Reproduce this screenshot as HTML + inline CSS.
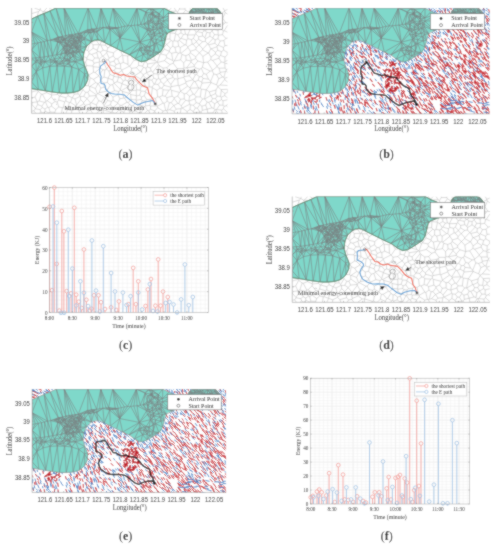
<!DOCTYPE html><html><head><meta charset="utf-8"><style>html,body{margin:0;padding:0;background:#fff;}svg{display:block}</style></head><body><svg width="498" height="550" viewBox="0 0 498 550"><defs><clipPath id="pc"><rect x="31.6" y="8" width="196" height="105.3"/></clipPath><g id="land"><path d="M31.6 19L34.5 17.5L38.4 15.8L42.5 14L46.9 12.3L51.5 10.2L56 8L163.6 8L166.5 9.6L169.3 11.2L172.5 12.4L175.7 13.6L178.5 18L179 24L178.3 28.8L175.7 29.7L172 30.9L168.5 32.1L166 35.3L165.2 40.1L163.6 46.6L161.2 51.4L156.4 54.6L151.6 57.8L146 61L141.1 61.8L136.3 59.6L130.7 55.3L126.5 53.3L122.7 51.6L118.5 49.5L114.6 47.5L110 45.3L105 42.8L100.6 40.2L97 39.9L94 40.2L91.2 41.8L89 43.6L87 45.8L85.5 48.2L84.2 51.5L83.4 55L83.1 60.6L84.8 66.2L86.6 70.5L88.3 74.7L87.6 80.3L86.3 83.2L84.8 85.9L82.2 88.6L79.2 90.8L75.7 92L72.2 92.7L67.2 93.1L62.3 93.2L56.7 92.6L51.1 91.8L46.1 91L41.2 90.1L36.4 89.4L31.6 88.7ZM188.8 14.5L189.8 11.5L192.3 8.6L195 8L214.5 8L217.2 8.8L219.2 10.6L220.6 12.6L221.6 14.5L221.6 20L188.8 20Z" fill="#7fd8ca"/><path d="M154.7 44L152.5 38.5M84.9 66.4L78.8 69.4M71.9 45.6L70 46.1M163.5 46.8L159.7 52.4M56 8L64 8M63.3 39.9L63.4 39M59.6 37.4L58.1 37.2M64 8L88 8M71 43.6L73.3 42M99.9 27.9L103.1 27.5M55.5 60.8L56.7 61.3M59.2 64L63.3 63.5M69.5 39.1L71.5 40.5M103.1 27.5L106.3 27.3M60.8 54.2L65 53.3M56.7 61.3L55.6 61.4M84.7 32.6L84.9 38M154.2 24.1L155.1 23.5M161.2 28.1L162.7 26.4M80.6 35.7L80.7 34.9M155.1 23.5L153.3 21.2M89.3 30.1L87.8 29.7M53.7 60.8L50.2 59.9M78.8 39.3L78.2 38.5M140.7 48.1L139.3 49.8M153.1 10.2L152.9 11.9M142 47.6L144.4 46.5M120 38L140 42M159.6 20L161.5 22.6M121.7 26.9L120 38M63.3 47.4L59.9 42.8M64.3 45.7L66.2 44.1M56.7 54.7L59.9 42.8M78.3 48.1L77.9 49.4M178.7 20.3L173.2 30.5M49.8 66.3L50.8 62.2M71.2 38.1L71.5 40.5M79.9 35.3L77.8 36.4M73.3 54.7L71.7 53.7M79 40.3L78.6 41M53.7 60.8L55 61.7M67.1 50.8L66.6 50.8M72.9 50.8L73.9 51.9M65.4 39.1L64.8 39.5M62.4 40.6L61.2 42.4M74 38.5L73.5 39.3M66.4 52.3L65.7 51.9M160.6 36.4L156.3 39.6M142 47.6L141.1 50.4M163.5 46.8L156.3 43.2M73.5 52L73.9 51.9M160 28.3L161.2 28.1M38.5 89.7L36.3 71.6M159.3 13.7L163.4 17.7M83.9 52.8L80.6 49.3M66.3 60.4L63.3 63.5M145.9 47.7L144.4 46.5M65.6 40.7L64.6 42M40.6 59.7L36.6 60.5M88.5 32.8L90.9 32.8M79.1 51.2L78.7 52.1M66.1 53.9L66.6 52.5M70 47.7L70 46.9M90.9 32.8L89.3 32.5M78.6 39.9L76.8 41.1M50 10.9L62.6 36.4M150.6 14.5L151.8 14.1M148.7 50.5L150.1 50.8M76.5 53.4L77.9 51.7M72.5 43.9L71 43.6M64.5 45.9L64.3 45.7M157 28L156.9 25.4M66.4 52.3L65.9 53.7M73.2 41.4L73.6 42.1M71.6 37L71.2 38.1M143.9 24L147.9 20.5M64.3 45.7L65 43.1M84.4 39.4L81.6 37.2M76.4 48.1L76.4 50.6M63.8 50.3L65.6 50.5M153.9 56.3L147.9 59.9M62.4 40.6L63.1 40.4M50.8 62.2L45 61.7M101 8L113 8M60.4 42.9L61.2 42.4M167.3 33.6L162.7 26.4M123.1 51.8L120 38M159.1 16.4L159.3 13.7M143.9 24L148.4 24.3M66.3 60.4L64.4 58.9M176 14.1L163.4 17.7M53.7 60.8L55.5 60.8M69.2 62.5L75.5 61.7M73.8 51.9L73.9 51.9M69 60.5L70 61.1M57.1 66L59.2 64M152.9 11.9L149.8 8.5M45.4 90.9L49.8 66.3M112.6 27.9L110.4 28.4M94.1 31.9L93.4 31.1M67.6 45.8L67.9 44.1M115.9 28.3L115.6 27.6M88 8L87.8 29.7M42.6 59.8L40.6 59.7M77.3 48.3L76.4 46.6M74.3 52.4L73.9 51.9M72.9 44.9L71.8 45.2M74.7 36.7L74.2 38.2M135.1 58.7L139.3 49.8M76.4 50.6L77.9 49.4M67.9 44.1L68.6 42.4M113 8L118.7 27.7M66.1 38.2L64.3 38.4M116.9 48.7L110.7 45.6M157.8 16.4L159.3 13.7M78.4 34L80.7 34.9M60.8 54.2L60 57.8M50.8 62.2L53.7 60.8M81.2 38.7L80.4 38M63.4 39L63.3 38.8M75.1 41.6L76.2 41.1M53.6 39.5L58.1 37.2M31.6 32L31.6 44M128 25.8L131.2 25.6M67.6 45.8L67.5 46.7M155.2 15.8L155.2 16.4M31.6 66L31.6 77M131.2 25.6L134.4 25.3M78.2 38.5L77.4 37.9M59.9 42.8L58.3 42.1M71 43.6L68.6 42.4M153.3 29.6L154.2 32.5M75.5 61.7L70.3 58.4M82.2 36.2L81.6 37.2M68.8 51.4L68.9 52.3M77.3 48.3L77.8 46M78.6 39.9L78.6 41M75.1 41.6L74.3 42.6M154.7 44L153.9 51M78 43.4L80.7 41.8M155.2 15.8L157.8 16.4M87.6 31.2L89.3 30.1M41.8 61.3L41.5 62.6M64 8L72 34.4M64.4 49.1L65.6 50.5M147.8 54L146 52.1M110 29.4L120 38M115.6 28.5L120 38M112.6 27.9L114.6 28.2M68.4 40.9L66.1 38.2M83.1 59.7L76.5 53.4M147.9 59.9L150 55.8M63.8 50.3L65 52.3M61.6 39.3L62.6 40.2M59.9 41.2L60.4 42.9M113 8L128 25.8M82.2 36.2L84.9 38M61.5 37.2L61.6 39.3M71.2 38.1L73.4 38.6M159.6 20L163.4 17.7M50.4 40.1L57.7 42M69.3 59.8L70.3 58.4M71.9 45.6L71.9 48.4M66.2 43.8L66.2 44.1M163 24.2L161.3 24M113 8L108.9 26.8M137 8L145.8 12.3M91.6 41.6L84.9 38M59.6 37.4L61.5 37.2M151.9 13.2L151.6 13M68.8 51.4L69.5 49.5M37.7 16.1L47.3 40.7M75.4 47L76 47.6M73.3 54.7L73 56.2M152.6 12.6L151.9 13.2M88.5 32.8L89.3 32.5M154.2 33.8L154.2 32.5M41.1 64.8L45 61.7M66.1 38.2L69.2 39M124.9 26.2L120 38M71.9 45.6L74.2 46M67.1 44.7L66.2 44.1M74.3 42.6L75.6 43.7M71 43.6L71.8 45.2M67.6 44L67.9 44.1M71.2 38.1L68.7 37.1M104.5 42.5L98.1 40M83.1 59.7L78.7 52.1M49.8 66.3L45 61.7M77.8 36.4L77.6 37.3M48.4 56.2L52.5 55.5M160.6 36.4L163.2 34.1M90.8 30.8L92.9 31.4M137.6 25L140.8 24.5M163.6 8L163.4 17.7M31.6 19L31.6 32M149.9 46.4L147 46M56.6 38.6L56.3 39.7M154.2 24.1L152.4 22.4M153.9 56.3L153.1 54.3M65.2 39.9L64.8 39.5M69.2 62.5L69 61M149.7 47.2L145.9 47.7M152.4 29.9L150.3 31M160 28.3L159.5 33.2M77.9 51.7L76.4 50.6M147 23L147.9 20.5M80.7 47L79.6 45.5M76 47.6L76.4 48.1M87.7 79.6L84.5 74M161.5 22.6L163.4 21M77.3 48.3L77 48.7M87.5 72.8L87.7 79.6M90.8 30.8L89.3 30.1M81.3 41.3L80.7 41.8M84.7 32.6L82.2 36.2M66.3 60.4L67.5 59.1M71.6 37L71.6 36.7M56.6 38.6L54.9 39.6M76 47.6L75.6 47.9M147 23L148.4 24.3M68.6 51.3L68.8 51.4M71.9 48.4L72.3 48.7M75.9 45.7L74.9 44M150.3 31.8L154.2 32.5M72 34.4L72.5 36M148.7 50.5L145.9 47.7M62.4 40.6L62.6 40.2M59.9 42.8L60.4 42.9M156.3 39.6L161.9 40.6M153.9 51L153.1 52.6M64.5 66.2L59.2 64M70.4 47.3L70 47.7M72.5 52.2L73.3 52.9M148.5 14.8L151.6 13M77.1 38.2L74.2 38.2M109.6 28.2L109.7 28.6M53.7 60.8L54.9 62.4M90.9 32.8L92.9 31.4M109.3 28.3L109.7 28.6M74 38.5L76 40.3M167.3 33.6L165.2 40.1M73.3 54.7L74.3 52.4M53.7 60.8L54.4 58.8M84.9 38L84.4 39.4M63.3 38.8L62.6 40.2M52.5 55.5L57.7 42M50 10.9L56 8M156.3 43.2L161.9 40.6M96.8 28.6L99.9 27.9M129.5 54.7L140 42M72.5 36L71.6 36.7M67.5 59.1L69.3 59.8M62.6 60.8L56.7 61.3M151.3 34.5L151.2 36.7M78 43.4L78.6 41M67.6 44L66.2 43M104.5 42.5L103.1 27.5M73.8 40.2L75.3 41M86.6 46.4L81.3 41.3M65 52.3L65.7 51.9M73.2 56.3L76.6 59.8M145.8 12.3L151.6 13M78.6 39.9L77.1 38.2M148.7 50.5L147.8 54M147.8 54L150.1 50.8M70 47.7L67 49.1M60.8 54.2L64.3 58.4M40.5 61.4L41.5 62.6M110 29.4L109.7 28.6M147.9 20.5L148.5 14.8M159.1 16.4L158.7 18.7M141.1 50.4L139.3 49.8M118.7 27.7L120 38M141.3 61.8L135.1 58.7M68.6 51.3L68.9 52.3M66.1 45.8L66.4 46.7M135.1 58.7L143.2 54.5M76.1 37.1L74.2 38.2M135.1 58.7L129.5 54.7M113 8L124.9 26.2M137 8L152 8M79.6 45.5L78 43.4M153.2 15.6L150.6 14.5M137 8L128 25.8M87.8 31.9L88.5 32.8M31.6 50L34.8 43.4M150.7 20.1L147.9 20.5M163.6 8L153 9.3M81.9 40.1L81.3 41.3M53.6 39.5L57.7 42M118.7 27.7L121.7 26.9M153.7 44.7L149.7 47.2M79.1 37.5L77.6 37.3M70 61.1L70.3 58.4M77.6 36.5L76.8 37.1M64.4 49.1L64.9 48.5M163 24.2L162.7 26.4M154.5 16.7L151.7 20.5M73.4 38.6L74.2 38.2M68.8 63.6L67.8 64.2M157.8 16.4L158.7 18.7M159.1 16.4L157.8 16.4M151.8 14.1L151.6 13M147.9 59.9L147.8 54M60.8 54.2L63.3 47.4M78.6 39.9L76 40.3M43.8 13.5L47.3 40.7M64.3 38.4L62.5 37.3M75.4 47L74.2 46M110.4 28.4L109.6 28.2M152.7 14.3L151.9 13.2M75.9 45.7L76.4 46.6M106.3 27.3L108.9 26.8M80.6 49.3L77.9 49.4M115.6 27.6L114.6 28.2M71.1 47.9L71.9 48.4M64 8L78.3 33.6M67.9 44.1L67.1 44.7M69 60.5L69 61M147.8 54L150 55.8M157.8 16.4L155.2 16.4M40.5 61.4L40.2 63.2M84.9 66.4L84.5 74M73.3 54.7L75.2 56.2M67.3 54.9L70.3 58.4M68.6 51.3L69.5 49.5M67.9 44.1L69.2 44.8M59.9 41.2L61.2 42.4M66.6 50.8L65.7 51.9M61.5 37.2L62.5 37.3M142 47.6L140 42M157.1 23.6L156.9 25.4M78.8 39.3L81.2 38.7M66.6 52.5L67.6 54.4M79.6 45.5L78.7 47M71 43.6L69.2 44.8M66.6 52.5L68.9 53.8M154.7 44L151.2 39.1M75.1 41.6L75.3 41M153 9.3L153.1 10.2M157.1 23.6L158.7 23.5M35.9 62.3L36.6 60.5M153.1 54.3L153.1 52.6M41.1 64.8L40.2 63.2M110.4 28.4L110 29.4M163 24.2L161.5 22.6M129.5 54.7L123.1 51.8M90.8 30.8L90.9 32.8M56.7 54.7L60 57.8M162.4 31.4L162.3 29.3M123.1 51.8L116.9 48.7M79.2 41.6L80.7 41.8M63.2 40.7L61.2 42.4M157.1 23.6L155.1 23.5M158.8 23.6L158.4 21M71.8 45.2L72.4 44.6M121.7 26.9L124.9 26.2M63.3 39.9L63.3 38.8M124.9 26.2L128 25.8M56.8 63.1L56.7 61.3M75.6 47.9L76.4 50.6M76.4 46.6L76.4 48.1M41.1 42.2L40 57.5M79.9 35.3L78.4 34M65.8 52.2L66.4 52.3M66.1 53.9L67.6 54.4M73.6 42.1L74.3 42.6M67.2 45.4L66.1 45.8M78.8 39.3L80.4 38M150.7 20.1L148.5 14.8M65 53.3L65.9 53.7M69.5 49.5L71.7 52.2M59.2 92.9L57.1 66M109.3 28.3L110 29.4M152.4 29.9L149.9 28.8M71.8 45.2L70 46.1M154.6 35.5L152.5 38.5M86.6 46.4L83.9 52.8M69.7 52.4L71.7 52.2M69.2 62.5L68.8 63.6M72.9 50.8L76.4 50.6M67.3 54.9L67.6 54.4M41.1 42.2L44.2 41.5M81.2 37.6L81.2 38.7M56.7 54.7L57.7 42M143.9 24L147 23M123.1 51.8L140 42M67.8 64.2L63.3 63.5M67.6 44L66.2 44.1M156.3 39.6L154.6 35.5M70 46.9L67.5 46.7M69.2 62.5L67.8 64.2M69.5 41.6L70.2 40.9M73.5 52L73.8 51.9M152.9 11.9L151.6 13M73.2 41.4L73.3 42M140.7 48.1L139.9 47.8M94.1 31.9L96.9 32.2M70.1 36.1L71.2 38.1M64.5 66.2L63.3 63.5M65.7 35.5L66.1 38.2M65 53.3L64.3 58.4M154.6 35.5L154.4 33.3M159.3 13.7L159.2 16.3M77.1 38.2L77.4 37.9M67.6 44L66.2 43.8M151.2 36.7L151.2 39.1M153.1 14.3L152.9 11.9M66.1 93.1L71.8 67M31.6 58.2L35.5 61.8M64.5 45.9L63.9 47.4M57.7 42L58.5 39.5M151.2 39.1L149.9 46.4M83.1 59.7L76.6 59.8M81.2 38.7L84.4 39.4M71.8 67L69.2 62.5M31.6 50L31.6 44M81.9 40.1L81.2 38.7M58.5 39.5L58.5 38M31.6 32L34.8 43.4M161.3 24L161.2 28.1M79 40.3L81.3 41.3M70 61.1L69 61M75.6 43.7L77.2 43.8M84.9 38L81.6 37.2M96.8 28.6L91.5 29.1M62.4 40.6L63.2 40.7M160 28.3L162.4 31.4M48.4 56.2L50.2 59.9M167.3 33.6L163.2 34.1M141.1 50.4L144.8 50M47.3 40.7L48.4 56.2M149.8 8.5L151.6 13M71.1 47.9L70.4 47.3M64.3 58.4L64.4 58.9M87.6 31.2L87.8 29.7M69.5 41.6L70.3 40.9M90.9 32.8L89.5 32.3M50 10.9L58.1 37.2M156.3 43.2L153.9 51M65.7 35.5L68.4 36.7M71 43.6L71.5 40.5M40.5 61.4L36.6 60.5M40 57.5L40.6 59.7M64.8 39.5L65.4 39.2M141.1 50.4L143.2 54.5M147.9 59.9L143.2 54.5M75.1 41.6L75.4 42.6M158.7 23.5L156.9 25.4M151.7 20.5L153.3 21.2M75.9 45.7L74.2 46M83.1 59.7L84.9 66.4M71.1 47.9L69.5 49.5M57.1 66L56.8 63.1M70.4 53L71.7 52.2M84.7 32.6L87.6 31.2M84.9 66.4L87.5 72.8M65.4 39.1L64.3 38.4M47.3 40.7L50.4 40.1M62.6 60.8L57.9 63.3M58.5 38L59.4 37.4M93.8 29.7L94.7 29.5M74.7 36.7L72.5 36M50.4 40.1L53.6 39.5M73.7 44.1L74.9 44M74 38.5L74.2 38.2M69.7 52.4L68.9 53.8M73 56.2L71 53.6M76.6 43.1L76.2 41.1M31.6 77L36.3 71.6M148.1 33.9L147.3 30.1M150.3 31L149.9 28.8M96.8 28.6L94.7 29.5M75.2 34L73.9 35.6M115.6 28.5L115.9 28.3M73.5 39.3L71.5 40.5M152.8 15L153.1 14.3M78.6 39.9L78.8 39.3M79.1 51.2L77.9 51.7M74 38.5L73.4 38.6M141.1 50.4L140.7 48.1M75.9 45.7L76 46.1M144.8 50L143.2 54.5M103.1 27.5L110 29.4M149.7 47.2L150.1 50.8M70 47.7L69.5 49.5M66.6 52.5L65.9 53.7M147.1 51L146 52.1M79.2 41.6L78.6 41M158.7 18.7L163.4 17.7M31.6 66L35.9 62.3M147.3 30.1L150.3 31M68.8 34.9L72 34.4M66.1 45.8L65.1 46.5M137 8L145.6 11.5M59.6 37.4L58.5 39.5M63.3 47.4L64.3 45.7M72.5 52.2L71.7 53.7M69.2 44.8L68.6 42.4M78.8 69.4L75.5 61.7M55 61.7L55.6 61.4M154.2 33.8L154.6 35.5M139.3 49.8L143.2 54.5M162.3 29.3L162.7 26.4M149.7 47.2L149.9 46.4M156.3 43.2L154.7 44M137 8L149.8 8.5M59.6 37.4L59.4 37.4M41.8 61.3L42.6 59.8M155.2 15.8L152.9 11.9M153.1 10.2L149.8 8.5M145.6 11.5L145.8 12.3M160 28.3L156.9 25.4M49.8 66.3L54.9 62.4M96.9 32.2L97.1 31.5M115.6 28.5L115.6 27.6M154.2 24.1L155.5 25.5M52.3 92L57.1 66M112.4 28.8L110 29.4M76.6 43.1L76.8 41.1M151.2 39.1L140 42M77.4 37.9L76.8 37.1M67.2 45.4L67.9 44.1M69.5 49.5L68.2 50.7M66.1 53.9L65.9 53.7M80.7 47L80.7 41.8M80.6 35.7L81.6 37.2M112.4 28.8L115.6 28.5M143.9 24L147.9 29.1M99.9 27.9L97.1 31.5M76.4 48.1L77 48.7M158.4 21L159.6 20M55.5 60.8L55.6 61.4M72.9 44.9L72.4 44.6M142 47.6L144.8 50M152.4 29.9L150.3 31.8M68.8 34.9L70.1 36.1M153.9 51L150.1 50.8M79.9 35.3L80.7 34.9M160.6 36.4L159.5 33.2M162.4 31.4L163.2 34.1M56.7 54.7L63.3 47.4M92.8 30L92.9 31.4M159.3 13.7L153.1 10.2M63.9 47.4L65.1 46.5M52.5 55.5L54.4 58.8M66.1 93.1L64.5 66.2M69.2 44.8L71.8 45.2M66.1 53.9L64.3 58.4M110.7 45.6L104.5 42.5M35.8 57.8L35.5 61.8M70.1 36.1L71.6 36.7M79 40.3L81.2 38.7M157.8 29.5L157 28M69.2 62.5L66.3 60.4M65 43.1L65.4 43M148.4 24.3L147.9 29.1M56.8 63.1L57.9 63.3M134.4 25.3L137.6 25M160 28.3L162.3 29.3M57.7 42L56.3 39.7M74.7 36.7L73.9 35.6M153.1 27.3L154.2 24.1M87.8 31.9L89.3 32.5M68.4 36.7L66.1 38.2M67.3 54.9L64.3 58.4M66.3 60.4L67.8 64.2M67.6 44L68.6 42.4M64.3 58.4L67.5 59.1M77.3 48.3L78.7 47M58.5 39.5L59.4 37.4M145.9 47.7L144.8 50M148.6 28.4L149.9 28.8M79.1 51.2L79.3 51.9M72.9 50.8L69.5 49.5M155.1 23.5L152.4 22.4M31.6 50L31.6 58.2M73.8 40.2L73.5 39.3M70 46.1L69.1 45.8M77.3 48.3L76.4 48.1M67.1 50.8L67 49.1M152.8 15L151.8 14.1M142 47.6L140.7 48.1M79.6 45.5L80.7 41.8M148.1 33.9L140 42M71.6 37L72.5 36M73.5 39.3L73.4 38.6M115.9 28.3L117.4 28.1M72.5 43.9L72.4 44.6M77.8 46L76.4 46.6M71.1 47.9L71.9 45.6M42.6 59.8L45 61.7M65.4 43L64.6 42M141.3 61.8L143.2 54.5M76.6 43.1L78 43.4M76.4 50.6L73.9 51.9M73.2 56.3L70.3 58.4M74 40L75.3 41M84.7 32.6L88.5 32.8M64.5 45.9L65.1 46.5M62.6 60.8L66.3 60.4M71.2 38.1L69.2 39M57.7 42L54.9 39.6M137 8L131.2 25.6M87.8 31.9L87.6 31.2M81.2 38.7L81.6 37.2M71.8 67L68.8 63.6M31.6 50L37.9 42.9M77.6 37.3L76.8 37.1M104.5 42.5L110 29.4M154.6 35.5L159.5 33.2M76.6 43.1L77.2 43.8M31.6 32L41.1 42.2M54.9 39.6L56.3 39.7M158.4 21L153.3 21.2M69 60.5L67.5 59.1M74.3 42.6L74.9 44M151.3 34.5L150.3 31.8M43.8 13.5L50.4 40.1M77.8 46L78.7 47M152.7 14.3L151.8 14.1M91.5 29.1L92.8 30M150.1 50.8L150 55.8M153.7 44.7L153.9 51M68.4 36.7L68.7 37.1M62.6 36.4L62.5 37.3M115.6 27.6L117.4 28.1M148.1 33.9L151.3 34.5M73.2 56.3L75.5 61.7M147.8 54L143.2 54.5M70.3 40.9L71.5 40.5M66.6 50.8L67 49.1M70.1 36.1L71.8 35.3M98.1 40L91.6 41.6M44.2 56.9L45 61.7M64.6 42L63.2 40.7M67.5 46.7L67 49.1M91.6 41.6L86.6 46.4M34.8 43.4L37.9 42.9M59.9 42.8L57.7 42M58.3 42.1L59.9 41.2M37.9 42.9L41.1 42.2M62.6 60.8L60 57.8M140.8 24.5L143.9 24M75.4 47L75.6 47.9M54.4 58.8L56.7 61.3M158.4 21L154.5 16.7M169.7 11.3L163.4 17.7M143.9 24L145.8 12.3M68.6 51.3L68.2 50.7M69.5 41.6L68.6 42.4M96.8 28.6L97.1 31.5M41.8 61.3L40.5 61.4M65 43.1L61.2 42.4M73.7 44.1L72.9 44.9M70 47.7L67.5 46.7M152 8L149.8 8.5M52.3 92L49.8 66.3M77.8 46L75.9 45.7M152.6 12.6L151.6 13M118.7 27.7L115.6 27.6M69.7 52.4L70.4 53M69.2 39L68.7 37.1M74 40L76 40.3M63.8 50.3L64.4 49.1M110.4 28.4L109.7 28.6M65.6 40.7L63.2 40.7M71.8 35.3L71.6 36.7M66.1 38.2L68.7 37.1M73 92.5L71.8 67M80.6 35.7L79.3 37.5M66.2 43L65.4 43M42.7 67.9L49.8 66.3M77.6 36.5L78.4 34M65.4 39.1L65.4 39.2M76.6 59.8L75.5 61.7M103.1 27.5L97.1 31.5M76 46.1L75.5 46.7M59.9 40.8L61.6 39.3M69 60.5L66.3 60.4M41.1 42.2L44.2 56.9M57.9 63.3L59.2 64M71.6 37L73.4 38.6M72.5 52.2L71.7 52.2M153.7 44.7L154.7 44M55 61.7L54.9 62.4M64.8 39.5L64.3 38.4M89.3 30.1L91.5 29.1M54.4 58.8L50.2 59.9M150.6 14.5L151.6 13M150.7 20.1L150.6 14.5M129.5 54.7L139.9 47.8M94.7 29.5L97.1 31.5M72.5 43.9L73.7 44.1M56.7 54.7L54.4 58.8M59.2 92.9L64.5 66.2M154.4 33.3L159.5 33.2M65.6 40.7L65.2 39.9M112.4 28.8L120 38M73.7 44.1L74.2 46M71.7 53.7L73.3 52.9M76 47.6L75.5 46.7M153.1 54.3L150 55.8M153.9 56.3L150 55.8M71.7 53.7L71.7 52.2M83.1 59.7L79.3 51.9M173.2 30.5L163 24.2M69.5 49.5L72.3 48.7M59.9 40.8L58.3 42.1M66.4 46.7L67.5 46.7M83.9 52.8L83.1 59.7M72.5 36L74.2 38.2M163.6 8L159.3 13.7M67.6 45.8L69.2 44.8M44.2 41.5L47.3 40.7M74.2 46L72.3 48.7M154.2 33.8L151.3 34.5M68.6 51.3L66.6 52.5M63 62.4L59.2 64M149.9 28.8L147.9 29.1M161.9 37L163.2 34.1M68.9 53.8L68.9 52.3M160 28.3L161.3 24M153.2 15.6L151.7 20.5M101 8L108.9 26.8M152.4 29.9L153.3 29.6M76.2 52.1L74.3 52.4M72.5 36L73.4 38.6M93.4 31.1L92.8 30M112.4 28.8L112.6 27.9M77.1 38.2L76.8 37.1M159.3 13.7L152.9 11.9M88 8L96.8 28.6M77.3 48.3L77.9 49.4M148.1 33.9L151.2 36.7M72.9 44.9L74.2 46M72.5 43.9L72.9 44.9M101 8L96.8 28.6M79.6 90.5L73 92.5M77.6 37.3L77.4 37.9M77.9 51.7L77.9 49.4M31.6 32L37.9 42.9M79 40.3L79.2 41.6M73 92.5L66.1 93.1M91.6 41.6L88.5 32.8M62.6 36.4L65.7 35.5M67.1 50.8L66.4 52.3M157.8 29.5L154.4 33.3M75.9 45.7L77.2 43.8M150 22L148.6 21.6M65.7 35.5L68.8 34.9M59.9 42.8L59.9 41.2M57.1 66L64.5 66.2M156.3 39.6L152.5 38.5M75.6 47.9L76.4 48.1M79.3 51.9L79.9 50.4M65.6 50.5L67 49.1M73.3 52.9L74.3 52.4M64.5 66.2L71.8 67M154.6 35.5L152.3 38.1M47.3 40.7L52.5 55.5M148.5 14.8L150.6 14.5M71.8 67L75.5 61.7M145.9 47.7L147 46M176 14.1L163.4 21M31.6 50L40 57.5M79 40.3L78.8 40.2M86.6 46.4L84.4 39.4M90.9 32.8L94.1 31.9M72.9 50.8L71.7 52.2M148.7 50.5L147.1 50.4M73.5 52L73.3 52.9M78.3 33.6L78.4 34M147.9 20.5L145.8 12.3M109.3 28.3L108.9 26.8M94.1 31.9L94.7 29.5M70.4 47.3L70 46.9M68.4 40.9L66.2 43M88 8L91.5 29.1M71 53.6L71.7 52.2M157.8 29.5L153.3 29.6M48.4 56.2L45 61.7M71 53.6L70.3 58.4M77.8 36.4L77.6 36.5M76.1 37.1L76.8 37.1M81.2 37.6L80.6 35.7M73.3 42L71.5 40.5M57.5 39.2L57.7 42M83.1 59.7L75.5 61.7M78.6 39.9L78.2 38.5M137 8L137.6 25M87.8 31.9L89.3 30.1M143.9 24L147.3 30.1M81.9 40.1L84.4 39.4M67.6 44L67.1 44.7M64.3 58.4L62.6 60.8M63.8 50.3L63.3 47.4M53.6 39.5L54.9 39.6M66.1 53.9L67.3 54.9M72 34.4L73.9 35.6M72.9 50.8L75.6 47.9M31.6 32L47.3 40.7M113 8L115.6 27.6M150 22L152.4 22.4M173.2 30.5L163.4 21M67.6 54.4L68.9 53.8M91.5 29.1L94.7 29.5M150 22L151.7 20.5M78.3 48.1L78.7 47M69.5 39.1L70.2 40.9M40 57.5L36.6 60.5M76.6 43.1L75.4 42.6M79.1 37.5L79.3 37.5M66.1 93.1L59.2 92.9M144.4 46.5L140 42M62.6 36.4L58.1 37.2M77.6 36.5L76.1 37.1M59.2 92.9L52.3 92M78.6 41L78.8 40.2M83.9 52.8L79.3 51.9M57.1 66L57.9 63.3M77.2 43.8L78 43.4M72 34.4L75.2 34M159.6 20L163.4 21M78.8 69.4L84.5 74M153.1 52.6L150.1 50.8M65.2 39.9L65.4 39.2M158.8 23.6L156.9 25.4M158.4 21L158.7 18.7M144.8 50L147.1 50.4M87.8 29.7L91.5 29.1M147.1 51L147.8 54M68.8 34.9L71.8 35.3M147.3 30.1L150.3 31.8M153.7 44.7L151.2 39.1M68.4 40.9L70.2 40.9M158.8 23.6L158.7 23.5M64.8 39.5L63.4 39M79.6 90.5L78.8 69.4M64.4 49.1L63.3 47.4M178.5 27.2L173.2 30.5M58.1 37.2L58.5 38M67.3 54.9L68.9 53.8M69.5 39.1L70.3 40.9M75.3 41L76.2 41.1M90.8 30.8L89.5 32.3M76 40.3L74.2 38.2M37.7 16.1L43.8 13.5M153.2 15.6L153.1 14.3M73.2 41.4L71.5 40.5M110.7 45.6L110 29.4M158.7 18.7L159.2 16.3M31.6 66L35.5 61.8M65 53.3L66.1 53.9M78.8 39.3L79 40.3M159.7 52.4L156.3 43.2M64.9 48.5L67 49.1M165.2 40.1L161.9 40.6M154.2 32.5L154.4 33.3M76.4 46.6L75.5 46.7M63.3 47.4L63.9 47.4M159.6 20L158.7 18.7M75.2 34L77.6 36.5M157.1 23.6L155.5 25.5M73.7 44.1L74.3 42.6M65 52.3L65.8 52.2M153.1 52.6L150 55.8M71.1 47.9L70 47.7M56 8L62.6 36.4M144.8 50L144.4 46.5M69.5 39.1L71.2 38.1M137.6 25L140 42M41.8 61.3L40.6 59.7M145.6 11.5L149.8 8.5M42.7 67.9L41.1 64.8M153.1 27.3L155.5 25.5M79.1 51.2L79.9 50.4M63.3 39.9L63.1 40.4M65 43.1L64.6 42M81.2 37.6L80.4 38M148.4 24.3L148.6 21.6M31.6 44L34.8 43.4M116.9 48.7L120 38M70.4 47.3L70 46.1M151.2 36.7L152.3 38.1M153.1 27.3L149.9 28.8M50.4 40.1L52.5 55.5M31.6 50L35.8 57.8M63.3 47.4L60.4 42.9M63 62.4L63.3 63.5M69.2 62.5L70 61.1M147 46L144.4 46.5M178.7 20.3L163.4 21M150.3 31.8L150.3 31M73.8 40.2L71.5 40.5M65.6 50.5L65.7 51.9M69.5 49.5L67 49.1M56.8 63.1L55.6 61.4M160.6 36.4L154.6 35.5M152.4 29.9L154.2 32.5M76.2 52.1L73.9 51.9M151.9 13.2L151.8 14.1M108.9 26.8L115.6 27.6M81.5 33.1L78.4 34M64.3 45.7L63.9 47.4M93.4 31.1L94.7 29.5M71.9 45.6L71.8 45.2M148.4 24.3L148.6 28.4M74 40L73.5 39.3M64.9 48.5L66.4 46.7M86.6 46.4L80.7 47M79.9 35.3L80.6 35.7M81.5 33.1L82.2 36.2M151.2 39.1L147 46M137 8L134.4 25.3M56.6 38.6L58.1 37.2M84.9 66.4L75.5 61.7M53.6 39.5L56.6 38.6M69.5 41.6L68.4 40.9M31.6 32L44.2 41.5M91.6 41.6L90.9 32.8M55.6 61.4L54.9 62.4M36.3 71.6L42.7 67.9M160 28.3L157.8 29.5M81.2 37.6L81.6 37.2M148.4 24.3L152.4 22.4M73.7 44.1L73.6 42.1M64.5 66.2L67.8 64.2M31.7 88.7L31.6 82M37.9 42.9L40 57.5M65.1 46.5L66.4 46.7M77.9 51.7L78.7 52.1M148.5 14.8L145.8 12.3M77.1 38.2L76 40.3M145.9 47.7L147.1 50.4M65 43.1L66.2 44.1M157.8 29.5L159.5 33.2M64.3 45.7L60.4 42.9M156.3 39.6L154.7 44M94.1 31.9L97.1 31.5M81.9 40.1L79 40.3M68.9 53.8L70.3 58.4M152.3 38.1L152.5 38.5M75.4 47L72.3 48.7M65 43.1L66.2 43.8M157.8 29.5L154.2 32.5M71.9 48.4L74.2 46M76.8 41.1L76.2 41.1M64.9 48.5L63.9 47.4M155.5 25.5L156.9 25.4M76.4 50.6L77 48.7M152 8L153 9.3M75.5 61.7L70 61.1M66.6 52.5L68.9 52.3M84.7 32.6L87.8 29.7M67.5 59.1L64.4 58.9M57.5 39.2L58.5 38M62.6 60.8L63 62.4M57.7 42L58.3 42.1M68.4 40.9L65.6 40.7M87.8 31.9L89.5 32.3M64.3 38.4L63.4 39M77.1 38.2L78.2 38.5M78 43.4L79.2 41.6M65 53.3L65.8 52.2M62.6 36.4L61.5 37.2M66.4 52.3L66.6 52.5M163.4 17.7L159.2 16.3M147.9 20.5L148.6 21.6M147.1 51L144.8 50M86.6 46.4L80.6 49.3M82.2 36.2L80.7 34.9M70.3 40.9L70.2 40.9M68.6 51.3L67.1 50.8M151.3 34.5L154.2 32.5M128 25.8L120 38M65.4 39.1L66.1 38.2M67.6 45.8L69.1 45.8M73.6 42.1L75.1 41.6M131.2 25.6L140 42M70.4 53L71 53.6M74 40L73.8 40.2M158.4 21L158.7 23.5M155.5 25.5L155.1 23.5M73 92.5L78.8 69.4M77.9 51.7L76.2 52.1M153.2 15.6L152.8 15M87.7 79.6L84.8 85.9M73.2 56.3L73 56.2M69.2 44.8L69.1 45.8M55 61.7L55.5 60.8M69.3 59.8L70 61.1M84.8 85.9L79.6 90.5M36.3 71.6L41.1 64.8M147 23L148.6 21.6M77.6 36.5L77.6 37.3M59.6 37.4L62.6 36.4M70.4 53L68.9 53.8M59.9 40.8L61.2 42.4M158.4 21L155.1 23.5M58.1 37.2L59.4 37.4M49.8 66.3L57.1 66M37.7 16.1L31.6 32M163.5 46.8L161.9 40.6M152.6 12.6L152.7 14.3M72.9 44.9L71.9 45.6M153.1 27.3L152.4 22.4M44.2 41.5L48.4 56.2M65 52.3L65.6 50.5M78.8 39.3L79.3 37.5M149.7 47.2L147 46M41.5 62.6L45 61.7M59.6 37.4L61.6 39.3M72.5 43.9L73.6 42.1M40.5 61.4L40.6 59.7M115.6 28.5L117.4 28.1M75.2 34L76.1 37.1M76.5 53.4L78.7 52.1M153 9.3L149.8 8.5M40 57.5L42.6 59.8M89.5 32.3L89.3 32.5M163.6 8L169.7 11.3M76.6 43.1L75.6 43.7M79.1 37.5L77.8 36.4M77.8 46L78 43.4M151.7 20.5L152.4 22.4M80.7 47L78.3 48.1M45.4 90.9L38.5 89.7M77.9 49.4L77 48.7M69.5 39.1L69.2 39M167.3 33.6L162.4 31.4M38.5 89.7L31.7 88.7M78.3 33.6L81.5 33.1M69.2 44.8L70 46.1M69.7 52.4L68.8 51.4M60.8 54.2L65 52.3M81.5 33.1L84.7 32.6M110.7 45.6L120 38M31.6 58.2L35.8 57.8M153.1 27.3L157 28M158.8 23.6L161.3 24M77.8 46L77.2 43.8M35.8 57.8L40 57.5M71.8 35.3L72.5 36M78.8 39.3L79.1 37.5M63.3 39.9L62.6 40.2M54.4 58.8L60 57.8M158.4 21L157.1 23.6M155.2 15.8L153.1 14.3M163.2 34.1L159.5 33.2M108.9 26.8L110.4 28.4M35.9 62.3L39.6 63.5M84.9 38L88.5 32.8M80.7 47L81.3 41.3M73.2 41.4L75.1 41.6M73.2 56.3L73.3 54.7M75.4 42.6L76.2 41.1M101 8L99.9 27.9M35.8 57.8L36.6 60.5M66.2 43L66.2 43.8M56.6 38.6L57.5 39.2M70.1 36.1L68.7 37.1M68.4 40.9L69.2 39M103.1 27.5L96.9 32.2M78.3 33.6L87.8 29.7M66.6 50.8L65.6 50.5M81.2 37.6L79.3 37.5M75.6 47.9L72.3 48.7M76.8 41.1L78.6 41M76.5 53.4L76.2 52.1M71 43.6L72.4 44.6M63.1 40.4L62.6 40.2M90.8 30.8L92.8 30M71.8 67L67.8 64.2M69.5 41.6L71 43.6M58.5 39.5L61.6 39.3M159.3 13.7L153 9.3M150.7 20.1L148.6 21.6M76 46.1L76.4 46.6M146 52.1L143.2 54.5M162.3 29.3L161.2 28.1M76.8 41.1L78 43.4M65.2 39.9L63.2 40.7M56.8 63.1L54.9 62.4M94.1 31.9L92.9 31.4M159.7 52.4L153.9 51M73.9 35.6L72.5 36M81.5 33.1L80.7 34.9M68.4 40.9L68.6 42.4M75.6 43.7L75.4 42.6M69.7 52.4L68.9 52.3M71.9 48.4L69.5 49.5M72.9 50.8L72.3 48.7M176 14.1L178.7 20.3M148.1 33.9L150.3 31.8M178.7 20.3L178.5 27.2M154.5 16.7L153.3 21.2M57.5 39.2L58.5 39.5M137 8L140.8 24.5M71.7 53.7L73 56.2M31.6 19L37.7 16.1M84.7 32.6L87.8 31.9M42.7 67.9L45 61.7M66.3 60.4L63 62.4M58.5 39.5L58.3 42.1M76 47.6L76.4 46.6M60 57.8L56.7 61.3M73.8 40.2L75.1 41.6M40 57.5L44.2 56.9M161.9 37L160.6 36.4M156.3 39.6L156.3 43.2M62.4 40.6L61.6 39.3M44.2 56.9L48.4 56.2M148.1 33.9L151.2 39.1M160 28.3L158.8 23.6M153.2 15.6L154.5 16.7M153.3 29.6L157 28M152.8 15L152.7 14.3M159.7 52.4L153.1 54.3M67.5 59.1L70.3 58.4M62.6 60.8L59.2 64M50.8 62.2L50.2 59.9M153.1 27.3L148.4 24.3M155.2 15.8L153.2 15.6M65.6 40.7L65.4 43M153.1 14.3L152.7 14.3M74.7 36.7L76.1 37.1M131.2 25.6L120 38M88 8L78.3 33.6M64.3 45.7L61.2 42.4M134.4 25.3L140 42M76.5 53.4L73.3 54.7M83.9 52.8L79.9 50.4M80.4 38L79.3 37.5M87.5 72.8L84.5 74M80.6 49.3L80.7 47M159.7 52.4L153.9 56.3M69.7 52.4L69.5 49.5M36.3 71.6L35.9 62.3M76.2 41.1L76 40.3M75.4 47L75.5 46.7M150.7 20.1L151.7 20.5M62.6 36.4L64.3 38.4M88 8L101 8M63.3 38.8L61.6 39.3M163.6 8L152 8M64.9 48.5L65.1 46.5M69.1 45.8L67.5 46.7M78.2 38.5L77.6 37.3M106.3 27.3L109.3 28.3M67.1 50.8L68.2 50.7M67.2 45.4L67.1 44.7M67.2 45.4L66.4 46.7M75.3 41L76 40.3M73.2 56.3L75.2 56.2M76.5 53.4L74.3 52.4M73.3 54.7L73.3 52.9M98.1 40L94.1 31.9M44.2 41.5L44.2 56.9M64.3 58.4L60 57.8M153.7 44.7L149.9 46.4M31.6 66L31.6 58.2M150.3 31L147.9 29.1M69 60.5L69.3 59.8M163 24.2L163.4 21M40.5 61.4L39.6 63.5M45.4 90.9L42.7 67.9M115.6 28.5L114.6 28.2M112.6 27.9L108.9 26.8M151.2 39.1L152.5 38.5M118.7 27.7L117.4 28.1M39.6 63.5L40.2 63.2M44.2 56.9L42.6 59.8M150 22L150.7 20.1M73.8 40.2L73.2 41.4M67.6 45.8L66.4 46.7M64.8 39.5L63.2 40.7M79.6 90.5L84.5 74M66.2 43.8L65.4 43M75.9 45.7L75.6 43.7M64.4 49.1L63.9 47.4M167.3 33.6L162.3 29.3M93.8 29.7L93.4 31.1M78.6 39.9L79 40.3M173.2 30.5L167.3 33.6M65 53.3L65 52.3M64.6 42L61.2 42.4M38.5 89.7L31.6 82M160.6 36.4L161.9 40.6M104.5 42.5L96.9 32.2M41.1 64.8L39.6 63.5M35.5 61.8L36.6 60.5M66.1 45.8L64.5 45.9M66.4 52.3L66.6 50.8M56 8L65.7 35.5M155.5 25.5L157 28M41.5 62.6L40.2 63.2M64 8L68.8 34.9M147.9 59.9L141.3 61.8M79.1 37.5L78.2 38.5M80.7 47L78.7 47M66.1 45.8L67.1 44.7M67.1 50.8L66.6 52.5M113 8L137 8M61.6 39.3L62.5 37.3M81.5 33.1L87.8 29.7M160 28.3L157 28M79.9 35.3L79.3 37.5M90.8 30.8L91.5 29.1M147 46L140 42M76.5 53.4L75.2 56.2M57.9 63.3L56.7 61.3M71.8 67L78.8 69.4M137.6 25L147.3 30.1M93.8 29.7L92.8 30M74.2 46L74.9 44M68.4 40.9L65.4 39.2M31.6 82L36.3 71.6M54.4 58.8L55.5 60.8M149.7 47.2L148.7 50.5M140.8 24.5L145.8 12.3M152.4 22.4L153.3 21.2M142 47.6L139.9 47.8M108.9 26.8L109.6 28.2M66.2 43L68.6 42.4M60.8 54.2L63.8 50.3M93.4 31.1L92.9 31.4M158.7 18.7L155.2 16.4M112.4 28.8L110.4 28.4M35.9 62.3L35.5 61.8M71.7 53.7L71 53.6M67.3 54.9L67.5 59.1M152.6 12.6L152.9 11.9M41.1 64.8L41.5 62.6M158.8 23.6L161.5 22.6M64.8 39.5L63.3 39.9M67.2 45.4L67.6 45.8M75.2 56.2L76.6 59.8M129.5 54.7L139.3 49.8M79.9 35.3L79.1 37.5M81.3 41.3L84.4 39.4M101 8L106.3 27.3M58.5 39.5L59.9 40.8M153.1 27.3L153.3 29.6M161.3 24L162.7 26.4M139.9 47.8L140 42M63.3 39.9L63.2 40.7M79.1 51.2L77.9 49.4M66.1 38.2L65.4 39.2M77.8 36.4L78.4 34M52.5 55.5L50.2 59.9M66.4 46.7L67 49.1M76.8 41.1L76 40.3M76.2 52.1L76.4 50.6M165.2 40.1L163.2 34.1M57.5 39.2L56.3 39.7M73.5 52L74.3 52.4M77.1 38.2L76.1 37.1M153.1 14.3L152.6 12.6M148.6 28.4L147.9 29.1M75.2 34L74.7 36.7M89.3 30.1L89.5 32.3M79.6 45.5L77.8 46M73.5 52L72.5 52.2M68.8 34.9L68.4 36.7M161.9 37L161.9 40.6M147.3 30.1L140 42M109.3 28.3L109.6 28.2M159.7 52.4L153.1 52.6M50.2 59.9L45 61.7M112.4 28.8L114.6 28.2M153.1 27.3L152.4 29.9M70 46.9L69.1 45.8M65.7 35.5L64.3 38.4M165.2 40.1L161.9 37M62.4 40.6L59.9 40.8M66.1 45.8L66.2 44.1M84.8 85.9L84.5 74M148.4 24.3L149.9 28.8M52.3 92L45.4 90.9M63.1 40.4L63.2 40.7M154.6 35.5L151.2 36.7M75.2 34L78.3 33.6M68.4 36.7L70.1 36.1M68.2 50.7L67 49.1M56.6 38.6L58.5 38M79 40.3L80.7 41.8M75.6 43.7L74.9 44M91.6 41.6L94.1 31.9M155.2 15.8L159.3 13.7M65.8 52.2L65.7 51.9M163.4 17.7L163.4 21M75.9 45.7L75.5 46.7M71 43.6L70.3 40.9M45.4 90.9L36.3 71.6M72.5 52.2L72.9 50.8M152.8 15L150.6 14.5M139.9 47.8L139.3 49.8M152.3 38.1L151.2 39.1M78.6 39.9L78.8 40.2M39.6 63.5L36.6 60.5M159.1 16.4L159.2 16.3M66.3 60.4L69 61M161.3 24L161.5 22.6M155.2 15.8L154.5 16.7M83.1 59.7L75.2 56.2M72 34.4L71.8 35.3M106.3 27.3L110 29.4M64.9 48.5L65.6 50.5M65.8 52.2L65.9 53.7M79.3 51.9L78.7 52.1M43.8 13.5L50 10.9M71 53.6L68.9 53.8M36.3 71.6L39.6 63.5M70 46.9L70 46.1M63.3 38.8L62.5 37.3M52.5 55.5L56.7 54.7M154.5 16.7L158.7 18.7M173.2 30.5L162.7 26.4M56.7 54.7L60.8 54.2M62.6 60.8L64.4 58.9M151.3 34.5L154.6 35.5M64.3 38.4L63.3 38.8M98.1 40L96.9 32.2M77.3 48.3L78.3 48.1M72.9 50.8L73.8 51.9M80.6 49.3L79.9 50.4M69.5 39.1L68.4 40.9M91.6 41.6L84.4 39.4M64 8L65.7 35.5M145.8 12.3L149.8 8.5M57.1 66L54.9 62.4M147.1 51L147.1 50.4M154.5 16.7L155.2 16.4M70.4 47.3L71.9 45.6M112.6 27.9L115.6 27.6M73 56.2L70.3 58.4M75.2 34L78.4 34M50.8 62.2L54.9 62.4M65.6 40.7L65.4 39.2M154.2 33.8L154.4 33.3M150.7 20.1L153.2 15.6M66.1 45.8L64.3 45.7M74 40L74 38.5M59.9 40.8L59.9 41.2M74.3 42.6L75.4 42.6M169.7 11.3L176 14.1M73.5 39.3L71.2 38.1M113 8L121.7 26.9M82.2 36.2L80.6 35.7M74.2 46L75.5 46.7M93.8 29.7L91.5 29.1M65.6 40.7L66.2 43M50.4 40.1L58.1 37.2M80.6 49.3L78.3 48.1M31.6 82L31.6 77M140.8 24.5L147.3 30.1M147.3 30.1L147.9 29.1M150 22L148.4 24.3M31.6 66L36.3 71.6M147.1 51L148.7 50.5M72.5 43.9L73.3 42M162.4 31.4L159.5 33.2M43.8 13.5L58.1 37.2M73.3 42L73.6 42.1M158.4 21L161.5 22.6M144.8 50L146 52.1M149.7 47.2L153.9 51M73.5 52L72.9 50.8M41.8 61.3L45 61.7M64 8L75.2 34M117.4 28.1L120 38M71.6 37L70.1 36.1M79.9 50.4L77.9 49.4M101 8L103.1 27.5M165.2 40.1L163.5 46.8M218.2 9.7L218.7 10.3M208.6 12.5L208.1 8.5M197.3 8.7L195.5 8.9M208.7 8L209.1 9.3M214.5 8L212.9 11M218.2 9.7L217.3 9.2M212.6 8L211.2 8.6M202.8 8L201.7 9.2M214.6 13.7L217 13.9M198.9 8L200.8 8M193.1 12.2L194 12M212.9 11L213.5 11.9M201.5 10.4L202.4 10.8M200.5 12.2L195.4 12.2M188.8 20L204.3 12.9M211.8 13.1L213.5 12.8M206.7 8L205.5 13.1M198.6 11.7L196 11.8M198.6 11.7L195.4 12.2M201.5 10.4L199.3 10.5M218.2 9.7L217.5 8.8M221.6 20L214.2 13.8M189.8 11.5L190.4 10.4M214.6 13.7L213.5 12.8M215.9 10.7L217 10.7M202.4 10.8L203 12.4M221.6 20L205.5 13.1M213.5 11.9L213.5 12.8M210.6 8L212.6 8M191.1 10.1L191.6 10.6M193.7 8.3L194 12M200.8 8L202.8 8M211.8 13.1L211.6 12.7M217.4 11.7L217.8 12.6M203.8 11.5L203 12.4M218.9 12.8L218.9 13.4M212.6 8L214.5 8M196.9 8L197.3 8.7M188.8 20L195.4 12.2M195 8L195.5 8.9M191.7 9.7L192.5 11.9M195.8 11.1L194 12M217.3 9.2L217 10.7M202.4 10.8L203.8 11.5M200.8 8L199.3 10.5M212.9 11L211.2 8.6M204.8 8L204.1 9.2M193.1 12.2L195.4 12.2M199.3 10.5L198.3 9.8M190.9 11.3L190.5 12.2M218.7 10.3L217 10.7M191.1 10.1L190.8 11M219.9 11.6L219.8 11.6M215.9 10.7L212.9 11M214.5 8L215.8 8.4M201.1 10.8L201.5 10.4M215.8 8.4L217.3 9.2M220.6 12.6L218.9 13.4M206.7 8L208.7 8M220.6 12.6L221.1 13.6M189.8 11.5L190.5 12.2M218.2 9.7L217 10.7M220.6 12.6L218.9 12.8M198.6 11.7L196.7 10.8M211.6 12.7L209.4 9M211.6 12.7L213.5 12.8M192.3 8.6L191.7 9.7M221.6 14.5L218.9 13.4M208.7 8L210.6 8M208.7 8L208.1 8.5M189.8 11.5L190.9 11.3M209.1 9.3L209.4 9M195.8 11.1L195.4 12.2M214.6 13.7L213.5 11.9M219.2 10.6L217.4 11.7M193.1 12.2L192.5 11.9M193.7 8.3L195.8 11.1M205.5 13.1L204.3 12.9M221.1 13.6L221.6 14.5M214.2 13.8L213.6 14M196.7 10.8L198.3 9.8M205.5 13.1L208.1 8.5M218.9 12.8L217.8 12.6M214.6 13.7L217.4 11.7M217.2 8.8L217.3 9.2M215.9 10.7L214.6 13.7M221.6 14.5L221.6 20M213.5 13.7L213.6 14M190.9 11.3L191.6 10.6M219.2 10.6L219.9 11.6M205.5 13.1L208.6 12.5M197.3 8.7L198.3 9.8M218.9 12.8L219.8 11.6M211.6 12.7L209.1 9.3M200.5 12.2L203 12.4M188.8 20L205.5 13.1M217.2 8.8L217.5 8.8M221.6 20L217 13.9M215.9 10.7L213.5 11.9M192.5 11.9L191.6 10.6M221.6 20L188.8 20M217 13.9L217.4 11.7M202.4 10.8L204.1 9.2M201.1 10.8L199.3 10.5M188.8 14.5L190.5 12.2M219.9 11.6L220.6 12.6M190.9 11.3L190.8 11M219.2 10.6L218.9 12.8M196.7 10.8L197.3 8.7M205.5 13.1L204.1 9.2M193.7 8.3L195.5 8.9M211.6 12.7L213.5 11.9M215.9 10.7L217.4 11.7M215.8 8.4L217.2 8.8M215.8 8.4L215.9 10.7M211.8 13.1L208.6 12.5M204.1 9.2L203.8 11.5M196 11.8L195.4 12.2M195.8 11.1L195.5 8.9M201.5 10.4L201.7 9.2M220.6 12.6L219.8 11.6M193.1 12.2L190.5 12.2M201.1 10.8L200.5 12.2M189.8 11.5L190.8 11M214.2 13.8L213.5 13.7M193.7 8.3L195 8M200.5 12.2L199.3 10.5M190.8 11L190.4 10.4M212.6 8L212.9 11M212.9 11L211.6 12.7M205.5 13.1L213.6 14M214.2 13.8L217 13.9M191.7 9.7L191.6 10.6M189.3 13L189.8 11.5M201.1 10.8L203 12.4M198.9 8L198.3 9.8M219.2 10.6L218.7 10.3M210.6 8L211.2 8.6M193.7 8.3L191.7 9.7M218.7 10.3L217.4 11.7M190.5 12.2L192.5 11.9M196 11.8L195.8 11.1M217 13.9L218.9 13.4M221.1 13.6L218.9 13.4M206.7 8L208.1 8.5M200.5 12.2L204.3 12.9M200.8 8L201.7 9.2M218.9 13.4L217.8 12.6M204.3 12.9L203 12.4M217 10.7L217.4 11.7M196.7 10.8L196 11.8M214.2 13.8L213.5 12.8M217.5 8.8L217.3 9.2M221.6 20L218.9 13.4M194 12L195.4 12.2M191.1 10.1L190.4 10.4M192.5 11.9L194 12M213.5 13.7L213.5 12.8M201.1 10.8L202.4 10.8M211.8 13.1L213.6 14M198.6 11.7L198.3 9.8M202.4 10.8L201.7 9.2M191.1 10.1L192.3 8.6M204.3 12.9L203.8 11.5M201.7 9.2L204.1 9.2M198.9 8L199.3 10.5M196.7 10.8L195.8 11.1M188.8 20L200.5 12.2M198.9 8L197.3 8.7M202.8 8L204.1 9.2M209.1 9.3L208.1 8.5M211.6 12.7L208.6 12.5M188.8 14.5L188.8 20M219.2 10.6L219.8 11.6M206.7 8L204.1 9.2M196.9 8L195.5 8.9M199.3 10.5L201.7 9.2M192.3 8.6L193.7 8.3M215.9 10.7L217.3 9.2M209.1 9.3L208.6 12.5M208.7 8L209.4 9M191.7 9.7L194 12M189.3 13L190.5 12.2M188.8 14.5L189.3 13M202.8 8L204.8 8M211.2 8.6L209.4 9M198.6 11.7L199.3 10.5M191.1 10.1L191.7 9.7M211.8 13.1L205.5 13.1M188.8 14.5L193.1 12.2M195 8L196.9 8M217 13.9L217.8 12.6M188.8 20L193.1 12.2M214.5 8L215.9 10.7M214.6 13.7L214.2 13.8M205.5 13.1L203.8 11.5M196.7 10.8L195.5 8.9M211.2 8.6L211.6 12.7M221.6 20L213.6 14M198.6 11.7L200.5 12.2M204.8 8L206.7 8M211.8 13.1L213.5 13.7M218.9 12.8L217.4 11.7M190.9 11.3L192.5 11.9M210.6 8L209.4 9M190.8 11L191.6 10.6M196.9 8L198.9 8" stroke="#7c8484" stroke-width=".6" fill="none"/></g><path id="vor" d="M227.7 9.5L224.5 10.7M224.5 10.7L223.1 8M227.7 107L226.4 105.8M226.4 105.8L227.7 103.9M217.4 101.9L221.5 99.7M217.4 101.9L219.7 105.1M219.7 105.1L223 105.2M223 105.2L223 100.8M221.5 99.7L223 100.8M224 106.2L223 105.2M224 106.2L226.4 105.8M227.7 99.7L223 100.8M224.8 61.5L227.7 60.4M224.8 61.5L224.2 62.4M224.7 63.2L224.2 62.4M224.7 63.2L227.7 63.7M223.3 108.8L221.8 110.1M223.3 108.8L227.7 112.5M221.8 110.1L222.1 113.3M216.5 109.5L221.8 110.1M216.5 109.5L219.7 105.1M224 106.2L223.3 108.8M216.5 109.5L215.8 109.8M215.8 109.8L217.9 113.3M221.5 99.7L221.2 97.1M221.2 97.1L224.7 95.7M224.7 95.7L227.7 97.9M31.6 111.2L34 110.8M35.7 113.3L34 110.8M129.5 93.4L124.7 98.3M129.5 93.4L122.2 91.4M122.2 91.4L124 98M124.7 98.3L124 98M210 32.8L212.1 31.2M210 32.8L209.9 36.3M209.9 36.3L212.8 37.9M212.8 37.9L214.5 34.6M212.1 31.2L214.5 34.6M213 38.5L212.8 37.9M213 38.5L215.2 39.7M218 38.8L215.2 39.7M218 38.8L218.5 35.2M218.5 35.2L218.2 34.9M214.5 34.6L218.2 34.9M206.8 32.4L204.9 37.6M206.8 32.4L210 32.8M209.9 36.3L205.5 38.8M204.9 37.6L205.5 38.8M218 38.8L220.3 40.9M215.2 39.7L214.9 43.3M217.5 45.5L214.9 43.3M217.5 45.5L218.2 45.2M220.3 40.9L218.2 45.2M212.1 31.2L212.3 30.5M218 30.4L218.2 34.9M218 30.4L213.8 29.3M213.8 29.3L212.3 30.5M205.5 31L206.8 32.4M205.5 31L207.7 27.2M212.3 30.5L207.7 27.2M190.4 51.2L188 47.6M190.4 51.2L190.2 52.8M188 47.6L181 53.3M190.2 52.8L189 54.4M189 54.4L185.8 55.7M185.8 55.7L181.9 54.5M181.9 54.5L181 53.3M195.8 56.8L190.2 52.8M195.8 56.8L199.4 52.7M195.8 49.6L199.4 52.7M195.8 49.6L190.4 51.2M180.6 59.9L181.9 54.5M180.6 59.9L174.3 61M174.3 61L178.4 53.2M180.2 52.9L181 53.3M180.2 52.9L178.4 53.2M213 38.5L207.9 44M214.9 43.3L208.8 44.8M208.8 44.8L207.9 44M205.5 38.8L205.4 41.3M205.4 41.3L207.6 43.9M207.6 43.9L207.9 44M217.5 45.5L217 46.7M210.8 48.8L208.8 44.8M210.8 48.8L211.3 48.9M217 46.7L211.3 48.9M217.1 66L221.2 62.1M217.1 66L212.7 60.4M212.7 60.4L219 58.2M221.2 62.1L219 58.2M211 57.1L210.8 59.7M211 57.1L208.6 53M208.6 53L208.2 53M208.2 53L202.8 56.4M210.8 59.7L207.6 62M207.6 62L203.7 62.6M203.7 62.6L202.8 56.4M210.8 48.8L208.6 53M202.8 49L202.6 49.8M202.8 49L207.6 43.9M202.6 49.8L208.2 53M199.5 52.7L202.6 49.8M199.5 52.7L202.8 56.4M224.6 11.4L221.2 13M224.6 11.4L225.2 12.6M221.9 18L222.8 18.2M225.2 12.6L222.8 18.2M224.5 10.7L224.6 11.4M225.2 12.6L227.7 14.2M218.5 35.2L222.5 34.7M224 40.6L220.3 40.9M224 40.6L225.8 38.4M222.5 34.7L225.8 38.4M219 22.7L217.6 24.8M219 22.7L218 20.3M215 25.2L214 21M215 25.2L217.6 24.8M214.4 20.3L214 21M224.1 30.7L223.4 30.9M224.1 30.7L227.7 25.2M223.4 30.9L220.4 28.7M220.4 28.7L220.4 28.4M220.4 28.4L224.4 23.1M227.7 23.1L227.5 23M227.5 23L225.6 22.6M224.4 23.1L225.6 22.6M222.5 34.7L223.4 30.9M227.5 38L225.8 38.4M227.5 38L227.7 37.9M227.7 32.2L224.1 30.7M218 30.4L220.4 28.7M214 26.3L213.8 29.3M214 26.3L215 25.2M217.6 24.8L220.4 28.4M219 22.7L224.4 23.1M227.7 22.4L227.5 23M222.8 18.2L225.6 22.6M224 40.6L224.8 45.6M218.2 45.2L223.5 47.5M223.5 47.5L224.8 45.6M227.5 38L227.7 38.3M224.8 45.6L227.7 45.5M224.9 93.5L224.7 95.7M224.9 93.5L227.4 92.4M227.4 92.4L227.7 92.7M227.4 92.4L227.6 89.3M227.7 69L226.2 69.6M224.7 63.2L225.1 68.1M226.2 69.6L225.1 68.1M227.7 85.5L220.2 85M227.7 82.2L224.6 79.6M224.6 79.6L220.2 85M131.1 99.4L128.3 102.6M131.1 99.4L130.6 94.5M128.3 102.6L127 102.2M129.5 93.4L129.8 93.4M127 102.2L124.7 98.3M130.6 94.5L129.8 93.4M122.2 91.4L121.4 90.6M121.4 90.6L127.2 87.3M127.2 87.3L130.1 92.6M129.8 93.4L130.1 92.6M38.6 11.5L31.6 13.6M38.6 11.5L40.1 10.1M40.1 10.1L34.3 8M153.6 73.7L157.6 74M153.6 73.7L152.8 72M157.6 74L159.2 65.5M159.2 65.5L158.5 64.7M158.5 64.7L152.8 72M149.6 59.3L155.4 60.8M155.4 60.8L153.5 56.9M159.9 55L158 53.9M159.9 55L157.3 62.1M155.4 60.8L156.8 62M157.3 62.1L156.8 62M178.3 85.3L171.2 86.7M178.3 85.3L177.7 79M170.9 84.5L171.2 86.7M170.9 84.5L174.8 78.8M174.8 78.8L177.7 79M169.9 64.5L164.5 60.7M169.9 64.5L173.3 63.2M173.3 63.2L173.6 61.5M164.5 60.7L166.7 57.6M166.7 57.6L172.9 60.5M173.6 61.5L172.9 60.5M159.2 65.5L163.1 68.1M163.1 68.1L167 67.7M167 67.7L169.9 64.5M158.5 64.7L157.6 62.4M157.6 62.4L164.5 60.7M160.8 54L166.2 55.2M160.8 54L159.9 55M166.2 55.2L166.7 57.6M157.6 62.4L157.3 62.1M187.8 46.7L188 47.6M187.8 46.7L185.9 44.9M180.2 52.9L180.3 47.4M185.9 44.9L184.8 44.9M180.3 47.4L184.8 44.9M107.8 47.9L110.9 46.1M107.8 47.9L105.5 45.2M105.5 45.2L106.2 43.7M215.8 109.8L214.9 109.6M214.9 109.6L213 113M213 113L213 113.3M88.5 75.8L88.9 75.5M88.9 75.5L88.9 75.2M88.9 75.2L88.6 74.8M40.2 109.7L40.9 112M40.2 109.7L35.3 108.7M35.3 108.7L34 110.8M39.3 113.3L40.9 112M37.3 101.9L37.7 104.6M37.3 101.9L39.1 101M39.1 101L44.5 102.3M37.7 104.6L41.9 106.2M41.9 106.2L44.5 102.3M42.2 107.6L40.2 109.7M42.2 107.6L41.9 106.2M35.3 108.5L37.7 104.6M127.8 80.9L129.6 84.1M127.8 80.9L125.2 80.1M129.6 84.1L127.6 85.8M122 83.8L127.6 85.8M122 83.8L122 83.5M122 83.5L123.3 81M125.2 80.1L123.3 81M118.6 77.4L117.1 81.7M118.6 77.4L120.4 77.4M117.1 81.7L122 83.5M123.3 81L120.4 77.4M46.9 91.4L46.7 92.7M46.7 92.7L51.5 94.9M51.5 94.9L52 92.2M57.5 94.4L51.6 95M57.5 94.4L57.6 93M114.1 83.2L112.6 84.5M114.1 83.2L120.3 89.5M112.6 84.5L114.6 90.7M114.6 90.7L118.7 91.5M118.7 91.5L120.4 90.3M120.3 89.5L120.4 90.3M108.2 78.3L107.3 82.5M108.2 78.3L112.8 79.9M107.3 82.5L110.2 85.1M110.2 85.1L112.6 84.5M112.8 79.9L114.2 83.1M122 83.8L120.3 89.5M117.1 81.7L114.2 83.1M117.9 94.7L118.7 91.5M117.9 94.7L112.9 97.1M112.9 97.1L109.3 93.2M109.3 93.2L114.6 90.7M117.9 94.7L119.8 98.8M119.8 98.8L124 98M121.4 90.6L120.4 90.3M127.2 87.3L127.6 85.8M209.8 24.2L207.8 25.2M209.8 24.2L210.8 21.5M207.8 25.2L205.1 21.1M210.8 21.5L209.9 20.3M205.1 21.1L206.3 20.3M214 26.3L209.8 24.2M207.7 27.2L207.5 25.9M207.5 25.9L207.8 25.2M214 21L210.8 21.5M204.1 20.3L204.1 20.9M204.1 20.9L205.1 21.1M207.5 25.9L202.2 26.4M204.1 20.9L202.8 21.4M202.2 26.4L202.8 21.4M205.5 31L204.1 30.9M204.1 30.9L201.7 27.1M202.2 26.4L201.7 26.9M202.3 67.2L201.4 68.5M202.3 67.2L210.2 71.1M210.2 71.1L206.3 74.2M206.3 74.2L203.6 73.6M201.4 68.5L203.6 73.6M206.3 74.2L208.4 79.2M208.4 79.2L203 78.4M203 78.4L201.9 76.6M201.9 76.6L203.6 73.6M180.6 59.9L183.7 62.9M185.8 55.7L186.1 60.1M186.1 60.1L183.7 62.9M215.3 54L219.3 56.5M215.3 54L215.4 52.1M215.4 52.1L217.8 50.4M217.8 50.4L221.5 51.6M221.5 51.6L220.5 55.5M219.3 56.5L220.5 55.5M212.7 60.4L210.8 59.7M219 58.2L219.3 56.5M211 57.1L215.3 54M211.3 48.9L215.4 52.1M217 46.7L217.8 50.4M223.6 50.2L223.5 47.5M223.6 50.2L221.5 51.6M224.8 61.5L225 57M224.2 62.4L221.2 62.1M225 57L220.5 55.5M190.5 10.2L190.1 8M225 57L227.4 54.9M227.7 55.2L227.4 54.9M223.6 50.2L227.2 52.2M227.4 54.9L227.2 52.2M226.2 69.6L226 70.9M225.1 68.1L219 68.2M226 70.9L225.5 71.5M225.5 71.5L220.2 72.4M220.2 72.4L219 68.2M203.6 62.7L202.3 67.2M203.6 62.7L203.7 62.6M210.2 71.1L212.3 70.8M207.6 62L212.6 70.2M212.6 70.2L212.3 70.8M217.1 66L217 66.7M212.6 70.2L217 66.7M217 66.7L219 68.2M211.2 101.3L208.7 102.3M211.2 101.3L214.8 103.7M208.7 102.3L211.9 107.9M214.8 103.7L213.9 108.4M213.9 108.4L211.9 107.9M217.4 101.9L214.8 103.7M214.9 109.6L213.9 108.4M130.5 84.2L131.6 84.9M130.5 84.2L133.7 79.3M131.6 84.9L136.1 85M133.7 79.3L138 83M136.1 85L138 83.1M129.6 84.1L130.5 84.2M130.1 92.6L132.3 90.6M132.3 90.6L131.6 84.9M130.6 94.5L136.4 95.7M132.3 90.6L136.3 90.2M136.4 95.7L136.3 90.2M131.1 99.4L136.1 99.9M136.1 99.9L136.5 95.9M136.4 95.7L136.5 95.9M136.1 85L136.7 89.9M136.7 89.9L136.3 90.2M177.8 103.4L173.8 105.5M177.8 103.4L178.9 103.5M173.8 105.5L176.1 109.1M178.9 103.5L181.2 105.9M176.1 109.1L181.1 108.7M181.1 108.7L181.8 107.9M181.2 105.9L181.8 107.9M187.1 111.5L190 109.5M187.1 111.5L182.3 108M190 109.5L190.4 104.9M190.4 104.9L189.8 104.2M182.3 108L189.8 104.2M196.2 102.7L199.5 103.6M196.2 102.7L194.9 98.9M200.3 96.9L202.6 98.9M200.3 96.9L196 96.9M199.5 103.6L202.6 98.9M196 96.9L194.9 98.9M190.4 104.9L193.3 105.2M193.3 105.2L196.2 102.7M189.8 104.2L189 101M194.9 98.9L189 101M176.1 109.1L174.3 111.2M181.1 108.7L180.2 113.3M174.3 111.2L174.9 113.3M187.1 111.5L187.2 113.3M182.3 108L181.8 107.9M118.6 77.4L118.4 77.2M112.8 79.9L113.9 76.4M118.4 77.2L113.9 76.4M118.4 77.2L118.2 73.3M113.9 76.4L113.7 75.9M113.7 75.9L115.3 72.3M115.3 72.3L118.2 73.3M108.8 70.9L109.9 74.4M108.8 70.9L106.5 69.2M106.5 69.2L104.9 69.9M104.9 69.9L104 77.1M109.9 74.4L108.1 78.2M108.1 78.2L104 77.1M113.7 75.9L109.9 74.4M114.3 70.4L115.3 72.3M114.3 70.4L108.8 70.9M101.2 81.1L104 83M101.2 81.1L101.4 78.8M104 83L107.3 82.5M101.4 78.8L104 77.1M40.2 10L40.4 8M38.6 11.5L37.3 16M31.6 17.8L32.2 18.4M43 11.7L40.2 10M43 11.7L43.3 13.4M157.6 74L158 74.3M163.1 68.1L163 73.3M163 73.3L158 74.3M185.5 10.3L189.2 12.3M185.5 10.3L181.9 15M186.7 17.6L188.5 16.2M186.7 17.6L184.8 17.7M184.8 17.7L181.9 15M174.3 61L173.6 61.5M178.4 53.2L176.1 52.3M172.9 60.5L171.6 53.3M176.1 52.3L171.6 53.3M166.2 55.2L169.4 52M171.6 53.3L169.4 52M160.8 54L160.9 53.7M160.9 53.7L160.3 52.4M155.6 62.7L150.5 68M155.6 62.7L147.6 63.9M150.5 68L147.4 67M147.6 63.9L147.4 67M156.8 62L155.6 62.7M152.8 72L151.1 70.9M151.1 70.9L150.5 68M147.2 60.7L145.8 61.9M145.8 61.9L147.6 63.9M145.8 61.9L144.6 61.7M175.4 70.3L172.5 75.8M175.4 70.3L169.1 71.5M172.5 75.8L168.7 73.3M169.1 71.5L168.7 73.3M176.6 69.5L178 78.7M176.6 69.5L175.4 70.3M173 77.5L172.5 75.8M173 77.5L174.8 78.8M178 78.7L177.7 79M177.2 68.5L176.6 69.5M177.2 68.5L173.3 63.2M167 67.7L169.1 71.5M165.3 76.3L163 73.3M165.3 76.3L168.7 73.3M180.3 47.4L178.6 46.3M176.1 52.3L174.9 47.3M178.6 46.3L174.9 47.3M88.9 75.2L93.5 72.2M93.5 72.2L93.2 66.7M86.6 65.6L85.8 67.7M86.6 65.6L92.7 66M92.7 66L93.2 66.7M100.2 68.2L103.1 69.7M100.2 68.2L95.1 72.5M103.1 69.7L98.5 75.6M95.1 72.5L98.5 75.6M93.5 72.2L95.1 72.5M99.7 67.4L93.2 66.7M99.7 67.4L100.2 68.2M98.6 76.2L98.5 75.6M98.6 76.2L101.4 78.8M104.9 69.9L103.1 69.7M93.6 79.3L90.3 77.9M93.6 79.3L98.6 76.2M90.3 77.9L88.9 75.5M132.2 111.9L135.7 110.9M132.2 111.9L132.7 113.3M138.2 113.3L138.6 112.9M135.7 110.9L138.6 112.9M136.1 108L133 105.6M136.1 108L135.7 110.9M133 105.6L131.7 105.8M131.3 111.4L131.7 105.8M131.3 111.4L132.2 111.9M190 109.5L193.3 111.4M193.3 105.2L195.5 108M193.3 111.4L195.5 108M199.5 103.6L199.8 104.7M199.8 104.7L197.4 108.2M197.4 108.2L195.5 108M213 113L207.8 113.1M211.9 107.9L207.1 109.2M207.8 113.1L207.1 109.2M85.6 62.1L83.9 62.1M85.6 62.1L86.6 65.6M31.8 104.3L32.3 102.5M31.8 104.3L31.6 104.4M32.3 102.5L31.6 101.4M35.3 108.5L31.8 104.3M37.3 101.9L32.3 102.5M42.5 94.3L41.4 94M42.5 94.3L46 101.1M41.4 94L39.1 101M44.5 102.3L45.5 101.8M46 101.1L45.5 101.8M117.7 102.8L117.9 103.4M117.7 102.8L113.1 100.3M117.9 103.4L113 107.5M113.1 100.3L111.3 101.3M111.3 101.3L110.5 104.8M113 107.5L110.5 104.8M127 102.2L121.8 105.3M119.8 98.8L117.7 102.8M121.8 105.3L120 105.3M120 105.3L117.9 103.4M112.9 97.1L113.1 100.3M196.1 32.1L197.3 31.7M196.1 32.1L195.8 34M197.3 31.7L202.2 32.6M195.8 34L198.6 36.7M198.6 36.7L202.8 36.1M202.8 36.1L202.2 32.6M204.1 30.9L202.2 32.6M201.7 27.1L197.3 31.7M204.9 37.6L202.8 36.1M198.8 20.5L196.4 24.1M192.7 20.3L192.6 22.2M192.6 22.2L194.9 24.8M196.4 24.1L194.9 24.8M202.8 21.4L198.8 20.5M201.7 26.9L196.4 24.1M186.7 17.6L188.8 22M188.8 22L192.6 22.2M193.4 28.4L194.9 24.8M193.4 28.4L196.1 32.1M217.5 8L217.4 8.6M203 78.4L201.7 82.1M201.9 76.6L199.3 76.7M199.3 76.7L198.1 80.3M201.7 82.1L198.1 80.3M227.2 52.2L227.7 51.9M227.6 89.3L220.9 89.6M220.2 85L217.9 86.2M217.9 86.2L217.9 86.6M217.9 86.6L220.9 89.6M221.2 97.1L220.5 96.4M224.9 93.5L221.3 90.6M221.3 90.6L220.5 96.4M221.3 90.6L220.9 89.6M200.3 96.9L201.3 89.1M202.6 98.9L204.6 98.9M204.6 98.9L206.2 89.8M206.2 89.8L201.3 89.1M208.4 79.2L210.7 81.1M212.3 70.8L213.7 74M213.7 74L210.7 81.1M201.7 82.1L202 83.1M202 83.1L210.9 82.3M210.7 81.1L210.9 82.3M202 83.1L200.2 88.2M206.2 89.8L206.4 89.8M206.4 89.8L211.1 82.6M201.3 89.1L200.2 88.2M210.9 82.3L211.1 82.6M226 70.9L227.7 72.4M225.5 71.5L223.9 77.3M223.9 77.3L224.6 78.2M224.6 78.2L227.7 77.3M224.6 79.6L224.6 78.2M127.8 80.9L129.5 78.2M133.7 79.3L133.6 78.2M129.5 78.2L133.6 78.2M147.5 79.4L144.2 82.3M147.5 79.4L143 75.5M144.2 82.3L140.7 80.2M143 75.5L140.7 79M140.7 80.2L140.7 79M138 83L140.7 80.2M133.6 78.2L134.8 75.7M134.8 75.7L140.7 79M138 83.1L141 86.2M136.7 89.9L140.2 90.2M140.2 90.2L141 86.2M144.2 82.3L145.2 85.4M141 86.2L145.2 85.4M148.9 79.8L148.4 79.4M148.9 79.8L149.2 86.8M148.4 79.4L147.5 79.4M149.2 86.8L147.6 87.2M145.2 85.4L147.6 87.2M136.5 95.9L139.6 95.3M140.2 90.2L141 91M139.6 95.3L141 91M147.6 87.2L145.3 91.4M145.3 91.4L141 91M167.8 113.3L166.7 110.6M174.3 111.2L169.7 109.7M166.7 110.6L167.4 110.2M169.7 109.7L167.4 110.2M169.7 109.7L173.6 105.5M177.8 103.4L174.2 98.6M178.9 103.5L180.4 99.3M177.7 96L180.4 99.3M177.7 96L174.2 97.7M174.2 97.7L174.2 98.6M173.6 105.5L171.3 102.6M174.2 98.6L171.3 102.6M167.4 110.2L169.4 102.7M171.3 102.6L169.4 102.7M87.7 50.5L89.6 43.7M87.7 50.5L85.3 49.6M89.4 43.6L89.6 43.7M89.2 53.8L86.8 57.9M89.2 53.8L88.7 51.6M86.8 57.9L83.6 56.5M88.7 51.6L87.7 50.5M85.6 62.1L86.9 59.1M86.9 59.1L86.8 57.9M187.3 24.5L188.8 22M187.3 24.5L184.1 24.2M184.8 17.7L183 20.7M184.1 24.2L183 20.7M170.4 48.1L169.2 51.2M170.4 48.1L166.7 44.6M169.2 51.2L164.4 49.2M166.6 44.6L163.7 47.2M163.7 47.2L164.4 49.2M169.4 52L169.2 51.2M174.9 47.3L172.8 46.3M172.8 46.3L170.4 48.1M160.9 53.7L164.4 49.2M164.9 42.4L166.6 44.6M181.9 15L178.1 14.1M183 20.7L179.1 21.3M177.2 15.4L178.1 14.1M171 11.5L176.2 11.1M178.1 14.1L177.6 11.9M177.6 11.9L176.2 11.1M205.4 41.3L202.7 41.7M198.6 36.7L198.7 39.4M198.7 39.4L202.7 41.7M202.8 49L199.2 44.9M202.7 41.7L199.2 44.9M195.8 49.6L196.1 47.8M196.1 47.8L199 44.9M199.2 44.9L199 44.9M192.2 44.1L193.2 44.3M192.2 44.1L191.5 39.6M193.2 44.3L196.4 41.9M191.5 39.6L193.4 38.6M193.4 38.6L196.4 41.3M196.4 41.9L196.4 41.3M187.8 46.7L192.2 44.1M196.1 47.8L193.2 44.3M185.9 44.9L186.7 40.1M186.7 40.1L187.8 38.7M187.8 38.7L191.5 39.6M199 44.9L196.4 41.9M194.9 34.8L193.4 38.6M194.9 34.8L195.8 34M198.7 39.4L196.4 41.3M184.1 24.2L183 25.5M183 25.5L179 25.8M183 25.5L184 29.1M178.6 28.8L180.9 30.3M184 29.1L180.9 30.3M184.8 44.9L179.3 40.4M178.6 46.3L177.9 41.2M177.9 41.2L179.3 40.4M186.7 40.1L181.1 38.4M181.1 38.4L180.2 38.8M179.3 40.4L180.2 38.8M181.1 38.4L183.5 34.5M183.5 34.5L181 32.9M181 32.9L177.7 34.7M180.2 38.8L177.7 34.7M99.3 44.7L93.1 44.7M93.1 44.7L93.1 48.4M93.1 48.4L97.2 50.1M97.2 50.1L99.4 44.7M107.8 47.9L107 51M105.5 45.2L100.8 44.9M107 51L103.2 50.2M103.2 50.2L100.8 44.9M96.2 40.3L99.3 44.7M101.6 41.1L100.1 44.5M99.4 44.7L100.1 44.5M100.8 44.9L100.1 44.5M97.2 50.1L97.5 51.3M103.2 50.2L100.3 52M100.3 52L97.5 51.3M89.2 53.8L91.8 54.4M91.8 54.4L96.8 52.5M93.1 48.4L88.7 51.6M96.8 52.5L97.5 51.3M113.5 52.8L107.2 51.4M113.5 52.8L113.2 56M113.2 56L109.1 58M109.1 58L106.7 52.8M107.2 51.4L106.7 52.8M117.4 49.3L113.5 52.8M107 51L107.2 51.4M117.7 58.8L122.3 55M117.7 58.8L115.5 58.8M122.3 55L120.6 50.9M115.5 58.8L113.2 56M102.9 56.3L106.7 52.8M102.9 56.3L102.4 56.3M102.4 56.3L100.3 52M117.7 58.8L119.5 63.3M119.5 63.3L115.9 64.6M115.5 58.8L114.1 61.1M114.1 61.1L115.9 64.6M120.4 63.7L119.5 63.3M120.4 63.7L120.8 68.8M115.5 68.2L120.8 68.8M115.5 68.2L115 66.4M115 66.4L115.9 64.6M94.6 58L98.2 58M94.6 58L92.8 60.8M92.8 60.8L94 63.2M94 63.2L99.3 62M99.3 58.8L98.2 58M99.3 58.8L99.6 61.6M99.6 61.6L99.3 62M91.8 54.4L94.6 58M96.8 52.5L98.2 58M86.9 59.1L92.8 60.8M92.7 66L94 63.2M99.7 67.4L99.3 62M102.4 56.3L99.3 58.8M122.7 55.3L123.3 62.4M122.7 55.3L127.7 56M127.7 56L128 64.4M123.3 62.4L128 64.4M122.3 55L122.7 55.3M120.4 63.7L123.3 62.4M129.7 55.1L127.7 56M205.7 105.1L201.9 106.1M205.7 105.1L207.1 109.2M207.1 109.2L202.3 110.3M201.9 106.1L202.3 110.3M199.8 104.7L201.9 106.1M207 102.1L205.7 105.1M207 102.1L204.7 99M208.7 102.3L207 102.1M193.3 111.4L193.8 112.9M197.4 108.2L199.9 112M199.9 112L193.8 112.9M193.3 113.3L193.7 113M193.9 113.3L193.7 113M199.4 113.3L199.9 112M202.3 110.3L200.9 112M200.9 112L199.9 112M200.9 112L202.1 113.3M207.7 113.2L207.5 113.3M31.6 98.1L35 97M31.6 92L37.6 90.5M35 97L38 91.4M38 91.4L37.6 90.5M37.3 101.9L35 97M37.6 89.9L37.6 90.5M41.4 94L38 91.4M42.5 94.3L46.7 92.7M110.2 85.1L107.5 89.6M109.3 93.2L109 93.1M109 93.1L107.7 91M107.5 89.6L107.7 91M104 83L104.2 87.2M107.5 89.6L104.2 87.2M66 97.8L59.8 96M66 97.8L68 95.7M68 95.7L67.9 93.7M67.9 93.7L67 93.4M62.3 93.5L59.8 96M68.1 93.3L67.9 93.7M57.5 94.4L59.4 96.1M59.4 96.1L59.8 96M199.5 69.1L196.7 74.5M199.5 69.1L195.4 67.8M195.4 67.8L191.9 72.3M191.9 72.3L195.3 74.8M195.3 74.8L196.7 74.5M201.4 68.5L199.5 69.1M199.3 76.7L196.7 74.5M192.9 79.7L195.3 74.8M192.9 79.8L194 81.2M198.1 80.3L195.1 81.6M194 81.2L195.1 81.6M191.6 72.3L186.4 67.9M191.6 72.3L189.2 75.8M184.2 76.6L183.4 68.5M184.2 76.6L189.2 75.8M186.4 67.9L183.9 68M183.4 68.5L183.9 68M194.4 66.5L186.6 67.9M194.4 66.5L195.4 67.8M191.9 72.3L191.6 72.3M192.9 79.7L189.2 75.8M177.2 68.5L183.4 68.5M183.8 77.3L178 78.7M183.8 77.3L184.2 76.6M183.8 77.3L185.9 81.7M185.9 81.7L192.9 79.8M183.7 62.9L183.9 68M217.4 101.9L215.6 98.6M211.2 101.3L212.5 98.7M215.6 98.6L212.5 98.7M220.5 96.4L217 96.1M215.6 98.6L217 96.1M219.8 73.3L216.5 74.6M219.8 73.3L222.5 77M216.5 74.6L218.7 78.7M222.5 77L218.7 78.7M220.2 72.4L219.8 73.3M213.7 74L216.5 74.6M223.9 77.3L222.5 77M216.5 84.9L211.1 82.6M216.5 84.9L218.7 78.7M217.9 86.2L216.5 84.9M178.9 85.8L180.6 91.1M178.9 85.8L185.8 83M180.6 91.1L187.6 86.2M185.8 83L187.6 86.2M185.9 81.7L185.8 83M178.3 85.3L178.9 85.8M194 81.2L190 87.7M190 87.7L187.6 86.2M179.4 92.4L180.5 91.5M179.4 92.4L177.7 96M180.4 99.3L184.3 98.9M180.5 91.5L184.2 93.8M184.2 93.8L184.3 98.9M181.2 105.9L185.6 100.3M184.3 98.9L185.6 100.3M185.6 100.3L188.9 101M195.1 81.6L198.6 87.9M190 87.7L190.3 88.2M190.3 88.2L198.6 87.9M196 96.9L194.5 94.6M200.2 88.2L199 88.1M194.5 94.6L199 88.1M199 88.1L198.6 87.9M156.8 79.4L154.7 84.1M156.8 79.4L153.7 78.1M151.9 80.1L153.7 78.1M151.9 80.1L154 84.4M154 84.4L154.7 84.1M153.6 73.7L152.9 75M152.9 75L153.7 78.1M158 74.3L158.7 78.7M158.7 78.7L156.8 79.4M149.6 76L148.4 79.4M149.6 76L152.9 75M148.9 79.8L151.9 80.1M149.2 86.8L152 87.1M152 87.1L154 84.4M179.4 92.4L171.4 90.3M174.2 97.7L172.1 96.2M172.1 96.2L171.4 90.3M170.8 87.2L170.6 89.3M170.8 87.2L171.2 86.7M180.5 91.5L180.6 91.1M171.4 90.3L170.6 89.3M169.4 102.7L167.2 101.2M172.1 96.2L166.8 97.6M167.2 101.2L166.8 97.6M136.1 108L138.9 107.2M138.6 112.9L141 113M141 113L138.9 107.2M141.1 113L141.4 113.3M144.9 106.4L144.5 106.5M144.9 106.4L147.5 110.5M141.1 113L144.5 106.5M144.5 113.3L147.5 110.5M147.5 110.5L148.8 110.7M148.8 110.7L149.8 113.3M43 11.7L43.7 11.5M46.8 12L43.7 11.5M90.8 42.6L91 43.1M93.1 41L91.4 43.1M91.4 43.1L91 43.1M89.6 43.7L91 43.1M93.1 44.7L91.4 43.1M145.9 68L146.7 72.5M145.9 68L143.4 67.4M143.4 67.4L140.7 72.2M146.4 73L143.2 74.6M146.4 73L146.7 72.5M143.2 74.6L140.7 72.2M151.1 70.9L146.7 72.5M147.4 67L145.9 68M144.6 61.7L142.6 66.2M142.6 66.2L143.4 67.4M149.6 76L146.4 73M143 75.5L143.2 74.6M140.7 72.2L140.5 72.1M134.8 75.5L140.5 72.1M179.5 9L179.5 8M179.5 9L184.9 9M184.9 9L185.2 8M185.5 10.3L184.9 9M177.6 11.9L179.5 9M176.2 11.1L174.3 8M185.5 34.2L184.5 29.4M185.5 34.2L187.5 35M187.5 35L190.6 28.7M184.5 29.4L189.1 27.8M190.6 28.7L189.1 27.8M183.5 34.5L185.5 34.2M184 29.1L184.5 29.4M181 32.9L180.9 30.3M187.8 38.7L187.5 35M194.9 34.8L187.5 35M193.4 28.4L190.6 28.7M187.3 24.5L189.1 27.8M172.9 41.3L174.2 40.8M172.9 41.3L171.1 40.5M174.2 40.8L175.7 33.9M171.1 40.5L169.9 39M169.9 39L170.1 32.9M170.1 32.9L175.2 33.4M175.2 33.4L175.7 33.9M172.8 46.3L172.9 41.3M177.9 41.2L174.2 40.8M166.7 44.6L171.1 40.5M177.7 34.7L175.7 33.9M165.7 39.2L169.9 39M169.3 32.1L170.1 32.9M176.8 29.6L175.2 33.4M106.6 69L103.7 62.3M106.6 69L109.7 64.9M109.7 64.9L109.9 62.3M103.7 62.3L106.9 59.9M109.9 62.3L108.3 59.9M106.9 59.9L108.3 59.9M106.5 69.2L106.6 69M99.6 61.6L103.7 62.3M114.3 70.4L115.5 68.2M115 66.4L109.7 64.9M114.1 61.1L109.9 62.3M102.9 56.3L106.9 59.9M109.1 58L108.3 59.9M128.3 102.6L129.4 104.4M136.1 99.9L136.3 100.2M133 105.6L136.4 102.3M129.4 104.4L131.7 105.8M136.3 100.2L136.4 102.3M138.9 107.2L140.1 105.1M136.4 102.3L140.1 105.1M144.5 106.5L140.2 105M139.6 95.3L141.5 96.9M136.3 100.2L141.3 99.5M141.5 96.9L141.3 99.5M140.2 105L142.2 100.6M141.3 99.5L142.2 100.6M110.4 113.3L110.9 112.2M114 113.1L112.2 112.1M112.2 112.1L110.9 112.2M115.9 113.2L114 113.1M103.3 113.3L103.3 109.9M103.4 109.9L110.9 112.2M120 105.3L119 110.1M113 107.5L112.2 112.1M119 110.1L115.9 113.2M110.5 104.8L104.3 106.9M104.3 106.9L103.4 109.9M85.4 108.8L78.8 110.6M85.4 108.8L87.6 110.8M87.6 110.8L86.1 113.3M78.8 110.6L79.9 113.3M87.6 110.8L90.8 110.4M90.8 110.4L92.6 113.3M103.3 109.9L101 109.9M101 109.9L96.5 113.3M107.7 91L99 92.7M104.2 87.2L100.9 88M99 92.7L100.9 88M101.2 81.1L98.2 83.6M100.9 88L98.2 83.6M95.6 82.6L93.6 79.3M95.6 82.6L98 83.6M104.1 105.6L101.4 101.6M104.1 105.6L107.5 100.5M101.4 101.6L104.6 97.2M107.5 100.5L106 97.1M106 97.1L104.6 97.2M111.3 101.3L107.5 100.5M104.3 106.9L104.1 105.6M109 93.1L106 97.1M98 93.7L99 92.7M98 93.7L104.6 97.2M40.9 112L43.3 113.1M43.3 113.3L43.3 113.1M85.6 105.3L83.7 104.1M85.6 105.3L85.4 108.8M83.7 104.1L76.7 107.5M78.8 110.6L76.6 108.3M76.6 108.3L76.7 107.5M55 101.6L51.8 103.8M55 101.6L51.3 96.8M51.8 103.8L47.2 100.8M51.3 96.8L47.2 100.8M51.6 95L51.3 96.8M46 101.1L47.2 100.8M59.4 96.1L58.7 100M55 101.6L57.2 102M58.7 100L57.2 102M124.2 113.3L124 113.1M123.9 112.2L124 113.1M123.9 112.2L125.4 109.6M125.4 109.6L126.3 109.4M126.3 109.4L130.2 111.7M130.2 111.7L129.1 113.3M119 110.1L123.9 112.2M123.7 113.3L124 113.1M121.8 105.3L125.4 109.6M129.4 104.4L126.3 109.4M131.3 111.4L130.2 111.7M191 60.9L191 61.9M191 60.9L191.4 60.3M191 61.9L194.3 65.2M191.4 60.3L195.7 58.6M194.3 65.2L197.9 61M197.9 61L195.7 58.6M186.1 60.1L191 60.9M186.6 67.9L191 61.9M189 54.4L191.4 60.3M194.4 66.5L194.3 65.2M195.8 56.8L195.7 58.6M203.6 62.7L197.9 61M216 90L215.6 93.6M216 90L209.3 91.9M215.6 93.6L210.9 95.7M209.3 91.9L210.5 95.6M210.5 95.6L210.9 95.7M217.9 86.6L216 90M217 96.1L215.6 93.6M206.4 89.8L209.3 91.9M212.5 98.7L210.9 95.7M204.7 99L210.5 95.6M186.4 93.4L189.6 96.2M186.4 93.4L190.2 89M190.2 89L193.2 94.1M189.6 96.2L193.2 94.1M184.2 93.8L186.4 93.4M188.9 101L189.6 96.2M190.3 88.2L190.2 89M194.5 94.6L193.2 94.1M160.2 79.5L160.7 81.7M160.2 79.5L165.3 76.7M160.7 81.7L163.7 83.9M163.7 83.9L167.4 80.1M165.3 76.7L167.3 79.5M167.3 79.5L167.4 80.1M158.7 78.7L160.2 79.5M154.7 84.1L158.1 84.5M158.1 84.5L160.7 81.7M165.3 76.3L165.3 76.7M170.8 87.2L163.9 85.3M170.9 84.5L167.4 80.1M163.9 85.3L163.7 83.9M173 77.5L167.3 79.5M152 87.1L152.4 87.8M152.4 87.8L156.9 90.3M158.1 84.5L160.2 88.1M156.9 90.3L160.2 88.1M163.9 85.3L162 88.2M162 88.2L160.2 88.1M166.7 110.6L165.7 110.4M167.2 101.2L164.1 103.4M164.1 103.4L165.7 110.4M161.9 113.3L163.1 111M165.7 110.4L163.1 111M150.5 109.3L154.9 110.9M150.5 109.3L150.5 106.1M150.5 106.1L157 105.9M154.9 110.9L157.6 107.7M157.6 107.7L157.3 106.3M157 105.9L157.3 106.3M148.8 110.7L150.5 109.3M152.8 113.3L154.8 111.8M154.8 111.8L154.9 110.9M163.1 103.1L164.1 103.4M163.1 103.1L157.3 106.3M163.1 111L157.6 107.7M155.4 98.4L157 105.9M155.4 98.4L157.7 96.9M157.7 96.9L159.4 96.9M159.4 96.9L163.1 103.1M54.5 8.4L54.7 8M52.1 9.6L49 8M43.7 11.5L46.9 8M142.6 66.2L138.6 65.4M140.5 72.1L136.5 67.7M136.5 67.7L138.6 65.4M138.6 65.4L138.5 60.9M131 55.9L133.9 60.3M136.6 60.1L133.9 60.3M171.3 8L169 10.4M169.1 10.7L169 10.4M145.3 91.4L145.6 92.1M141.5 96.9L144.3 95.8M145.6 92.1L144.3 95.8M152.4 87.8L151.3 95.9M145.6 92.1L151.3 95.9M155.4 98.4L152.5 98M157.7 96.9L156.9 90.3M151.3 95.9L152.5 98M91.2 109.4L97 106.9M91.2 109.4L90 104.1M90 104.1L90.6 103M96.3 105L97 106.9M96.3 105L91.4 102.7M91.4 102.7L90.6 103M90.8 110.4L91.2 109.4M101 109.9L97 106.9M85.6 105.3L90 104.1M83.7 104.1L83.7 102.5M83.7 102.5L87.1 98.7M87.1 98.7L90.6 103M98.7 100.7L101.4 101.6M98.7 100.7L96.3 105M98.7 100.7L96.1 96.3M96.1 96.3L91.4 102.7M96.4 94.8L89.7 90.1M96.4 94.8L97.4 93.9M97.4 93.9L95.4 88.5M95.4 88.5L90 86.4M89.7 90.1L89.5 86.5M90 86.4L89.5 86.5M98 93.7L97.4 93.9M96.1 96.3L96.1 95.5M96.1 95.5L96.4 94.8M98 83.6L95.4 88.5M95.6 82.6L90 86.4M90.3 77.9L88.4 85.7M88.4 85.7L89.5 86.5M76.6 105.2L75 98.9M76.6 105.2L80.6 99.7M75 98.9L80.1 96.4M80.6 99.7L80.4 96.6M80.4 96.6L80.1 96.4M72.2 97.8L70.4 102.4M72.4 97.8L75 98.9M76.4 106.3L70.4 102.4M76.4 106.3L76.6 105.2M83.7 102.5L80.6 99.7M76.7 107.5L76.4 106.3M88.4 85.7L85.3 85.6M73.3 92.8L74.2 94.2M74.2 94.2L78.1 93.9M77.6 91.7L78.1 93.9M72.2 97.8L68 95.7M72.4 97.8L74.2 94.2M80.1 96.4L79.7 95.4M79.7 95.4L78.1 93.9M79.7 95.4L83 89.7M83 89.7L82.8 88.5M76.6 108.3L71.8 110.7M71.8 110.7L71.6 113.3M48.9 112.9L45.1 111.3M48.9 112.9L50.1 112.1M50.1 112.1L48.8 107.5M45 109L45.1 111.3M45 109L47.6 107.2M47.6 107.2L48.8 107.5M48.8 113.3L48.9 112.9M43.3 113.1L45.1 111.3M42.2 107.6L45 109M45.5 101.8L47.6 107.2M51.8 103.8L51.5 106.2M51.5 106.2L48.8 107.5M57.2 102L58.8 107M51.5 106.2L55.8 109.5M58.8 107L55.8 109.5M50.1 112.1L54.9 112.3M55.8 109.5L54.9 112.3M54.9 112.3L55.4 113.3M67.5 109.3L63.2 107.6M67.5 109.3L69.4 102.6M63.2 107.6L64.7 101.8M69.4 102.6L65.8 101M65.8 101L64.7 101.8M71.8 110.7L67.7 109.4M70.4 102.4L69.4 102.6M58.7 100L64.7 101.8M58.8 107L62.4 107.7M62.4 107.7L63.2 107.6M66 97.8L65.8 101M165.2 96.3L162.4 95.7M165.2 96.3L169 90.2M162.4 95.7L163 89.8M169 90.2L163 89.8M166.8 97.6L165.2 96.3M159.4 96.9L162.4 95.7M170.6 89.3L169 90.2M162 88.2L163 89.8M154.8 111.8L155.7 113.3M131.5 68.4L129.8 66.3M131.5 68.4L131.4 70.8M131.4 70.8L127.8 74.5M129.4 66.2L129.8 66.3M129.4 66.2L121.9 70M127.8 74.5L125.1 75M125.1 75L123.8 74.4M123.8 74.4L121.9 70.6M121.9 70.6L121.9 70M136.5 67.7L131.5 68.4M133.9 60.3L129.8 66.3M134.8 75.5L131.4 70.8M129.5 78.2L127.8 74.5M128 64.4L129.4 66.2M120.8 68.8L121.9 70M125.2 80.1L125.1 75M120.4 77.4L123.8 74.4M118.2 73.3L121.9 70.6M166.5 8L166.6 8.4M166.6 8.4L166 9M169 10.4L166.6 8.4M151 99.2L146.9 99.7M151 99.2L149.9 105.4M145.4 105.9L145.5 101M145.4 105.9L149.9 105.4M145.5 101L146.9 99.7M144.3 95.8L146.9 99.7M152.5 98L151 99.2M150.5 106.1L149.9 105.4M144.9 106.4L145.4 105.9M142.2 100.6L145.5 101M87.1 98.5L89.4 96.1M87.1 98.5L83.8 96.4M89.4 96.1L87.9 92.2M83.8 96.4L85.6 92.4M85.6 92.4L87.9 92.2M96.1 95.5L89.4 96.1M80.4 96.6L83.8 96.4M89.7 90.1L87.9 92.2M83 89.7L85.6 92.4M67.7 109.4L65.8 113.3M62.4 107.7L61.5 113.3" stroke="#a6a6a6" stroke-width=".4" fill="none"/><g id="quiv"><path d="M37.7 7.5l3.7 1.7M47.7 8.2l2.1 1.6M68.8 6.6l1.6 2.5M94.4 7.1l1.9 1.4M131.9 6.3l2.1 2.8M137 6.4l1.4 2.1M183.1 7.3l1 3.4M188.8 6.7l.8 3M215.4 7l1.9 2.7M221.3 8l1 2.2M31.5 10l3.8 .9M39.7 9.8l1.4 2.1M167.7 8.8l1.4 1.9M175.2 10.1l.8 1.9M226.6 9.2l1.3 3.5M29.9 11.9l2.4 1.3M33.8 10.8l4.4 2.2M45.3 10.9l4.3 1.8M178.2 10.6l.9 1.9M180.2 10.4l1 2.7M182.7 9.9l1.6 3.5M187 10.6l1.1 2.4M32.9 13.3l2.4 1.1M33.9 13.9l2.8 1.6M31.3 15.6l2.7 1.9M31.7 15.9l3.2 .5M177.5 15.8l1.1 1.9M181.5 15.3l.5 2.2M223.7 15.6l2.3 1.5M178.6 18.3l1.6 2.2M184.4 17.4l1.1 3.6M186.6 17.4l1.9 3M223.9 17.7l1.6 2.1M225.9 18.1l2.8 2M181.7 19l2.4 2.9M190.6 19.6l1.2 2.6M224.4 18.8l2.6 2.6M180 22.2l2.4 3.2M186.8 22l2 2.7M194.1 20.7l1.5 3.1M210.1 22.2l.9 2.5M220.7 21.2l1.4 2.8M224.4 20.4l1.8 3.6M178.8 23l1.2 3.3M182.4 24.6l1.1 1.7M197.9 23.1l1.1 3.6M201 23.8l1.2 1.8M213.9 24.3l2.4 3M192.8 26.1l.4 2.2M195.2 25.9l.3 3.3M198.8 26.5l1.3 2.2M177.1 28.4l.5 2M185.5 28.6l3.1 2.9M189.9 28.2l1.9 2.3M194 28.2l3 2.6M196.9 27.9l2.5 2.9M198.3 28.6l3.1 3M215.1 27.7l2.9 4.1M217.9 28.7l2.1 2.4M221.6 27.6l3.1 2.9M185.1 29.9l1.6 2.8M186.7 29.6l1 3M191.6 29.9l2.2 2.9M201.5 30.1l2.3 2.9M211.4 30l3.2 3.7M214.9 29l2.3 4.4M219.5 30.5l1.7 2.9M226.4 30.4l2.5 2.3M173.7 32.7l1.2 1.7M176.7 32l.7 2.1M194.1 32.4l1.9 2M196.9 31.4l2.9 2.6M198.5 32.4l2.6 3.6M201.2 30.9l3 3.9M205.2 32.1l3.1 3.8M209.4 32.4l2.6 3.9M217.6 31.5l1.8 2.7M221.6 32.4l3.1 2.7M223.4 31.9l2.7 2.9M167 34.1l1.6 3M171.3 35.4l2.1 1.7M183.6 33.7l2.5 2.6M191.4 33.5l1.5 2.8M197.3 34.3l2.2 3.1M203 35l2.5 1.9M215.7 33.5l1.6 2.8M226.2 33.2l1.3 3.6M173.3 35.7l1.3 3.1M176 36.8l1.2 1.6M188.7 35.7l2.2 3M190.5 36.7l1.4 2.1M192.5 36.8l1.7 2.4M195 36.6l1.7 3.3M196.1 36.7l2.2 2.1M199 36.4l1.1 2.3M199.8 35.1l2.8 3.7M209.5 35.8l1.6 2.1M214.4 36.1l1.8 1.9M223.5 37.5l1.9 1.7M225.3 36.3l2.9 2.5M30.5 38.5l1.7 2.4M171.8 38.2l1.8 2.9M179.4 38.4l2.2 3.1M183 38l1.4 2.1M190.1 38.4l2.2 2.2M201.5 38.6l2.6 2.3M202.8 37.5l2 2.8M213.6 37.9l2.6 3.5M227.1 39.6l1.8 2M94.1 40l1.3 2.6M170.4 40.9l.7 2.4M171.6 41.3l2.6 2M176.6 41l2 2.8M182.2 40.8l2.4 3.7M184.1 41.2l2 1.9M187.7 41.4l2.5 2M190.4 41.5l2.2 2.4M197.9 40.1l1.5 2.5M198.4 40l2.4 2.2M202.2 39.8l2.8 3.3M213.9 41.6l2.1 2M218.5 40.4l2.1 3.9M220.8 39.6l3.2 3.4M223.4 39.6l2.8 4M100.3 43.7l1.9 2.3M169.4 42.1l1 2.1M171.8 43l3.1 3.2M175 42.9l2.1 3.4M177.2 42.9l1.9 2.7M187.5 41.6l2.1 4.4M192 42.4l2.3 2.8M200.5 43.7l1.3 2.3M204.1 43l2.8 3M209.9 41.3l1.9 4.5M215.6 41.6l3.3 3.4M218.1 42.5l2.3 3.4M223.6 42.6l2.1 4M95.9 44.9l1.2 1.7M100.8 45.4l1.2 2.1M106 44.5l2.1 3.3M108.4 44.8l1 3.9M171.3 45.1l2.7 2.9M174.5 45.5l1.9 1.9M175.8 45.1l2.7 3.1M179.3 44l2.4 2.5M185.1 44.7l1.9 3.9M193.6 45l1.9 2.6M194.3 45.1l2.1 2M200.8 45.3l1.5 2.1M205.9 44.3l2.4 2.2M216.3 44.6l1.2 2.5M217.2 44.4l2.3 2.5M224.2 45.8l1.7 2.2M91.3 47l1.6 1.2M99.3 46.6l1.2 3.2M104.2 48.2l1.5 1.4M163.9 46.2l1.3 2.7M167.6 46.6l.8 3.3M171.5 47l2.5 2.4M175.1 46.2l2 2.9M178.2 47.2l2.5 2.1M187.5 46l2.2 2.7M192.9 47.3l2.9 2.4M202.3 47.7l3.4 2.5M206.3 45.8l2.4 3.2M211.6 47.7l2.6 1.9M214.6 46.2l3 3M221.8 47.8l3.2 2.4M30.6 49.2l1.6 2.7M88.1 49.1l1.4 1.8M91.7 50.3l1.6 1.5M95.5 49.3l3.1 2.8M108.3 48.4l2 2.7M113.1 49.3l2.2 3.1M114.4 49.4l1.7 2.6M167 48.5l1.2 2.4M179.6 48.6l1.3 2.4M183.5 49.7l2.6 3M197.7 48.6l1.5 3.2M203.1 49.3l2.8 2.8M207.2 49.9l1.7 2.5M211.3 49.9l3 2.2M217.7 47.6l1.6 3.8M89.4 51.4l2 2.5M91.1 51.9l2.4 1.7M98.9 51.5l3 2.6M101.5 50.9l2.2 3.3M109 51.3l1.9 3.4M124 51.5l2.4 3.1M158.5 52.2l1.5 1.4M171 51.4l3 3.6M173.3 50.6l3.5 2.8M179.7 51.7l2.7 2.7M186.3 51.1l2.4 2.6M188.7 50.9l2.6 3.7M194.4 49.8l2.8 3.7M195.8 51.5l2.6 2.2M198 50.7l2.1 3.3M205.3 51.3l2.5 3.5M206.8 51.4l2.9 2.6M210.5 51l2.9 3.5M214.2 51.4l1.9 2M215 51.7l2 3M219.7 51.6l2 3.3M222.3 51.3l3 2.5M85.6 53.1l1.4 1.9M89.4 53.1l2.1 3.4M109.1 53.4l1.5 2.3M117.6 53.2l2.3 3.1M163 53.3l1 2.4M165.7 54.3l1.7 2.1M168 52.7l2.4 2.3M176.5 53.6l2.3 2.8M185.8 52.6l1.6 2.5M189.1 53.6l1 3M201 54l3.2 2.6M209 53.9l1.3 2.4M214.1 52.8l1.7 2M217.8 52.9l1.6 2.2M223.1 53.6l3.4 2.9M94.9 55l.9 2.4M95.4 56.4l2 2M98.1 54.7l3.1 2.5M100.9 55.4l1.2 2.5M102.1 55.5l3.4 2.9M107.1 54.3l1.5 3.1M120.6 55.5l.7 2M124.5 55.8l1.5 2.5M155.9 55.1l1.4 2.7M166 56.1l2 2.5M173.7 54.5l3.1 2.7M177 55.9l2.6 1.9M186 55.9l1.9 2M192.2 55.3l2.9 2.6M194.3 56.2l2.6 1.6M197.3 55.6l2.5 2.8M201.6 55.1l1.6 3.1M203 54.1l2.2 3.2M211.1 54.5l3.4 2.9M213.8 54.9l1.9 2.1M215.3 56.3l2.4 2.1M221.2 54.5l2.4 3.5M224.3 54.8l2.5 3.5M85.5 57.9l1 2.3M93 56.7l2.1 3.3M109.8 57.7l1.4 2.4M118.3 56.4l2.3 3M154.1 57.2l1.7 3.5M158.3 57.8l2.8 2.6M163.2 57.4l1.9 2M166.6 57.3l2.5 3.4M176.2 56.9l2.4 3.2M179.4 58.2l2.2 2.5M181.3 57l2.8 2.5M183.6 57.4l1.9 1.8M188.5 56.6l2.5 4.2M198.3 57.9l2.2 1.9M203 57.7l1.7 2.3M210 57.2l1.7 2.9M211.7 57.5l1.3 2.3M215.9 58.3l2.3 1.1M219.9 57l1.9 2.7M221.6 57l2.4 3.2M223.3 58.6l1.9 1.8M86.4 60.6l1.3 2.1M86.9 60l2 2.7M95.7 60.5l2.5 1.6M107.4 59.3l1.4 3.9M111.3 60l1.4 3.5M128.1 60.5l.9 2.4M136.8 59.4l1.4 2.3M163 58.7l2.2 3.9M168.1 59.4l2 2.3M171.2 59.1l1.7 2.5M178.6 58.8l1.6 2.5M179.8 60.1l2.6 3.1M200.1 58.1l3.1 3.8M202.6 59.1l1.6 3.7M205.6 59.8l2.8 3.5M207.1 59.4l2.6 2.9M209.4 59.4l1.6 2.7M213 58.6l2 4.1M223.1 58.8l2.2 2.4M30.2 61.1l1.9 3.2M93.2 61.6l1.8 3M97.4 61.9l1.7 2.3M102.9 62.6l1.8 1.8M110.9 60.5l2.4 3.5M118.6 60.9l2.5 3.1M121.2 61.9l2.7 2.2M122.5 61.3l3.1 1.9M138.2 62l.7 2.6M153.6 62.6l1.4 2.1M156.4 61.7l1.6 2.5M164.6 60.3l3.3 3.6M169.4 61.2l2.2 3.6M171.1 62.4l2.3 2.4M173.2 60.9l2.5 2.5M177.2 60.9l2.3 2.5M184.5 62.2l1.5 2.8M185.3 61.8l2.6 3.6M187.9 61.7l2.5 3M201.2 61.2l3 3.1M203.1 62.4l2.3 2.6M207.8 61.1l2.7 3.1M211.3 62.2l4.2 2.7M220.7 62l2.2 2M220.8 61.7l3.1 3.8M225.9 60.4l3.2 3.5M30.6 64.2l1.6 3.1M95.1 62.9l2.5 3.4M109.4 63.2l1.9 3M113.5 63.1l1.5 3.2M144.6 63.3l1.5 1.7M153.9 63.4l1.2 2.8M154.6 63.6l3.2 3.6M156 63.9l2.5 3.2M157.9 63.7l2.6 3.1M165.8 64.1l1.6 2.2M168.9 63.1l3 3M173.4 63.4l2.4 2.6M180.2 63.7l1.7 3.2M181.9 61.9l2.1 4.5M183.8 64.1l1.2 2.3M184.8 64.4l3.9 2.7M192.4 63.1l1.4 2.4M195.2 64.3l2.8 2.8M196.4 63.5l2.2 3.3M199.5 64.4l2.1 2.6M200.3 63.1l2.2 3.4M206.5 63.1l2.9 4M210 63.4l1.7 2.1M213.1 62.7l2.7 3.4M218.4 63.3l3.3 2.8M225.4 62.8l2.3 3.2M93.5 65.3l1.8 2.8M100.6 66.1l3 1.9M102.3 66.4l2.4 2.8M107.3 66.9l3.4 2M114.8 64.9l2.9 3.1M117.1 66.2l2.1 1.8M150.2 66.1l1.3 3M153.1 65.5l1.4 3.1M155.4 66.5l2.5 2.9M156.3 65.2l2.4 2.6M162 65.5l2 1.9M163.1 65.9l2.7 2.4M164.7 65.9l2.7 3M167.9 65.3l1.6 3M178.2 65.5l2.8 3.9M181 65.1l2.8 3.2M188.3 65.2l2.7 3.4M193.2 65.2l1.9 2.5M195 65l3.1 3.9M199.9 66.2l1.4 2.2M207.3 65.2l2.1 2.7M209.9 66l2.4 3.4M212.2 65.9l3.5 3M226.5 64.6l2.7 3.8M87 68.4l1.8 3.2M93.5 66.8l2.6 3.3M95.3 68.1l2.3 2.3M113.2 68.4l1.1 2.5M138.5 67.1l2.2 2.8M139.3 68.5l2.9 3M142.2 68.1l3.3 3.6M157.1 67.8l2.7 3.2M158.7 67.2l2.2 2.4M160.6 68l2 2.8M169.5 67.1l2.6 2.7M175.4 66.5l2.9 4.1M182.1 68l1.8 3.3M188.2 68l2.1 2.9M190.5 66.8l2 3.3M195.9 68.5l2.6 3.2M199.9 66.9l1.8 3.6M202.8 67.5l2.1 4.3M215.3 67l3.2 3.3M216.8 68.2l2.8 3.1M223.4 66.6l3.3 3.7M225.5 66.7l3.4 3.3M96.2 69.1l1.4 2.7M99.1 69.5l3.2 2.9M121.5 68.9l3.2 3.2M142.4 70.6l2.3 2.7M143.8 69.2l2.3 2.7M151.6 69.5l1.2 3.5M170.5 70.5l1.8 2.4M174 69.7l2.4 2.2M194.6 69.8l2 2.4M200.2 69.6l2.3 1.8M202.4 70.1l2.1 2.4M205.8 70.5l1.4 2.2M211.1 69.9l2.9 3.9M213.7 70.2l3 2.9M214.9 69.7l2.3 2.3M217.1 70.6l3.6 3M219.2 70.2l2.9 3.8M87.4 72.7l1.5 2.3M89.6 73.3l1.5 1.6M91.4 71.9l2.5 2.2M96 71.5l1.6 2M99.6 72.2l1.8 2.7M102.7 72.3l1.7 2.5M110.1 71.5l1.6 3.7M150.6 71.3l2.6 3.7M152.6 71.3l2.2 2.7M154.6 72.2l2.5 1.9M161.5 72.7l2 1.7M166.7 72.4l2.1 2.8M172.4 72.3l1.7 2.6M174.1 72.2l2.7 1.3M185.9 71.5l2.4 3.5M189.7 70.7l3.3 3.7M193.2 71.6l2.3 2.5M199.1 71.8l2.3 3M201.6 71.3l2.6 2.6M206.4 71.4l2.8 3.4M209.5 71.9l2.9 2.1M210.8 71.9l3.2 3.8M216.6 71.3l1 2.6M221.3 71.4l2.4 2.3M222.8 70.9l3.1 3.2M100 74.2l2.2 2.9M118.7 73.5l1.8 2.4M139.4 74l3.1 3.2M167.1 74.8l1.9 2.1M168.7 74.4l2.2 3M175.9 73.4l2.6 3.2M177.8 73.7l3.1 3.9M183.4 74.7l2.6 3.1M189.1 72.6l2.4 4M193.3 74.7l1.5 3.2M197.9 74.1l2.4 3.9M207.3 74.7l3.1 3.4M210.9 73.7l3.1 3.4M220 73.9l3.4 3.2M222.1 73.4l2.3 3.4M224.2 75l1.9 2M225.6 74.8l2.2 3.1M92.3 77.1l1.2 1.9M101.4 76.8l2.5 1.5M120.3 75.6l2.3 2.3M140.1 76.5l1 2.8M146.4 75.6l3.1 2.3M151.7 75.9l2.8 2.7M156 76.5l2.4 2.9M158.2 77l2.9 3M162.9 76.2l1.7 2M169.2 76.9l2 3M174.6 76.9l1.9 2.4M180.1 75.4l3.1 3.8M182.1 76.6l1.4 3.4M189 75.9l2.4 3.2M197 75.9l2.6 4.1M201.8 75.8l2.2 3.5M204.5 76.2l3.3 2.8M207.5 75.5l2.2 3.4M208.7 77l2.7 2.7M211.6 74.8l2.6 4.1M213.6 75.6l2.3 2.1M223.7 75.9l3.7 2.8M226.3 77l1.4 2.4M30.9 78.8l1.1 1.8M87.5 78.4l2.4 2.6M95.2 78.9l.8 2.6M97.8 78.2l1.9 3.4M108.7 78.2l2.7 3.2M142.4 77.5l3.4 3M146 78.6l3 2.8M149 78l2.1 3.1M149.8 78.3l2.7 3.9M155 78.8l2.7 3M157.8 77.8l2.8 3M177.4 78.1l2.3 3.4M180.8 78.9l2 1.6M189.3 79.3l1.7 2.3M191.1 78l1.9 2.6M192.2 77.8l2.3 2.7M194.3 78.8l2.1 2.2M199.3 79.4l1.5 2.1M215.3 77.5l2.5 3M219.2 78.7l2.2 1.9M227 78l2.2 2.8M93.6 80.8l1.9 2.3M148.7 79.7l2.5 3.9M156.5 81l2.4 2.9M160.3 80.8l3.6 2.8M163.4 80.1l3 3.1M164 79.5l3.1 3.6M169.1 81l2.9 2.5M171 80.4l2.7 3.2M179.6 79.6l2.4 3M181.1 79.2l2.7 3.5M189.8 79.7l2.5 2.7M205.1 81.4l1.7 1.8M207.2 81.1l2.2 1.8M209 80.8l2.2 2M212.2 80.7l1.8 1.8M212.8 79.4l2.2 3.6M215.2 81.1l2.3 2.6M218.5 80.1l3.4 3.6M85.2 83l1.7 2.6M92.7 83.5l.8 2.5M94.3 83l.6 3.2M111.2 83.5l2.4 2.6M116.6 81.7l2.8 3.1M139.2 82l2.2 3.2M145 83.6l1.7 2.1M150.6 81l2 4.1M152.2 82l1.9 3.9M157 83l2.4 2.7M160.8 82.4l2.9 3.2M163.6 82.9l2.9 3.7M168 82.4l2.3 3.2M170.9 82.9l2.1 2.6M176.1 82.6l2 3.2M176.9 82.6l3 3.9M180.2 82.9l1.6 2.2M182.9 82.5l3.3 2.8M190.3 82.5l3.4 2.7M195.2 82.7l1.7 2M201.1 82.4l2.1 3.1M202.8 81.9l3.7 3.1M208.7 82.1l2.4 2.3M211.9 82l2.6 2.3M214.7 82.8l3.4 3.6M218.6 82.2l1.9 2.7M219.9 82.7l2.6 3.7M222.7 82.8l2.1 3.7M223.1 82l2.8 3.1M88.4 84.2l1.8 4.1M98.4 83.7l1.4 3.2M118.6 84.1l2.6 3.3M138.2 84.6l1.9 3.4M146.5 84.9l2.7 2.9M157.2 85.6l1.8 2M161.8 84.5l2.3 2.3M164 84.6l3.6 2.9M172.5 84.6l1.6 2.4M173.4 84.7l2.3 3M178.3 84.1l2.3 2.8M179.6 84.2l1.7 3.9M184.8 84.9l1.9 3.1M193.1 84.9l2.7 3.5M196.1 85.1l2.2 2.4M211.7 84.7l1.4 3M214.3 85.7l1.4 2.1M215.2 83.8l2.4 3.7M220 84.9l2.7 3M87.9 85.7l.7 4.3M91.6 86.5l2 2.8M98 87.2l1.7 2.7M103.7 86.3l2.2 3.7M123.3 85.8l2.7 3.1M146.4 87.4l2.3 2.5M148 86.4l2.6 3.1M155.4 86.2l2.6 3.5M156.5 86.9l2.3 2.7M163.3 86.5l2.7 2.6M166.6 86.3l2.2 2M168.5 87l2.4 3.2M170.8 86.5l2.1 2.9M179.7 86.5l2 2.7M182.6 87.6l2.1 2.5M185.1 86.2l1.9 3.8M186.5 87.9l1.8 2.1M187.9 85.9l2.5 3M194.7 87.5l2.3 2.1M196.9 86.6l2.8 2.9M201.3 86.5l2.4 2M209.1 87.1l1.8 3.1M212.2 86.2l3.6 2.9M215.2 87l2.6 3.7M222.1 87.8l1.6 1.9M224.9 85.8l3.3 3M32.9 87.9l.9 3.9M81.3 89.1l1.3 4M93.3 89l1.4 2.9M96.4 89.1l1.3 2.2M99.1 88.9l.7 3.5M101.9 89.5l2.3 2.8M106.4 88.5l2.2 3.7M109.2 88.9l2.6 2.6M119.4 89.2l2.6 2.6M121.5 88.3l1.9 3.3M139.6 89.4l3.1 2.9M141.8 89.6l1.8 2.2M150.7 89.7l3 2.7M154 88.3l2.2 2.7M156.6 88l2.1 3.8M161.7 88.7l2.6 3.2M164.7 88.9l2.8 3.1M167.1 88.1l1.9 3.6M174.9 89.1l2.8 3M177.7 88.2l2 2.2M178.6 89.2l3.4 3.3M185 88.8l1.4 2.1M185.9 89.7l2.1 1.5M192.8 88.3l1.9 2.1M195.7 88.6l1.8 3.4M195.8 89.3l2.4 3.1M204.6 88.1l2.9 3.6M210.8 88.6l1.8 2.4M216.8 89.7l2.4 2.4M219.3 88.2l1.7 2.3M222.1 88.7l1.6 2.4M223.1 88.6l2.5 2.6M42.5 91.3l.5 3.1M79.8 91.3l1.4 2.1M90.4 91.4l.9 3.4M95.8 90.4l2.2 3.1M108.4 91.6l1.9 2.7M119.2 90.6l2.2 1.6M121.4 91l1.8 2.6M127.5 90.2l2.5 3.1M130.6 90.8l2.6 2.8M139.8 91.6l1.7 2.1M148 91.3l3.2 2.9M151.2 91.6l1.6 2.9M154.5 90.2l2.5 2.9M160.7 91.3l2.9 2.3M166.4 90.8l2.6 2.6M170.4 90.7l1.4 2.4M172.2 90.7l3.5 3.4M181.6 90.1l2 3.3M195 90.7l2.9 2.8M202.3 90.3l3 3.1M211.5 91.6l2.4 2.4M214.4 90.4l3.3 3.1M220.7 90.9l2.1 2.2M77.9 92.2l1.7 3.8M78.5 93.7l1.8 2.8M87.2 92.8l1.4 3.9M93.6 91.6l2.2 3.9M98.7 92l1 3.7M105.9 92.5l3.1 3.2M108 93l2.5 2M118.5 93.4l1.7 2.2M140 93.1l2 3.1M142.1 92.4l2.1 2.9M150.7 92.5l2.3 3.6M152.9 92.1l1.3 3.4M175.3 92.8l2.8 3.9M178 92.4l2.3 4.1M179.3 93.6l2 2.6M184.1 93.1l1.8 2.8M200.6 92.9l2.6 3.3M204.2 92.5l3.2 2.1M211.1 92.3l1.9 2.7M216.5 93.4l2 3.3M220 93.8l2.5 2.1M226.4 94l2.6 2.5M30.6 94.7l1.7 2.5M34.9 94.4l1.6 2.7M69 95l2.4 3.6M76.2 94.6l.4 3M76.7 94.4l1.3 2.6M83.9 94.2l1.3 3.2M85.4 95.5l1.9 3.6M119.4 94l2.5 3.7M128 95.3l2 3M132.3 94.6l1.2 2.3M136.7 94.8l1.9 3.2M139.7 95l1.8 2M143.1 94.1l2 4M145.5 95.5l2.6 3M149.5 94.1l2.6 3.4M151.9 96.3l3.4 2.2M165 94.5l2.2 2.4M169.6 95.7l2 3.3M171.7 95.3l2.4 3.5M173.5 96l1.9 1.7M175.1 94.7l2.4 3.6M178.3 96.4l2.1 1.6M182.7 95l2.1 2.3M195.9 94.9l3.2 3.7M198.5 95.7l3.8 2.6M201.8 93.8l2.8 4.1M212 95.1l2.1 2.2M220.9 96.3l1.7 1.9M223.1 95.6l2.9 3.3M38.4 97.1l1.4 3M65.2 96.7l1.1 3.4M74.9 96.5l1 2.4M76.8 96.5l1.1 3.4M90.4 97.6l.7 3.1M96.6 97.4l1.4 2.8M100.4 97.5l1.6 2.2M130.2 96.9l1.1 2.8M133.9 96.9l1.3 2.8M137.9 97.3l1.2 4.1M139.9 98l2.1 2.5M149.1 97.1l2.1 1.7M154.6 96.6l2.1 3.8M157.3 96.1l2.7 3.8M162 98l1.7 3M164 97.7l1.7 2.8M168.4 97.4l2.6 2.1M172.7 97.6l2.4 1.8M176.7 96.8l3.7 2.3M181.9 96.1l1.9 3.3M186.5 97.3l3.3 3.2M189.6 96.3l3.3 3.6M196.1 98.1l1.9 2.1M214.2 96l2.5 4.1M216.9 98.1l1.2 2.3M219.5 96.5l1.4 3.4M221.9 97.2l2.2 3.2M226 96.5l3.1 2.6M36.8 98.8l1.2 2.3M44.9 99.7l.9 3.1M70.5 98.7l1.6 2.7M79.8 98.6l.7 3M82 99.1l1.1 3.3M86.2 99.7l1.6 2.4M91.7 99l.6 4.4M98.3 99.7l.7 3.6M103.1 99.9l1.9 2.9M104 98.9l2.2 2.1M108.2 99.1l2.7 1.8M112.9 99.5l1.8 3M117.7 100.1l2.1 2.6M128.2 99.2l1.5 3.5M134.1 99.8l1.9 1.6M138.9 99l1.6 3.6M143.9 99.6l2.4 2.4M148.7 100.3l1.8 2.2M167.3 99.2l2.5 4.2M178.4 99.6l2.1 1.6M181.9 100.2l3.2 2.6M183.6 99.5l2.4 2.5M186.1 98.7l3 3.6M193.3 99.6l1.7 2.9M196.7 99.5l2.4 3.3M204.1 99.6l1.7 2.4M211.1 99.5l2.9 3.1M214.7 99.6l2.7 2.8M220.1 100.4l1.8 2M222.8 99.4l1.9 2.7M35.1 101.6l.8 4M37.6 101.8l1.4 3.1M45.3 100.7l1.5 3.5M50.7 100.3l.2 4.1M68.6 102l1.7 3.1M90.7 101.4l1.7 3.6M99.7 101.5l2.2 2.3M103.3 101.5l1.5 3.6M105.1 101.7l1.8 2.1M106 101.6l1.4 2.2M113.5 101.5l1.8 2.3M118.9 100.9l2.6 2.9M122.6 101.7l2.1 3.9M125.2 102.1l1.8 3.2M137.4 101l1.6 3M144.5 100.6l2.4 3.3M145.7 101.9l2.5 3.2M148.2 101.2l2.2 3.6M151.3 102.4l1.6 2M157.8 101l2.2 4.3M166.3 102.1l1.3 2.5M168.4 101.4l2.8 3.1M181.6 101.8l1.7 1.9M184 102.1l2.3 2.3M185.8 102.2l2.5 2.7M192.7 101.6l3.5 3.1M195.4 101.3l1.7 3.1M200.4 100.6l2.1 2.9M203.5 101.4l1.8 1.8M205 100.7l2.8 4M33.8 102.8l.7 2.7M47 103.4l.3 3.4M57.4 103.3l.7 4.3M73 104.5l1.4 2.3M85.8 102.7l.9 4.3M102.9 103.9l2.4 2.4M107.3 103.9l1.8 2.3M118.7 103.7l2.1 3.7M140.4 102.1l2.7 4.2M143.3 104.5l1.4 2.4M145.7 104.1l2.6 3.3M154.5 102.6l2.5 2.9M156.4 103.5l2 3.9M158.6 103.1l2.6 3M161.5 103.7l3 2.2M163.7 104.1l2.1 2M167.4 103.1l3.2 3.4M178.5 103.6l2.2 3.5M179.1 103.5l2.7 3.7M183.4 103.5l1 3.1M186.1 103.2l2 2.3M188.9 102.8l2.2 3.3M197.8 103.3l2.6 2.9M204.9 104.2l3.7 3.3M207.2 102.8l1.6 2.6M208.5 104.4l2.2 2.3M214 103.9l2.4 2.3M220.6 103.4l1.5 2M43.6 105.5l1.2 2.7M52.6 105.1l.2 3.8M73.8 104.9l.6 3.1M83.2 104.6l.2 4M88.1 105.3l1.3 2.4M109.1 106.2l2.7 2.7M123.2 106.7l2.1 1.7M127 106.2l1.5 2.7M134.6 106l2.9 3.1M141.6 106.8l2.8 1.9M143.6 104.8l1.9 2.6M145.6 105.9l3.5 2.7M149.1 106.8l2.3 1.8M150.5 105.9l1.5 3M153.9 106.1l3.1 3.7M163.9 105.2l2.4 3.5M166.7 106.4l2.6 3M170.9 105.2l2.4 4.3M180.8 104.9l3.4 3.2M189.1 104.4l2.5 3.8M192.1 105.6l2 2.8M199.3 105l2.5 2.8M202 106.3l1.6 2M203.1 106.6l2.4 2.5M211.9 106l2.2 2.4M216.1 106l1.5 2.6M219.7 106.1l2.8 2M222 105.5l2.8 3.9M224.9 106.3l2.3 2.9M69.9 108.3l1.1 3.3M78.8 106.6l.6 4.1M80.4 106.3l.7 4.2M88.5 108.6l1.3 2.6M90.4 107.5l1.3 2.4M95.5 107.7l1.3 2.7M114.9 107.5l1.2 3.2M128.6 106.7l1.5 4.1M135.8 108.1l2.9 1.6M142.9 107.9l1.3 2.7M143.7 106.6l3.4 3.4M148.6 107.5l1.8 1.8M155 108.2l3.2 2.8M160 107.2l3.6 2.7M162.9 108l3.7 3M169.8 107.8l1.9 1.9M178.8 107.7l3.3 3.6M184.7 107.2l1.6 4.3M190.1 108.5l2.4 2.7M192.3 106.8l3.1 3.1M200.7 107.3l1.2 2.3M203.4 106.8l2.1 3M204.8 107.7l3 2.9M211.4 107.6l4.1 2.8M219.8 107.4l1.7 2M224 108l2.4 2M32.4 108.9l.8 2.8M39.9 109.6l.9 3.2M43.8 109.9l.4 3.6M54.4 109.7l-.2 3.3M57.7 110.2l.5 3.5M65.6 109.9l1.4 3.7M81.9 110.1l.7 3.1M83.3 110.2l.9 2.7M89.5 110.1l.9 2.7M93.8 110.6l1.1 3M95.4 108.6l2.2 3.9M101.6 109.6l1.9 2.3M127.2 110.1l1.6 2.6M136 109.9l1 2.3M137.7 109.9l1.9 2.8M140.9 110l1.8 2.3M144.5 110.4l1.5 2.1M149.1 109.9l1.9 2.7M151.1 110.3l2.9 3.3M157.4 110.5l1.9 3M166 109.6l3.5 3.4M169.1 109.7l1.6 2.7M177.5 110.6l2.5 2.3M178.9 108.5l2.9 3.7M184.9 110l2.4 3.9M186.2 109.5l3.4 3.3M188.7 110.3l1.6 2.2M189.5 109.7l2.9 3.8M192.8 109.1l2.6 3.5M193.7 110.1l2.6 3.4M195.7 109.9l3.4 3.3M198.7 110.4l2.6 3.3M201.7 110.1l1.7 2.1M213.3 109l2.5 3.3M216.5 109.1l3.3 2.8M223.6 110.1l1.7 2.3M226.5 110l2.5 3.6M52.5 112.4l1.1 2.6M71.5 110.7l.7 4.2M86.2 112.3l1.9 3M112.6 111.7l2.3 2.1M121.2 111.6l2.6 2.2M141 112.2l2.8 1.5M144.1 112l2 2M151.1 112.3l1.4 2.3M154.4 112.8l2.4 2.7M158.6 111.6l2.7 3.2M167.6 111.9l2.6 3.9M168.9 111.1l3.1 3.2M174.3 112.9l2 2M178.4 112.4l1.6 2M182 112.6l2 2M196.5 112.2l2.8 2.2M201.3 112.2l1.8 3M212 113l1.8 1.8M213.9 111.1l3.2 3.1M218.3 112.7l1.2 2.2M219.5 111.4l2.9 3.7M224 111.7l1.8 3M226.2 112.1l2 2.9" stroke="#c8262e" stroke-width="1.0" fill="none"/><path d="M30.9 8.5l2.6 1M31.9 8.3l2.5 1.1M34 6.9l3.4 2.5M43.1 6.9l2.5 1.1M45.8 8.1l1.7 1.6M48.7 6.6l3.7 2.1M53.2 7.1l3.4 1M74.5 6.6l1.4 2M91 6.8l.7 1.6M98.3 6.3l1.1 3.2M134.5 6.2l1.6 2.8M143.9 6.5l1.2 2.8M147 6.4l1.4 2.7M149.8 6.6l.8 1.7M151.7 7.1l.9 1.7M163.4 6.1l.5 2.6M165.6 7.1l1.1 1.5M167.2 7.6l1.2 2M169.5 7.1l1.1 1.5M173.5 6.6l1.1 1.9M176.4 6.8l1.3 2M177.6 7.4l1.2 2.6M179.5 7.5l1.5 1.6M185.1 7.8l1.2 2.8M186.8 6.5l1.5 2.5M191 7.2l1.3 3M203.2 7.3l1.2 1.4M223.8 6.9l1.7 2.6M31.1 9.4l2.7 .8M34 9.8l3.5 2.2M43.3 9.9l2.8 1.3M45.5 9.2l2.4 .9M46.7 9.7l3 1.3M169.6 8.8l1.5 2.9M171.8 8.6l2.2 2M176.7 10.2l1.8 2.2M179.3 9.9l.9 1.5M181.9 8.3l1.2 3.1M185.6 10l.8 1.5M186.2 9l1.3 1.6M220.2 9.2l1.2 1.7M221.7 8.3l1.5 2.6M224.2 9.8l1.1 1.6M37 11.3l2.9 1.7M39.3 11.5l2.3 .8M42.1 10.7l1.9 2.3M43.3 12.1l2.1 1M172.1 10.3l1.4 3.1M173.5 10.9l1.6 2.2M176.6 10.7l2.2 1.9M220.8 11.8l1.6 2.9M222 10.9l.7 1.7M226.6 11.8l.9 2.5M31.1 13l2.8 1.4M36.5 14.3l2.3 2.1M175.5 13.2l1.2 1.5M178.2 13.9l.9 1.6M181.7 12.9l.4 3.2M186.2 13.2l1.2 2.3M224.2 12.8l1.8 2.7M226 13.9l1.2 1.4M182 15.4l.9 2M185.1 16.8l1.1 1.6M186.5 15.6l1.4 1.4M221.1 15.9l1.3 2.8M223 15.7l1 2.7M227.6 16l.6 2M29.4 18.2l3.6 .8M180.9 18.6l2 2M182.4 17.2l1.1 1.5M30.6 20.6l1.2 2.1M180.8 19.1l1.7 2.3M184.5 20.2l1.1 2M188.8 20.4l2.1 2M193.9 19l.5 2.1M195.9 19.9l1.2 2.9M197.8 20.4l1.1 2.1M206 20l1.7 2.5M207.5 19.8l1.1 1.8M209.3 20.4l.8 2M212.5 19.6l1.1 2.4M213.2 19.6l2 2.7M218.1 20.2l1.6 2.2M220.4 19.7l1.3 2.7M221.7 20.5l1.2 1.9M227.3 19.2l1.1 2.6M178.7 22.6l1 1.8M182.9 22.4l1.3 2.5M191.8 22.2l.8 2.6M193.1 21.6l1.9 2.1M196.7 21.5l2.1 1.5M199.2 21.3l1 2.1M201.6 21.4l1.5 2.5M203.3 23l1.6 1.6M205.3 22.5l1.4 2.8M208.2 21.6l1.2 1.5M212.9 22.1l.2 1.8M214.8 22.7l.7 2.1M216.9 21.1l1.2 2.6M222.1 21.6l1 1.4M225.8 22.5l1.6 1.9M179.8 24l1.1 1.4M185.2 25l1.3 1.6M187.3 24.5l1.5 2.9M188.2 24.5l1.8 1.7M190 24.9l1.4 1.4M193.3 24.6l1.1 2.5M195.5 24.5l1.8 2.6M199.3 24.5l.9 2.5M202.9 24l1.3 2M205.2 24.7l2.3 2.1M207.7 23.3l2 2.3M209.2 24.3l1.5 2.8M218.2 23.7l1.6 2.4M219.2 24.4l1.8 2.7M222.9 24l.8 1.9M224.5 23l1.3 2.4M226.8 24.4l1.2 2M178.3 26.3l1 1.9M179.4 26.8l1.5 1.7M182.6 27.3l1.2 1.3M189.3 27.1l1.6 1.9M191.1 26.9l1.1 2M201.9 26.1l1.5 2.7M203.8 26.5l.5 2.8M205.4 26.7l1.9 1.7M207.1 26.7l.9 2.1M210.5 26.1l1.4 1.8M213.3 25l1 2.7M215.3 25.4l1.8 2.6M217.8 25.7l1.2 1.9M220 26.9l1.8 2.1M222.3 26.8l1.4 1.5M180.5 28.2l1.1 1.4M182.6 27.5l1.8 2.2M185.8 27.6l.6 2M189.3 27.7l1.5 1.6M201.6 27.5l2.4 2.6M208.2 27.4l1.7 2.4M223.5 28.8l2 2.4M226 27.3l1.8 2.6M174.1 30l1.5 2.5M177.7 30.6l1.6 2.3M182.1 30.3l2.1 2.5M187.7 30.8l2.4 2.9M219 30.6l1.2 1.9M223.2 30.7l2.4 2.1M170.7 31.9l1.3 1.8M172.6 31.4l1.9 2.7M177.6 32.3l1.1 2M181.2 32.1l.7 2.1M181.6 31.9l1.7 2.6M183.6 32.2l3 2.5M188.8 33l1.7 2.6M203.5 31.8l1.7 2.8M213.1 32.7l1.8 2M226.2 32.7l1.7 2.3M30.3 34.9l1.8 2.6M170.1 34.6l1.5 1.9M174.5 34.5l1.8 2.5M176.5 34.8l1.4 2.4M178.2 34.9l1.1 1.5M194.1 33.7l2.2 2.3M199.5 34.6l1.2 1.9M220 33.9l1.2 2M166 36.3l1.6 2.1M170 36.4l1.3 2.4M205.8 35.1l2.1 3.5M216.1 36.7l1.3 2.4M93.6 39.7l1.2 1.8M167.9 38.5l1.7 1.6M170.9 38.6l.9 2.6M186.2 37.7l2.2 2.5M207.5 39.6l1.7 1.6M209.6 38.8l1.4 3.7M220.4 39.2l1.7 2.7M221.9 38.7l1.8 2.2M91.4 40.6l1.9 2.2M97.6 40.6l2.8 1.9M100.3 40.5l1.3 1.3M102.7 41.2l1 1.8M166.1 41.2l1.8 2.3M168.8 40.4l.9 1.7M180.4 40.1l3 2.6M214.8 40.4l2.6 1.5M88.1 42.8l1.3 2.3M92.7 43.3l1.9 2.6M94.6 43.9l.9 1.7M103.3 42.4l1.4 1.7M104 42.2l2.1 2.6M165.8 42.3l.8 1.7M167.4 42.4l1.3 1.6M174.2 42.3l2.3 2.9M196.3 42.7l2.1 3M206.7 42.5l2.3 2.1M213.9 42.2l2.8 2.7M225.9 42.6l1.2 1.9M87.6 45.6l1.6 2.7M90.7 44.8l1.4 2.1M92.4 44.4l-0 2.6M94.8 45.8l1.5 2.3M105.1 45.9l.7 1.6M111.4 45.4l.5 2.2M164.2 45.1l1.5 1.4M165.2 45.1l1.1 2.4M170.7 43.8l.5 2.8M202.5 44.3l2.8 2.5M213.8 44.5l1.3 2.6M88.5 47.2l1.1 1.9M90.3 47.6l2 2.6M94.1 47.6l2.1 2.5M101.3 46.8l.9 1.7M102.6 48l1 1.4M106.4 48.1l1.1 1.5M109.8 47.5l1.1 1.7M110.2 46.6l2.3 1.9M113.4 47.4l.6 1.7M166.3 47.1l.8 2.9M169.5 46.9l1.2 2M196.6 46.6l1.4 3.2M214.3 46.8l2 2.5M225.2 46.7l1.5 2.7M225.6 47.2l2.5 2M84.6 49.1l.6 1.9M86.4 49.1l1.3 1.8M90.9 49l1 2.5M99.3 49.5l2.9 2.3M102.8 48.7l1.1 2.9M104.5 49.4l.9 1.6M107.1 48.6l.9 1.7M111.8 49.9l.6 1.9M116.8 49.6l.9 2.8M162.5 48.6l1 2.9M163 49.6l1.4 1.9M165.8 48.2l1.1 3.1M177.4 48.5l1.6 2.2M181.3 49.4l2.4 2.1M185.8 48.3l2.2 2.7M191.5 48.6l1.4 1.7M192.6 48.7l2.5 1.9M213.3 48.9l1.8 3.5M30.9 51.7l1.2 1.7M84.2 51.1l.5 2.7M85.3 51.1l.9 3.1M88.3 50.6l1.3 2.8M99.3 51.3l1.5 2.4M105.4 50.2l.9 3.1M106.3 52.1l2.2 2.1M111.6 50.8l1.9 2.1M114 50.8l1.3 1.6M117.3 50.2l1.7 2.9M120 51.9l1.3 1.6M121.1 50.7l.9 2.5M161 51.6l1.1 1.8M164.5 50.2l1.1 2.8M164.6 51.8l2.1 2.6M167.1 51.2l1.7 1.8M182.2 51.7l3.4 2.1M208.6 50.9l2.5 1.7M218.2 50.7l2.1 2.6M224.5 51.1l2.5 3.4M84.7 53.2l1.1 3.2M91.2 52.2l1.7 3.4M95.3 52.6l.7 2.4M99.8 53.1l1.8 1.9M103.8 53.5l1.6 1.9M113.5 53.9l1.7 2.3M114.6 54.5l1.7 1.6M118.5 53.1l1.7 1.8M121.1 53.2l.8 1.7M124.3 53.7l.6 1.6M126.3 53.2l.8 2.1M156 53.9l1.3 1.8M156.8 53.1l2 2.2M158.7 53.9l1.4 2.3M170.7 52.2l2.3 2.8M193.4 52.8l1.5 2.2M197.3 54.2l1.4 2.4M30.8 56l1.2 1.8M83.2 55.5l1.7 2.5M88.8 56.4l.8 2M89.6 56.1l2 2.5M114 55.1l1.1 1.6M116 54.9l1.3 2.2M116.6 56.4l1.4 1.5M120.8 55.2l1.2 1.2M125.3 55.6l1.7 1.3M127.7 55.2l2.2 2M160.3 55.6l1.1 1.7M161.4 54.3l1.7 2.9M181.8 56.2l1.7 2.3M207.4 55.2l1.6 1.7M219 55.8l1.4 1.8M226.4 55.6l2.9 3.1M83.7 57.1l1.3 1.5M88.9 57.6l.7 1.9M89.3 57.8l1.2 2.9M96.5 58.7l1.7 1.4M104.2 57.8l2.1 2.8M112.3 56.9l1.6 3.5M115.8 56.8l1.8 2.1M123.5 56.7l1.9 2.7M125.5 57.4l.8 2.4M128.7 58.9l1.1 1.3M131.2 58.2l1.4 1.9M133.8 57.3l1.6 2.7M153.5 57.3l1.1 1.5M162.4 57.7l.6 2.3M165.7 58.3l2.2 1.9M169.1 56.6l2 2.5M178 57.1l2 1.8M193 57.1l2.9 2.3M206.7 57.1l2.3 2M94.5 59.4l1.4 3.5M97.2 60.3l2.2 2M101 59.3l1.2 3.5M112.6 60.5l2.1 1.2M119.8 59.3l1.4 1.6M121.1 59.5l1.5 2.3M130.6 60l.6 2.8M131.8 59l1.8 2.8M133.5 59.4l1 2.1M138.9 60.4l.5 2.3M143.9 60.2l-0 2.3M144 60.5l1 1.9M146.7 61l1.5 1.1M149.8 58.8l1.2 2.5M150.2 59.7l1 1.5M152.6 58.8l1 2.3M155.9 59.3l1 1.7M157.3 59.9l1 1.7M158.4 60.2l1.8 2.4M166.2 60.6l1.9 1.1M175.3 59.9l1.8 1.2M181.1 60.2l2.5 2.4M183.4 60.4l2.6 2.5M186.3 59l1.6 2.2M216.3 60.4l1.7 1.8M216.8 58.8l2.8 3.1M219 59.8l2 2.6M84 61.8l.8 1.6M84.7 61.9l2.5 2.2M87.8 60.5l.7 3.1M99.6 61.3l1.5 2.1M107 62l2.3 2.6M117.8 61.7l1.3 1.7M136.5 62.4l1.7 2.4M142.3 61.6l2.6 2M144.7 62l2.3 2.2M149.6 62.3l1.5 2.2M151.3 62l.8 2.6M155.1 61.6l2.5 2.2M163.7 62.7l2.2 1.5M190.9 62.2l1.7 1.6M196.9 61.8l2.5 3M206 62.2l1.9 2.5M210.3 61.6l2 3.3M86 63.9l1 1.7M89.3 63.8l1.5 2.6M92.3 63.1l.8 3.1M99.2 64.3l1.6 1.7M102.8 64.2l1.2 2.8M105.8 63.5l2.2 2.6M111 63.9l1.5 2.2M114.3 64.6l1.9 1.8M118 63.4l1.8 1.9M120.7 64l1.8 1.7M137 63l1.3 2.7M139.7 63.7l2 2.3M141.8 63.5l1.4 2.2M147.2 64l1.6 2.9M149.1 64.1l1.4 1.6M151.8 64.1l.9 2.6M166.6 62.9l2.1 3.5M170.9 63.8l1.9 2.3M215.5 64.7l1.6 2.2M216.8 63.5l2.4 3.3M224.4 63.5l1.4 2.9M88.6 65.5l1.5 2.4M90.7 66l1.1 3.1M92.5 66.7l.6 1.6M98 66l1.3 2M124.4 65.3l1.5 1.9M132.9 66.9l-1.4 2.2M131.9 66.7l2.4 1.5M138.6 65.3l.9 2.5M140.7 65.9l1.4 1.3M142.9 65.9l1 2.2M145.7 67l1.1 1.5M147.3 65.6l.5 3M148.6 67.2l1.2 1.3M159.7 65.1l1.4 2.2M183.5 66.8l1.7 1.9M186.1 66.1l2.7 2.8M205.7 65.4l2.5 3.3M86.1 67.8l1.8 2.2M89.6 67.8l.7 3.3M92 68.6l1.7 2.4M100.8 66.9l2.1 2.9M102.9 68.5l2.1 1.9M106.6 67.2l2.3 2.4M111.3 68.1l1.8 2.2M114.9 68.3l1.7 2.7M144.2 67.4l1.8 2.5M153.4 68.7l1.6 2.3M165.2 69l1.8 1.5M166.6 67l2.1 2.8M180.7 68.7l2.2 2.6M192.9 68.4l1.5 2.6M211.5 68.2l2.6 3.1M213.4 67.3l3 2.9M31 70.5l1 2.9M92.3 71.2l1.6 1.4M115.4 69.3l1.4 2.6M117.4 69.8l1.9 3.3M124.8 69.3l-.5 2.8M130.2 71.9l.3 1.8M152.7 69.8l1.3 2.1M153.4 70.6l3.3 2.7M180.5 70.2l2.1 2M185.2 70.8l1.6 1.7M189.1 70l2.1 3.4M206.3 69.7l2.8 2.8M94 72.5l1.2 1.5M106.2 71.7l1.6 2.3M119.6 73l1.7 1.4M144.5 72.2l1.9 1.8M145.5 72.1l2.3 2.9M149.5 71.6l1.9 3.3M159.5 72.3l1.7 1.9M170 71.8l1.5 1.8M182.2 72.1l2.9 2.8M184.4 72.6l2.9 2.5M93 74.6l.8 2.5M93.5 74.7l1.2 2.8M95.4 74.8l2.2 3M98.5 75.1l1.4 1.9M116.5 74.3l1.5 1.9M129.5 76l-.9 1.8M144 74.4l2.7 2.5M152.9 74.3l1.9 1.4M154.6 74.6l2.2 3.5M159 75l1.8 2M160.2 73.2l2.7 3M171.5 74.2l1.9 2.3M197.2 74.3l2.9 1.5M202.7 74.6l1.7 2.8M204.7 74.3l1.7 1.8M210.1 74.5l2.3 2.5M218.4 73l2 3.4M30 76.5l2 2.4M91.5 75.5l.3 2.7M93.7 76.1l1.1 1.4M100.2 75.7l2 3.1M104.6 76.4l2.8 1.5M119.4 76.5l1.3 1.8M125.8 76.1l1.7 1.7M130.3 77.4l-2.4 .7M154.4 76.5l1.2 1.9M160.3 75.7l3.2 2.4M166.3 76.7l1.3 2.2M176.6 76.8l1.9 3.1M185.4 75.9l2.3 1.9M194.9 76.4l1.7 2M216.1 76.7l1.9 2.1M217.7 75.4l3.1 2.9M218.9 75.2l2.4 3.3M90 78.3l2 1.9M92.3 78l.8 2.2M113.8 78.4l1.6 2.3M119.3 78l1.8 2.9M137.5 77.7l-2.2 1.5M157.2 78.9l1.3 1.9M169.1 78.3l2.4 3.1M173.6 77.9l2.1 3.3M207.5 77.6l2.7 3M221.7 78.1l1.1 3.4M88.3 81.4l1 1.6M89.5 80.4l1 1.7M98.8 80.9l1.7 1.9M100.4 80.1l2.3 2.9M101.4 80.8l2.3 2.5M130.2 80.4l-.1 2.2M144.6 79.9l2 2.5M145.9 79.9l2 3.1M158.9 81.1l1.6 2.5M176.4 80.2l2.3 3.4M178.3 80.1l2.7 2.6M188.2 80.3l1.6 1.8M192.4 80.9l1.9 1.9M197.2 80.6l2.4 3.1M203.5 81.2l2 2.3M222 79.8l2.6 2.7M226.2 80.5l1.1 2.6M88.1 83.2l.8 2.8M90.7 82.2l.5 2M96.6 82.5l1.7 2.3M100.8 82.1l1.3 1.9M120 83l1.1 1.9M166.1 83.8l1.6 1.8M187.8 82.2l2.3 3.5M197.4 83.7l1.5 2.1M198.9 83.1l1.4 1.7M205.9 82.5l2.1 1.8M206.2 83l2.8 2.8M226 83.3l3 2.9M95.1 84.4l.6 3.6M132.3 85.8l2.2 1.4M142.7 85.5l1.6 1.8M143.6 85l2.6 3.3M149.1 84.8l2 2.3M153 85.5l1.5 1.9M155 84.5l2.4 2.3M159.3 84.1l2.3 2.5M163.8 85.3l1.5 2M176.8 85.6l1.7 2M204.8 83.9l2 2.8M209 83.9l2.6 3M217.4 84.6l1.9 2.7M84.6 87l.7 2.9M84.9 86.9l2 2.8M90.4 87.2l.2 3.2M94.4 86.5l.2 3.6M121 86l2 3.1M130 87.8l-2.5 1M158.4 86.1l3 3M173.9 87.5l2 2.3M176.6 87.5l1.3 1.8M189.8 86.2l2.5 2.4M198.1 87.7l1.9 1.7M203.1 85.8l2.3 3.1M207.6 87.1l2 2.2M219.6 87.6l1.9 2.2M223.9 88.1l2 1.7M32.6 87.8l.3 3.3M42.6 89.6l1.1 2.6M86.4 89.7l1.8 2.2M100.3 89.3l2 3.3M103.8 88.9l1.7 1.8M113 89.5l1.8 2.9M115.8 89l1.2 1.8M117.8 88.3l1.5 2.9M125.5 89.5l2.4 2.6M137.4 89.1l.7 2.6M145.8 89.9l1.9 1.7M190.2 90l2.3 1.6M203.6 89.3l1.7 1.5M207.7 88.5l1.3 2.8M215.3 88.9l1.9 2.4M34.3 90.8l.8 2.4M36.6 90.4l.7 2M60.9 91.7l1.4 3M76.6 91.2l1.4 3.2M81.4 91.3l1.2 2.8M86.3 91.2l.3 2.2M91.7 91.2l1 2.5M102.4 91.2l2.3 2M112.4 90.6l1.8 3.3M114.9 90.6l.8 2.3M129.8 91.2l2.4 2.8M153.7 90.9l1.7 2M162.8 90.8l2.6 2.8M164.8 91.9l1.8 2.2M176 90.6l1.8 2.1M179.4 91.6l1.7 1.9M188.8 92l1.2 2M191.7 90.4l2.4 2.3M205.6 92l3 2.2M213 91.1l2.2 2.3M226.3 91.7l2.3 2.4M39.2 93.3l.8 2.5M54.9 92.3l-2.3 1.2M52.9 93.6l2.9 .9M52.8 93.6l2.2 .7M69.9 92.2l.8 3.6M70.6 93.9l1 2.4M73.8 92.4l.5 2.3M86.2 93.6l.4 3M91.7 92.5l1.3 3.2M104.6 92.5l2.1 2.7M113.4 94l1.1 2.1M125.8 93.5l2.3 2.4M127.2 94.2l2.7 1.9M131.5 93.2l2.9 2.4M138.4 92.8l1.7 1.6M159.1 92.8l1.9 2.6M166 92.4l1.7 2.2M167.5 93l1.7 1.8M173.6 94.1l1.2 1.9M189.2 93.4l1.9 1.5M192.5 93.7l2 2M197 92.3l1.9 2.5M199.7 93.2l1.8 1.7M37.1 96.2l1.1 2.1M52.2 94.5l-2.8 .6M56 93.8l.2 2.4M95.1 95.2l.7 2.9M103.1 94.9l1.4 1.7M113.2 95l1.7 3.3M147.8 94.7l2.7 2.4M154 96.3l2 1.9M167 94.7l2.2 2.2M186.5 95.8l2.6 2.2M188.9 95.1l2.9 3.1M190.3 95.4l2.5 2.8M192.5 94.7l1.8 3.4M205.3 94.8l1.7 2.1M208.7 94.6l1.7 3.1M222.1 95.8l2 1.9M44.1 98.1l1.3 2.7M73.4 96.9l1 3.4M84.2 96.8l.2 2.7M87.6 97.7l.7 2.7M93.5 98.1l1.5 2.3M99.4 97l1.1 2.3M105.3 97.8l2 2.5M109.6 97.9l1.4 2.5M118.5 96.7l2.1 2.3M121.1 98.1l.9 2.4M123.9 96.7l.9 2.6M127.9 96.6l1.2 2.4M135.6 98.2l2.2 1.9M147.3 96.7l2 2.2M188.8 98.3l2 2.2M200 97.6l1.5 1.9M212.1 97.2l2.6 2.8M218.7 97.6l1.3 2.3M32.1 99.4l.4 2.5M34.5 99.2l.7 2.5M39.8 100.4l.9 2.3M45.2 100.3l1.2 2.6M53.3 100.3l-1.9 .4M59.1 99.3l-.2 2.4M66.8 99.3l1.8 2.7M68.3 98.5l1.4 2.9M73.7 98.6l.7 3.5M93.6 99.6l1.3 2.6M95.2 98.9l1.9 3.2M119.2 99.5l2.5 2.1M123.7 99.1l2.2 2.3M130.2 100.8l1.5 1.5M131.5 100.4l2.3 2M139 100.3l2.5 2.3M142.1 99.2l2.7 2M153.2 99.5l1.8 2.2M160.5 99.3l1.6 1.7M188.4 99.9l3.3 .4M188.5 100.1l6.2 -.1M193.9 98.6l2.1 2.6M196.6 100.6l5.8 .6M206.7 101l4.1 1M31.6 100.9l.5 3.1M39.9 102.5l1 2.3M52.7 101.8l.9 2.4M55.7 102.1l.6 2.1M60.3 102l1.1 2.4M71.7 101.7l.9 2.2M79.3 101.7l.9 3.4M88.2 101.2l2.1 3.2M94.4 100.9l.3 2.1M96.1 100.9l1.1 2.6M111.3 102.1l1.5 1.6M115.1 102.8l1.9 1.8M122 100.7l1.5 2.7M139.3 102.4l3.2 2.2M161.8 101.5l1.3 1.7M179 102.1l3.2 2.4M186.8 103.2l5.1 .1M188.8 102.3l5.1 .1M195 101.6l4.9 1M197.1 102.9l4.8 1.2M215.6 102.5l4.1 0M219.3 102.6l6.4 1.1M223.7 101.9l3.6 0M35.9 103.3l.8 2.1M43.6 103.8l1.3 3.3M50.1 103.1l1.1 3.3M61.1 103.9l1.9 2.6M66.5 102.9l.9 3.1M74.8 103.7l.9 2.4M77.6 103.3l.9 3.6M85.1 102.9l.4 2.4M91.4 102.7l.2 2.9M91.8 103l1.5 2.4M110.9 103.8l2.3 2.3M121.3 103.5l1.2 3.3M126.2 104.3l1.5 2.1M131.8 103.1l2.2 3.1M150 103.7l2.6 3.3M152.9 103.7l2.2 1.7M169.2 103.7l2.6 3.3M182.3 105.1l6.5 -.2M220.4 105.6l4.2 -.5M224.8 104.2l4.3 .2M33.8 106l.6 3.1M37.3 105.6l1.4 3.4M42.1 106.7l.5 2.3M46.4 105.6l.3 3.1M48.1 106.5l.2 2.2M50 104.5l.9 3.5M55.2 105.4l.7 2.4M65.9 105.6l.9 2.8M69.2 105.7l1.2 1.9M76.3 106.4l.9 2.6M76.9 105.9l1.1 3.3M86.6 106.6l1.2 2.5M90.8 105.5l.6 3.4M97.1 104.4l1.4 3.4M98.3 106.7l.8 2.5M102 105.3l2 3M106.1 105.8l1.8 1.8M120.7 106.4l1.6 2.2M126.4 106.2l1.7 2.6M140.9 106.4l1.6 2.6M186.6 107.5l3.2 -.2M188.6 106.8l4.5 .8M194.3 107.8l3.7 -.1M196.9 106.9l3.2 .2M205.6 107l3.8 .1M32.4 107.8l.5 3.2M46.8 107.3l1.1 3.2M54 107.2l1.3 2.9M55.7 107.6l1.3 2.3M76.3 106.6l1.3 3.3M86.2 107.7l1.7 2.3M92.9 107.5l.9 3M103.1 107.8l1.5 3M117.8 108.1l1.6 2.2M119.8 108l2 2.4M123.4 108.2l1.4 2.3M125.4 107.3l2.3 2M130.4 106.9l1.7 2.7M131.3 108.4l2.5 2.7M168 107.5l1.6 1.7M179.3 107.7l6.6 1.1M185.1 107.9l4.8 .9M206.6 108.7l3.5 1.1M220.8 108.3l4.5 -.1M35.8 109.6l1.3 1.7M38.6 110.3l1.1 2.5M46.1 109.6l.8 2.2M47.4 109.4l2.1 1.9M68.4 110.5l1.6 2.8M77.4 110.2l1.3 3.2M85.5 109.5l.5 2.4M107.7 109.5l2.4 2.5M112.2 110.9l.9 2.1M117.8 109.3l1.3 2.2M118.5 109.5l2.2 2.9M125.5 110.6l1.3 2.2M131.7 110l2.4 2.4M162.8 109.6l2.5 2.7M172.7 109.6l1.3 2.4M173.9 109.7l2.2 2.6M208.3 110.4l4.6 1.3M221.5 111.4l4.9 .8M36.2 111.9l.9 2.6M37.5 112.6l1.3 3.2M48.2 111.9l1.3 2.8M49.8 111.8l1.2 1.9M54.3 112.3l.7 3.2M57.9 112.4l1.5 2.9M66.7 112.4l.6 3.2M70 111.5l.6 2.1M77.6 110.9l1.3 3.3M92.2 112.6l1.3 2.4M95 110.9l1 3.4M106.6 111.9l.9 2.6M109.3 113.3l1.4 1.7M110.5 111.6l1.2 2.4M123.7 112.6l.6 2.4M136.3 111.4l2.2 2.9M145.8 111.6l2.7 3.1M162.7 112.8l2.4 1.6M172.3 112.2l1.8 2.7M183.2 112.3l5.5 .8M202.9 113.1l5.3 1.4" stroke="#3f7fc6" stroke-width=".9" fill="none"/><path d="M129.9 61.1l1.5 1.8M128.1 62l1.5 1.1M132.7 61.5l-1.9 .8M132.1 61.9l.4 2.3M132.4 63.2l-2.8 .5M135.4 63l-1.8 .7M135.2 63.1l-2.8 .6M126.8 63.2l-1 2.2M129.1 64.2l0 2.1M128 65.1l1.9 1.7M132.7 63.8l-2.7 .7M131.5 65.1l-2.5 .6M132 64.3l2.4 1.6M133.7 63.5l0 1.9M126.9 68.6l1.7 .6M131.1 67.3l1.3 2.1M136.3 67.8l-1.7 .9M136.4 67.1l1.1 2.1M126.8 69.3l-2.7 .7M125.9 68.3l-1.5 1.4M130.1 70.2l-1.9 .2M130.8 69.5l2.1 .9M133.9 69.7l-2.5 0M133.2 70.3l-1.5 1.3M134.3 67.9l1.9 2.1M135.8 69.5l.8 1.4M123.4 69.5l.9 2.3M127.5 69.7l.6 1.5M127.8 69.7l-.3 2.4M127.6 69.8l.5 1.9M128.9 69.2l1 1.6M129.8 71.1l.9 2.8M132.6 70.9l1.7 1.4M136.4 71.1l-2.2 .4M136.6 72.5l2 .7M138.3 71.1l-2.1 .4M136.9 70.7l2.2 2M122.6 72.8l1.9 1.4M123.2 73.3l.9 1.4M125.4 74.1l1.9 .8M129.1 72.8l1.2 2.2M130 73.4l-.8 2.1M130.9 71.5l-1.9 2.2M134.4 72.9l-2.2 .6M134 71.4l.2 2.1M137.3 72.6l-2.4 .5M137.4 71.8l2 .8M126.2 75.8l-2.5 1.4M127.1 74.6l.1 1.7M127.7 75.6l1.4 2.2M129.4 74.3l1.1 2.3M130.5 75.3l-2.4 .4M131.6 73.8l2 1M135.8 73.3l-.2 2.7M133.9 74.8l1.2 1.2M138.5 73.4l-2.7 .8M137.3 73.6l-.7 2.9M138.7 73.6l1.4 1.9M139.4 74.5l-1.6 1.3M123.6 75.6l1.6 1.9M124.4 76.2l-.1 1.6M128.9 77.3l-2.4 1.1M128.4 75.9l-1 1.2M131 77.2l-2.5 .7M133.2 76.9l-1.9 .9M131.9 77.4l.7 1.5M133.8 76.8l.9 1.9M134.4 76.6l.5 1.8M136.1 76.5l.7 1.8M138.2 76.3l-.4 1.8M139 77.2l-1.6 .9M125.5 80.5l-1.7 .6M127.7 78.7l-2.5 .4M126 78.2l1.5 .7M128.4 78.9l-2.1 1M127.3 79.2l2 .8M129.3 79.3l1.1 2.4M129.1 80.4l2.2 .4M132.8 79.7l.5 1.7M134.8 79.7l-1.9 .1M135 79.3l-2.4 1.5M139.9 81.2l-1.5 .5M125.3 82.2l-1.5 .6M126.4 79.7l.5 2.2M125.9 80.1l1 1.6M126.8 81.8l2 .8M133.5 80l-.9 2.2M133.7 79.1l.4 2.8M136.1 82l-2.6 .7M136.4 82.1l-1.7 .3M138.2 82.4l-1.8 .4M137.5 82.9l2.4 0M137.5 81.5l1.7 .2M124.9 83.5l-.5 1.9M126.7 84l-1.5 .9M128.7 83.4l-2.9 .1M126.6 83.1l1.5 .4M129 83.8l-2.6 .1M130 83l1.5 .1M133.8 82.4l-1 1.5M134.8 82.5l1.2 1M136.8 82.7l1.3 1.4M139.6 82l-1 2.2M127 85.9l-1.8 1.7M123.7 86.5l2.9 .2M125.2 84.5l1.5 2.6M127.5 84.3l.6 2.4M126.4 84.7l1.8 .9M130.7 85.3l-.1 1.5M136.7 86.1l-2 0M134.7 87.3l-1.6 0M137.9 87l-1.4 1M134.9 85.5l1.8 2.2M128.9 88.2l-1.3 2M129.6 87.5l.1 1.7M130.7 86.5l.6 2.2M131.5 86.2l-2.1 .6M132.3 87.9l2.4 .3M136.2 88.3l-2.7 1M134.5 87.8l.6 2.5M135.9 86l-.4 1.9M128.9 90.1l-1.2 1.5M129.3 88.2l-.5 2.7M130.1 89.4l2.7 1M129.1 90.2l2.6 1.1M132.8 89.8l-.2 1.7M134.6 90.3l-1.4 .6M134.7 89l-2.7 1M50.6 91.8l-1.8 1.3M56.7 92.1l-.8 1.7M48.3 93.5l-1.3 1.9M48.4 95.1l-2.6 .7M48.4 93.1l-.3 2.8M51.2 95.1l-2.4 .1M50.1 92.9l-1 2.5M59.2 94.7l-1.1 1.8M58.8 93.5l.1 1.8M59.1 93.4l-.7 2M45.4 96.4l-1.4 .9M45.8 95.8l-1.6 1.6M45.9 95.4l1 1.6M44.6 96.2l1.1 1.2M50.3 95.4l-2.6 .5M53.8 97.5l-1.7 .2M57.7 95.2l-2.4 .9M57.3 95.2l-1.5 .8M58.8 96.6l2.1 .3M48.5 97.4l-1.7 2.4M49.2 98.1l-1 1.7M51.9 97l-1.7 .4M52 97.4l-1 1.3M52.7 98.8l-2.1 1.2M56 96.4l-2.3 1.3M55 96.8l-.6 2.3M56.5 98.6l-0 2.7M59.6 97l-1.3 1.4M49.6 98.7l-1.7 1.4M49.8 99.9l-2.4 1.5M51 101.5l-1.7 .4M53.7 100.7l2.3 1.2" stroke="#c01c26" stroke-width="1.15" fill="none"/></g><path id="coast" d="M31.6 19L34.5 17.5L38.4 15.8L42.5 14L46.9 12.3L51.5 10.2L56 8L163.6 8L166.5 9.6L169.3 11.2L172.5 12.4L175.7 13.6L178.5 18L179 24L178.3 28.8L175.7 29.7L172 30.9L168.5 32.1L166 35.3L165.2 40.1L163.6 46.6L161.2 51.4L156.4 54.6L151.6 57.8L146 61L141.1 61.8L136.3 59.6L130.7 55.3L126.5 53.3L122.7 51.6L118.5 49.5L114.6 47.5L110 45.3L105 42.8L100.6 40.2L97 39.9L94 40.2L91.2 41.8L89 43.6L87 45.8L85.5 48.2L84.2 51.5L83.4 55L83.1 60.6L84.8 66.2L86.6 70.5L88.3 74.7L87.6 80.3L86.3 83.2L84.8 85.9L82.2 88.6L79.2 90.8L75.7 92L72.2 92.7L67.2 93.1L62.3 93.2L56.7 92.6L51.1 91.8L46.1 91L41.2 90.1L36.4 89.4L31.6 88.7M188.8 14.5L189.8 11.5L192.3 8.6L195 8L214.5 8L217.2 8.8L219.2 10.6L220.6 12.6L221.6 14.5" stroke="#4f8a66" stroke-width=".75" fill="none"/><path id="pr" d="M104.2 61L106.2 62.1L107.6 64.7L109.7 67.5L111.8 71L113.2 72.8L116.7 73.8L120.2 75.2L123.7 74.5L126.5 75.9L130.8 76.6L135 77L136.4 79.4L138.5 81.5L140.6 83.6L142.7 85.7L145.5 86.9L147.6 87.8L148.3 90.7L149 93.5L150.4 95.6L152.6 98.4L154.7 102.6L155.2 103.8" fill="none" stroke-linejoin="bevel"/><path id="pb" d="M104.2 61L106.2 62.1L103.4 63.9L100.5 66.1L99.6 69.6L99.8 73.1L101.2 76.6L100.5 80.1L101.2 83.6L104.1 84L105.2 85.7L105.5 88.8L107.6 91.4L111.1 93.5L114.6 93.9L119.5 94.2L124.4 94.9L126.5 97L130.1 99.8L133.6 102.6L137.8 105.1L139.9 104L144.1 102.3L149 101.2L152.6 100.5L155.2 103.8" fill="none" stroke-linejoin="bevel"/><path id="prd" d="M103.7 60.4L104.4 60.2L105.8 61.1L107.9 64.2L110 67.7L112.1 70.5L113.5 72.6L116.3 72.9L119.1 75.1L122.6 76.1L126.1 75.1L129 76.5L132.5 76.8L136 77.5L138.1 79.6L140.2 81.7L142.3 84.5L144.4 86.6L147.2 88.3L150 89.2L150.7 92.3L151.4 95.8L153.6 98.6L154.3 101.2L155.5 103.6" fill="none" stroke-linejoin="bevel"/><path id="pbd" d="M103.7 60.6L101.5 61.1L97.3 61.6L95.9 63.5L96.3 67L95.9 71.2L99.4 72.6L102 74.7L102.3 76.8L100.1 79.6L98.7 83.1L99.4 86.6L101.5 90.2L105.8 93L108.2 94.1L110.7 94.8L113.5 95L116.3 94.8L119.1 95L121.9 95.1L126.1 96.2L129 98.6L131.8 100.7L135.3 103.5L139.5 105.2L143 103.2L145.8 102.4L148.6 101.8L152.9 101.4L155.5 103.6" fill="none" stroke-linejoin="bevel"/><g id="axes" font-family="'Liberation Sans',Arial,sans-serif" font-size="6.0" fill="#2a2a2a"><path d="M31.6 8V113.3H227.7" stroke="#8a8a8a" stroke-width=".5" fill="none"/><path d="M44.5 113.3v-1.5M63.5 113.3v-1.5M82.5 113.3v-1.5M101.5 113.3v-1.5M120.5 113.3v-1.5M139.5 113.3v-1.5M158.5 113.3v-1.5M177.5 113.3v-1.5M196.5 113.3v-1.5M215.5 113.3v-1.5M31.6 22.4h1.5M31.6 40.9h1.5M31.6 60h1.5M31.6 78.7h1.5M31.6 97.8h1.5" stroke="#8a8a8a" stroke-width=".5"/><text transform="translate(44.5 122.9) scale(1 1.2)" text-anchor="middle">121.6</text><text transform="translate(63.5 122.9) scale(1 1.2)" text-anchor="middle">121.65</text><text transform="translate(82.5 122.9) scale(1 1.2)" text-anchor="middle">121.7</text><text transform="translate(101.5 122.9) scale(1 1.2)" text-anchor="middle">121.75</text><text transform="translate(120.5 122.9) scale(1 1.2)" text-anchor="middle">121.8</text><text transform="translate(139.5 122.9) scale(1 1.2)" text-anchor="middle">121.85</text><text transform="translate(158.5 122.9) scale(1 1.2)" text-anchor="middle">121.9</text><text transform="translate(177.5 122.9) scale(1 1.2)" text-anchor="middle">121.95</text><text transform="translate(196.5 122.9) scale(1 1.2)" text-anchor="middle">122</text><text transform="translate(215.5 122.9) scale(1 1.2)" text-anchor="middle">122.05</text><text transform="translate(29.3 24.8) scale(1 1.2)" text-anchor="end">39.05</text><text transform="translate(29.3 43.3) scale(1 1.2)" text-anchor="end">39</text><text transform="translate(29.3 62.4) scale(1 1.2)" text-anchor="end">38.95</text><text transform="translate(29.3 81.1) scale(1 1.2)" text-anchor="end">38.9</text><text transform="translate(29.3 100.2) scale(1 1.2)" text-anchor="end">38.85</text><text font-family="'Liberation Serif','Times New Roman',serif" font-size="6.6" transform="translate(130.2 130.8) scale(1 1.2)" text-anchor="middle">Longitude(°)</text><text font-family="'Liberation Serif','Times New Roman',serif" font-size="6.6" transform="translate(11.6 61) rotate(-90) scale(1 1.2)" text-anchor="middle">Latitude(°)</text></g><filter id="soft" x="0" y="0" width="498" height="550" filterUnits="userSpaceOnUse"><feConvolveMatrix order="3" kernelMatrix="1 2 1 2 12 2 1 2 1" divisor="24" edgeMode="duplicate"/></filter></defs><g filter="url(#soft)"><rect width="498" height="550" fill="#fff"/><g transform="translate(0 0) scale(1 1)"><g clip-path="url(#pc)"><use href="#vor"/><use href="#land"/><use href="#coast"/><path d="M129.2 81l2.2-.9 2 .9.4 2-1.2 1.5 1.3 1.7-.3 2.5-2.1 1.5-2.3-.1-1.4-1.9.5-2.3 1.3-1.2-1.2-1.8z" fill="none" stroke="#7a7a7a" stroke-width=".6"/><path d="M130 73.4l1.8-.9 2.2.4.2.9-1.9.6z" fill="none" stroke="#8a8a8a" stroke-width=".45"/><path d="M53.5 99.5l1.5-.4 1.3.6M56 104.5l1-.4" fill="none" stroke="#999" stroke-width=".45"/><use href="#pr" stroke="#f2644f" stroke-width="1.05"/><use href="#pb" stroke="#5b9fd6" stroke-width="1.05"/></g><path d="M153.7 103.9L156.7 103.9M154.1 102.8L156.3 105M155.2 102.4L155.2 105.4M156.3 102.8L154.1 105" stroke="#222" stroke-width=".55"/><circle cx="103.6" cy="60.5" r="1.35" fill="none" stroke="#555" stroke-width=".5"/><text transform="translate(156.2 73) scale(1 1.12)" font-family="'Liberation Serif','Times New Roman',serif" font-size="5.9" fill="#333">The shortest path</text><path d="M151.8 75.2L144.5 80.4" stroke="#111" stroke-width=".5"/><path d="M142 82.2L144.1 78.2L145.3 79.9L146.4 81.5Z" fill="#111"/><text transform="translate(64.4 109.5) scale(1 1.12)" font-family="'Liberation Serif','Times New Roman',serif" font-size="6.1" fill="#333" textLength="79.8">Minimal energy-consuming path</text><path d="M103.4 103.3L106.8 95.6" stroke="#111" stroke-width=".5"/><path d="M108.3 92.8L108.4 97.3L106.6 96.4L104.8 95.6Z" fill="#111"/><rect x="168.7" y="13.7" width="53.9" height="15.5" fill="#fff" stroke="#555" stroke-width=".5"/><path d="M177.9 18.4L180.9 18.4M178.3 17.3L180.5 19.5M179.4 16.9L179.4 19.9M180.5 17.3L178.3 19.5" stroke="#222" stroke-width=".55"/><circle cx="179.4" cy="25" r="1.5" fill="none" stroke="#333" stroke-width=".5"/><text transform="translate(189.5 20.3) scale(1 1.12)" font-family="'Liberation Serif','Times New Roman',serif" font-size="6" fill="#222">Start Point</text><text transform="translate(189.5 27) scale(1 1.12)" font-family="'Liberation Serif','Times New Roman',serif" font-size="6" fill="#222">Arrival Point</text><use href="#axes"/></g><g transform="translate(260.2 -0) scale(1.008 1.005)"><g clip-path="url(#pc)"><use href="#quiv"/><use href="#land"/><use href="#pr" stroke="#111" stroke-width="1.3"/><use href="#pb" stroke="#111" stroke-width="1.3"/></g><circle cx="155.2" cy="103.9" r="1.4" fill="#111"/><circle cx="103.6" cy="60.5" r="1.35" fill="none" stroke="#555" stroke-width=".5"/><rect x="168.7" y="13.7" width="53.9" height="15.5" fill="#fff" stroke="#555" stroke-width=".5"/><circle cx="179.4" cy="18.4" r="1.3" fill="#111"/><circle cx="179.4" cy="25" r="1.5" fill="none" stroke="#333" stroke-width=".5"/><text transform="translate(189.5 20.3) scale(1 1.12)" font-family="'Liberation Serif','Times New Roman',serif" font-size="6" fill="#222">Start Point</text><text transform="translate(189.5 27) scale(1 1.12)" font-family="'Liberation Serif','Times New Roman',serif" font-size="6" fill="#222">Arrival Point</text><use href="#axes"/></g><g transform="translate(260.4 188.5) scale(1.008 1.005)"><g clip-path="url(#pc)"><use href="#vor"/><use href="#land"/><use href="#coast"/><path d="M129.2 81l2.2-.9 2 .9.4 2-1.2 1.5 1.3 1.7-.3 2.5-2.1 1.5-2.3-.1-1.4-1.9.5-2.3 1.3-1.2-1.2-1.8z" fill="none" stroke="#7a7a7a" stroke-width=".6"/><path d="M130 73.4l1.8-.9 2.2.4.2.9-1.9.6z" fill="none" stroke="#8a8a8a" stroke-width=".45"/><path d="M53.5 99.5l1.5-.4 1.3.6M56 104.5l1-.4" fill="none" stroke="#999" stroke-width=".45"/><use href="#prd" stroke="#f2644f" stroke-width="1.05"/><use href="#pbd" stroke="#5b9fd6" stroke-width="1.05"/></g><path d="M153.7 103.9L156.7 103.9M154.1 102.8L156.3 105M155.2 102.4L155.2 105.4M156.3 102.8L154.1 105" stroke="#222" stroke-width=".55"/><circle cx="103.6" cy="60.5" r="1.35" fill="none" stroke="#555" stroke-width=".5"/><text transform="translate(153.7 75) scale(1 1.12)" font-family="'Liberation Serif','Times New Roman',serif" font-size="5.9" fill="#333">The shortest path</text><path d="M150 78.2L146.2 80.4" stroke="#111" stroke-width=".5"/><path d="M143.7 81.7L146.2 78L147.2 79.8L148.2 81.5Z" fill="#111"/><text transform="translate(37.3 106.4) scale(1 1.12)" font-family="'Liberation Serif','Times New Roman',serif" font-size="6.1" fill="#333" textLength="79.5">Minimal energy-consuming path</text><path d="M118.4 100L121 98.6" stroke="#111" stroke-width=".5"/><path d="M123.3 97.2L120.8 100.9L119.8 99.2L118.8 97.4Z" fill="#111"/><rect x="168.7" y="13.7" width="53.9" height="15.5" fill="#fff" stroke="#555" stroke-width=".5"/><path d="M177.9 18.4L180.9 18.4M178.3 17.3L180.5 19.5M179.4 16.9L179.4 19.9M180.5 17.3L178.3 19.5" stroke="#222" stroke-width=".55"/><circle cx="179.4" cy="25" r="1.5" fill="none" stroke="#333" stroke-width=".5"/><text transform="translate(189.5 20.3) scale(1 1.12)" font-family="'Liberation Serif','Times New Roman',serif" font-size="6" fill="#222">Arrival Point</text><text transform="translate(189.5 27) scale(1 1.12)" font-family="'Liberation Serif','Times New Roman',serif" font-size="6" fill="#222">Start Point</text><use href="#axes"/></g><g transform="translate(.8 381.2) scale(0.99 0.982)"><g clip-path="url(#pc)"><use href="#quiv"/><use href="#land"/><use href="#prd" stroke="#111" stroke-width="1.3"/><use href="#pbd" stroke="#111" stroke-width="1.3"/></g><circle cx="155.2" cy="103.9" r="1.4" fill="#111"/><circle cx="103.6" cy="60.5" r="1.35" fill="none" stroke="#555" stroke-width=".5"/><rect x="168.7" y="13.7" width="53.9" height="15.5" fill="#fff" stroke="#555" stroke-width=".5"/><circle cx="179.4" cy="18.4" r="1.3" fill="#111"/><circle cx="179.4" cy="25" r="1.5" fill="none" stroke="#333" stroke-width=".5"/><text transform="translate(189.5 20.3) scale(1 1.12)" font-family="'Liberation Serif','Times New Roman',serif" font-size="6" fill="#222">Arrival Point</text><text transform="translate(189.5 27) scale(1 1.12)" font-family="'Liberation Serif','Times New Roman',serif" font-size="6" fill="#222">Start Point</text><use href="#axes"/></g><g><path d="M49.5 308.3H208.3M49.5 304.2H208.3M49.5 300H208.3M49.5 295.8H208.3M49.5 291.7H208.3M49.5 287.5H208.3M49.5 283.3H208.3M49.5 279.2H208.3M49.5 275H208.3M49.5 270.8H208.3M49.5 266.7H208.3M49.5 262.5H208.3M49.5 258.3H208.3M49.5 254.2H208.3M49.5 250H208.3M49.5 245.8H208.3M49.5 241.7H208.3M49.5 237.5H208.3M49.5 233.3H208.3M49.5 229.2H208.3M49.5 225H208.3M49.5 220.8H208.3M49.5 216.7H208.3M49.5 212.5H208.3M49.5 208.3H208.3M49.5 204.2H208.3M49.5 200H208.3M49.5 195.8H208.3M49.5 191.7H208.3M54 187.5V312.5M58.6 187.5V312.5M63.2 187.5V312.5M67.7 187.5V312.5M72.3 187.5V312.5M76.9 187.5V312.5M81.5 187.5V312.5M86.1 187.5V312.5M90.7 187.5V312.5M95.2 187.5V312.5M99.8 187.5V312.5M104.4 187.5V312.5M109 187.5V312.5M113.6 187.5V312.5M118.2 187.5V312.5M122.7 187.5V312.5M127.3 187.5V312.5M131.9 187.5V312.5M136.5 187.5V312.5M141.1 187.5V312.5M145.7 187.5V312.5M150.2 187.5V312.5M154.8 187.5V312.5M159.4 187.5V312.5M164 187.5V312.5M168.6 187.5V312.5M173.2 187.5V312.5M177.8 187.5V312.5M182.3 187.5V312.5M186.9 187.5V312.5M191.5 187.5V312.5M196.1 187.5V312.5M200.7 187.5V312.5M205.3 187.5V312.5" stroke="#efefef" stroke-width=".45" fill="none"/><path d="M49.5 291.7H208.3M49.5 270.8H208.3M49.5 250H208.3M49.5 229.2H208.3M49.5 208.3H208.3M72.3 187.5V312.5M95.2 187.5V312.5M118.2 187.5V312.5M141.1 187.5V312.5M164 187.5V312.5M186.9 187.5V312.5" stroke="#e8e8e8" stroke-width=".5" fill="none"/><path d="M49.6 312.5V208.7M52 312.5V292.1M54.3 312.5V189.4M56.7 312.5V265.8M59.3 312.5V312.5M61.8 312.5V212.8M63.9 312.5V233.2M66.7 312.5V293M71.1 312.5V295.2M74.3 312.5V209.7M76.2 312.5V296.6M78.8 312.5V303.6M81.7 312.5V309.9M83.9 312.5V251.3M86.4 312.5V301.7M89.6 312.5V312.5M91.5 312.5V310.6M94 312.5V297.2M98.5 312.5V297.2M101 312.5V304.1M105 312.5V310.9M111.1 312.5V309.2M116.2 312.5V311.9M118.9 312.5V303.2M128.6 312.5V306.1M133.2 312.5V269.8M135.9 312.5V306.1M138.3 312.5V283.2M145.6 312.5V307.9M147.9 312.5V291.4M151 312.5V280.9M155.4 312.5V307.6M158.2 312.5V261.2M160.6 312.5V307.6M163 312.5V293.5M167.8 312.5V298.9" stroke="#f4a29d" stroke-width=".9" fill="none"/><g fill="none" stroke="#f4a29d" stroke-width=".8"><circle cx="49.6" cy="206.8" r="1.85"/><circle cx="52" cy="290.2" r="1.85"/><circle cx="54.3" cy="187.6" r="1.85"/><circle cx="56.7" cy="263.9" r="1.85"/><circle cx="59.3" cy="310.6" r="1.85"/><circle cx="61.8" cy="211" r="1.85"/><circle cx="63.9" cy="231.3" r="1.85"/><circle cx="66.7" cy="291.1" r="1.85"/><circle cx="71.1" cy="293.4" r="1.85"/><circle cx="74.3" cy="207.8" r="1.85"/><circle cx="76.2" cy="294.7" r="1.85"/><circle cx="78.8" cy="301.7" r="1.85"/><circle cx="81.7" cy="308" r="1.85"/><circle cx="83.9" cy="249.5" r="1.85"/><circle cx="86.4" cy="299.8" r="1.85"/><circle cx="89.6" cy="310.6" r="1.85"/><circle cx="91.5" cy="308.7" r="1.85"/><circle cx="94" cy="295.3" r="1.85"/><circle cx="98.5" cy="295.3" r="1.85"/><circle cx="101" cy="302.2" r="1.85"/><circle cx="105" cy="309" r="1.85"/><circle cx="111.1" cy="307.3" r="1.85"/><circle cx="116.2" cy="310" r="1.85"/><circle cx="118.9" cy="301.4" r="1.85"/><circle cx="128.6" cy="304.2" r="1.85"/><circle cx="133.2" cy="267.9" r="1.85"/><circle cx="135.9" cy="304.2" r="1.85"/><circle cx="138.3" cy="281.3" r="1.85"/><circle cx="145.6" cy="306" r="1.85"/><circle cx="147.9" cy="289.5" r="1.85"/><circle cx="151" cy="279" r="1.85"/><circle cx="155.4" cy="305.7" r="1.85"/><circle cx="158.2" cy="259.4" r="1.85"/><circle cx="160.6" cy="305.7" r="1.85"/><circle cx="163" cy="291.6" r="1.85"/><circle cx="167.8" cy="297" r="1.85"/></g><path d="M53 312.5V208.3M56.8 312.5V224.5M60.9 312.5V314.7M64.1 312.5V314.7M68.3 312.5V231.5M69.2 312.5V297.9M72.4 312.5V270.5M76.2 312.5V307.4M80.4 312.5V283.2M83.9 312.5V294.7M88.1 312.5V308M91.9 312.5V242.3M96 312.5V292.5M99.8 312.5V313.4M103.3 312.5V248M111.1 312.5V274.9M115 312.5V293.4M122.9 312.5V294.5M126.6 312.5V306.9M130.6 312.5V298.1M138.3 312.5V294.5M142.1 312.5V311.4M149.8 312.5V286M153 312.5V312.9M157.5 312.5V313.4M165.7 312.5V304.9M169.5 312.5V303.9M173.5 312.5V306.4M177.1 312.5V314.2M181.1 312.5V301.2M184.9 312.5V266.4M188.8 312.5V307.1M192.8 312.5V298.9" stroke="#a3c4e4" stroke-width=".9" fill="none"/><g fill="none" stroke="#a3c4e4" stroke-width=".8"><circle cx="53" cy="206.5" r="1.85"/><circle cx="56.8" cy="222.7" r="1.85"/><circle cx="60.9" cy="312.8" r="1.85"/><circle cx="64.1" cy="312.8" r="1.85"/><circle cx="68.3" cy="229.7" r="1.85"/><circle cx="69.2" cy="296" r="1.85"/><circle cx="72.4" cy="268.6" r="1.85"/><circle cx="76.2" cy="305.5" r="1.85"/><circle cx="80.4" cy="281.3" r="1.85"/><circle cx="83.9" cy="292.8" r="1.85"/><circle cx="88.1" cy="306.1" r="1.85"/><circle cx="91.9" cy="240.5" r="1.85"/><circle cx="96" cy="290.6" r="1.85"/><circle cx="99.8" cy="311.5" r="1.85"/><circle cx="103.3" cy="246.2" r="1.85"/><circle cx="111.1" cy="273" r="1.85"/><circle cx="115" cy="291.5" r="1.85"/><circle cx="122.9" cy="292.6" r="1.85"/><circle cx="126.6" cy="305" r="1.85"/><circle cx="130.6" cy="296.2" r="1.85"/><circle cx="138.3" cy="292.6" r="1.85"/><circle cx="142.1" cy="309.5" r="1.85"/><circle cx="149.8" cy="284.1" r="1.85"/><circle cx="153" cy="311" r="1.85"/><circle cx="157.5" cy="311.5" r="1.85"/><circle cx="165.7" cy="303" r="1.85"/><circle cx="169.5" cy="302" r="1.85"/><circle cx="173.5" cy="304.5" r="1.85"/><circle cx="177.1" cy="312.4" r="1.85"/><circle cx="181.1" cy="299.4" r="1.85"/><circle cx="184.9" cy="264.5" r="1.85"/><circle cx="188.8" cy="305.2" r="1.85"/><circle cx="192.8" cy="297" r="1.85"/></g><rect x="49.5" y="187.5" width="158.8" height="125" fill="none" stroke="#a0a0a0" stroke-width=".5"/><path d="M49.5 312.5h1.2M208.3 312.5h-1.2M49.5 291.7h1.2M208.3 291.7h-1.2M49.5 270.8h1.2M208.3 270.8h-1.2M49.5 250h1.2M208.3 250h-1.2M49.5 229.2h1.2M208.3 229.2h-1.2M49.5 208.3h1.2M208.3 208.3h-1.2M49.5 187.5h1.2M208.3 187.5h-1.2M49.4 312.5v-1.2M49.4 187.5v1.2M72.3 312.5v-1.2M72.3 187.5v1.2M95.2 312.5v-1.2M95.2 187.5v1.2M118.2 312.5v-1.2M118.2 187.5v1.2M141.1 312.5v-1.2M141.1 187.5v1.2M164 312.5v-1.2M164 187.5v1.2M186.9 312.5v-1.2M186.9 187.5v1.2" stroke="#777" stroke-width=".45"/><g font-family="'Liberation Serif','Times New Roman',serif" font-size="5.2" fill="#333"><text transform="translate(47.5 314.8) scale(1 1.1)" text-anchor="end">0</text><text transform="translate(47.5 294) scale(1 1.1)" text-anchor="end">10</text><text transform="translate(47.5 273.1) scale(1 1.1)" text-anchor="end">20</text><text transform="translate(47.5 252.3) scale(1 1.1)" text-anchor="end">30</text><text transform="translate(47.5 231.5) scale(1 1.1)" text-anchor="end">40</text><text transform="translate(47.5 210.6) scale(1 1.1)" text-anchor="end">50</text><text transform="translate(47.5 189.8) scale(1 1.1)" text-anchor="end">60</text><text transform="translate(49.4 320) scale(1 1.1)" text-anchor="middle">8:00</text><text transform="translate(72.3 320) scale(1 1.1)" text-anchor="middle">8:30</text><text transform="translate(95.2 320) scale(1 1.1)" text-anchor="middle">9:00</text><text transform="translate(118.2 320) scale(1 1.1)" text-anchor="middle">9:30</text><text transform="translate(141.1 320) scale(1 1.1)" text-anchor="middle">10:00</text><text transform="translate(164 320) scale(1 1.1)" text-anchor="middle">10:30</text><text transform="translate(186.9 320) scale(1 1.1)" text-anchor="middle">11:00</text><text transform="translate(128.9 327.5) scale(1 1.12)" text-anchor="middle" font-size="5.8">Time (minute)</text><text transform="translate(39 250) rotate(-90) scale(1 1.12)" text-anchor="middle" font-size="5.8">Energy (KJ)</text></g><rect x="153.1" y="191.6" width="51.2" height="13.5" fill="#fff" stroke="#bdbdbd" stroke-width=".55"/><path d="M154.6 195.2h10.5" stroke="#f4a29d" stroke-width=".8"/><circle cx="165.1" cy="195.2" r="1.6" fill="#fff" stroke="#f4a29d" stroke-width=".8"/><path d="M154.6 201h10.5" stroke="#a3c4e4" stroke-width=".8"/><circle cx="165.1" cy="201" r="1.6" fill="#fff" stroke="#a3c4e4" stroke-width=".8"/><g font-family="'Liberation Serif','Times New Roman',serif" font-size="5.1" fill="#333"><text x="170.3" y="196.8">the shortest path</text><text x="170.3" y="202.6">the E path</text></g></g><g><path d="M310.4 501.2H469.7M310.4 498.4H469.7M310.4 495.6H469.7M310.4 492.8H469.7M310.4 490H469.7M310.4 487.2H469.7M310.4 484.4H469.7M310.4 481.6H469.7M310.4 478.8H469.7M310.4 476H469.7M310.4 473.2H469.7M310.4 470.5H469.7M310.4 467.7H469.7M310.4 464.9H469.7M310.4 462.1H469.7M310.4 459.3H469.7M310.4 456.5H469.7M310.4 453.7H469.7M310.4 450.9H469.7M310.4 448.1H469.7M310.4 445.3H469.7M310.4 442.5H469.7M310.4 439.7H469.7M310.4 436.9H469.7M310.4 434.1H469.7M310.4 431.3H469.7M310.4 428.5H469.7M310.4 425.7H469.7M310.4 422.9H469.7M310.4 420.1H469.7M310.4 417.3H469.7M310.4 414.5H469.7M310.4 411.7H469.7M310.4 409H469.7M310.4 406.2H469.7M310.4 403.4H469.7M310.4 400.6H469.7M310.4 397.8H469.7M310.4 395H469.7M310.4 392.2H469.7M310.4 389.4H469.7M310.4 386.6H469.7M310.4 383.8H469.7M310.4 381H469.7M315 378.2V504M319.3 378.2V504M323.5 378.2V504M327.7 378.2V504M332 378.2V504M336.2 378.2V504M340.4 378.2V504M344.7 378.2V504M348.9 378.2V504M353.1 378.2V504M357.4 378.2V504M361.6 378.2V504M365.8 378.2V504M370.1 378.2V504M374.3 378.2V504M378.5 378.2V504M382.8 378.2V504M387 378.2V504M391.2 378.2V504M395.5 378.2V504M399.7 378.2V504M403.9 378.2V504M408.2 378.2V504M412.4 378.2V504M416.6 378.2V504M420.9 378.2V504M425.1 378.2V504M429.4 378.2V504M433.6 378.2V504M437.8 378.2V504M442.1 378.2V504M446.3 378.2V504M450.5 378.2V504M454.8 378.2V504M459 378.2V504M463.2 378.2V504M467.5 378.2V504" stroke="#efefef" stroke-width=".45" fill="none"/><path d="M310.4 490H469.7M310.4 476H469.7M310.4 462.1H469.7M310.4 448.1H469.7M310.4 434.1H469.7M310.4 420.1H469.7M310.4 406.2H469.7M310.4 392.2H469.7M332 378.2V504M353.1 378.2V504M374.3 378.2V504M395.5 378.2V504M416.7 378.2V504M437.8 378.2V504M459 378.2V504" stroke="#e8e8e8" stroke-width=".5" fill="none"/><path d="M310.7 504V499.2M312.8 504V497.8M317 504V493.5M319.2 504V491.4M321.7 504V494.2M326.3 504V497.4M329.1 504V475.1M334.8 504V503.9M338.3 504V467M343 504V476.5M344.7 504V501.2M348.2 504V501.9M353.2 504V503.9M357.1 504V498.2M363.1 504V502.9M365.9 504V504.4M372.5 504V498.7M374.8 504V494.2M379.2 504V494.2M381.6 504V498.2M386.7 504V490.2M388.7 504V478.9M391 504V501.4M395.5 504V479.8M398 504V478.7M400 504V476.9M402.9 504V498.9M404.7 504V480.4M407.1 504V484.6M409.7 504V380.2M412.5 504V503.9M414.2 504V492.1M416.7 504V402.6M418.9 504V487.9M421 504V445.4" stroke="#f4a29d" stroke-width=".9" fill="none"/><g fill="none" stroke="#f4a29d" stroke-width=".8"><circle cx="310.7" cy="497.3" r="1.85"/><circle cx="312.8" cy="495.9" r="1.85"/><circle cx="317" cy="491.6" r="1.85"/><circle cx="319.2" cy="489.5" r="1.85"/><circle cx="321.7" cy="492.3" r="1.85"/><circle cx="326.3" cy="495.5" r="1.85"/><circle cx="329.1" cy="473.2" r="1.85"/><circle cx="334.8" cy="502" r="1.85"/><circle cx="338.3" cy="465.1" r="1.85"/><circle cx="343" cy="474.6" r="1.85"/><circle cx="344.7" cy="499.4" r="1.85"/><circle cx="348.2" cy="500" r="1.85"/><circle cx="353.2" cy="502" r="1.85"/><circle cx="357.1" cy="496.3" r="1.85"/><circle cx="363.1" cy="501" r="1.85"/><circle cx="365.9" cy="502.5" r="1.85"/><circle cx="372.5" cy="496.8" r="1.85"/><circle cx="374.8" cy="492.3" r="1.85"/><circle cx="379.2" cy="492.3" r="1.85"/><circle cx="381.6" cy="496.3" r="1.85"/><circle cx="386.7" cy="488.4" r="1.85"/><circle cx="388.7" cy="477" r="1.85"/><circle cx="391" cy="499.5" r="1.85"/><circle cx="395.5" cy="477.9" r="1.85"/><circle cx="398" cy="476.8" r="1.85"/><circle cx="400" cy="475" r="1.85"/><circle cx="402.9" cy="497" r="1.85"/><circle cx="404.7" cy="478.5" r="1.85"/><circle cx="407.1" cy="482.7" r="1.85"/><circle cx="409.7" cy="378.3" r="1.85"/><circle cx="412.5" cy="502" r="1.85"/><circle cx="414.2" cy="490.2" r="1.85"/><circle cx="416.7" cy="400.7" r="1.85"/><circle cx="418.9" cy="486" r="1.85"/><circle cx="421" cy="443.5" r="1.85"/></g><path d="M313.5 504V499.2M318.5 504V497.8M323.4 504V500.9M327.7 504V493.5M332.6 504V491.1M336.9 504V494.5M341.6 504V502.8M346.4 504V489.2M351 504V501.2M355.7 504V489.2M360.3 504V500.6M364.5 504V505.2M369.5 504V444.4M378.5 504V497.4M383 504V463.4M387.7 504V502M392.4 504V488.9M396.9 504V504.9M401.9 504V497.4M406.1 504V458.1M410.8 504V501.1M415.3 504V489.7M419.9 504V497.8M424.6 504V401.7M429.2 504V503.5M433.9 504V486.6M438.4 504V405.7M442.9 504V505.2M447.5 504V505.2M452.4 504V422.1M456.8 504V445" stroke="#a3c4e4" stroke-width=".9" fill="none"/><g fill="none" stroke="#a3c4e4" stroke-width=".8"><circle cx="313.5" cy="497.3" r="1.85"/><circle cx="318.5" cy="495.9" r="1.85"/><circle cx="323.4" cy="499" r="1.85"/><circle cx="327.7" cy="491.6" r="1.85"/><circle cx="332.6" cy="489.2" r="1.85"/><circle cx="336.9" cy="492.6" r="1.85"/><circle cx="341.6" cy="500.9" r="1.85"/><circle cx="346.4" cy="487.4" r="1.85"/><circle cx="351" cy="499.4" r="1.85"/><circle cx="355.7" cy="487.4" r="1.85"/><circle cx="360.3" cy="498.7" r="1.85"/><circle cx="364.5" cy="503.3" r="1.85"/><circle cx="369.5" cy="442.5" r="1.85"/><circle cx="378.5" cy="495.5" r="1.85"/><circle cx="383" cy="461.5" r="1.85"/><circle cx="387.7" cy="500.1" r="1.85"/><circle cx="392.4" cy="487" r="1.85"/><circle cx="396.9" cy="503" r="1.85"/><circle cx="401.9" cy="495.5" r="1.85"/><circle cx="406.1" cy="456.2" r="1.85"/><circle cx="410.8" cy="499.2" r="1.85"/><circle cx="415.3" cy="487.8" r="1.85"/><circle cx="419.9" cy="495.9" r="1.85"/><circle cx="424.6" cy="399.8" r="1.85"/><circle cx="429.2" cy="501.6" r="1.85"/><circle cx="433.9" cy="484.7" r="1.85"/><circle cx="438.4" cy="403.8" r="1.85"/><circle cx="442.9" cy="503.3" r="1.85"/><circle cx="447.5" cy="503.3" r="1.85"/><circle cx="452.4" cy="420.2" r="1.85"/><circle cx="456.8" cy="443.1" r="1.85"/></g><rect x="310.4" y="378.2" width="159.3" height="125.8" fill="none" stroke="#a0a0a0" stroke-width=".5"/><path d="M310.4 504h1.2M469.7 504h-1.2M310.4 490h1.2M469.7 490h-1.2M310.4 476h1.2M469.7 476h-1.2M310.4 462.1h1.2M469.7 462.1h-1.2M310.4 448.1h1.2M469.7 448.1h-1.2M310.4 434.1h1.2M469.7 434.1h-1.2M310.4 420.1h1.2M469.7 420.1h-1.2M310.4 406.2h1.2M469.7 406.2h-1.2M310.4 392.2h1.2M469.7 392.2h-1.2M310.4 378.2h1.2M469.7 378.2h-1.2M310.8 504v-1.2M310.8 378.2v1.2M332 504v-1.2M332 378.2v1.2M353.1 504v-1.2M353.1 378.2v1.2M374.3 504v-1.2M374.3 378.2v1.2M395.5 504v-1.2M395.5 378.2v1.2M416.7 504v-1.2M416.7 378.2v1.2M437.8 504v-1.2M437.8 378.2v1.2M459 504v-1.2M459 378.2v1.2" stroke="#777" stroke-width=".45"/><g font-family="'Liberation Serif','Times New Roman',serif" font-size="5.2" fill="#333"><text transform="translate(308.4 505.9) scale(1 1.1)" text-anchor="end">0</text><text transform="translate(308.4 491.9) scale(1 1.1)" text-anchor="end">10</text><text transform="translate(308.4 477.9) scale(1 1.1)" text-anchor="end">20</text><text transform="translate(308.4 464) scale(1 1.1)" text-anchor="end">30</text><text transform="translate(308.4 450) scale(1 1.1)" text-anchor="end">40</text><text transform="translate(308.4 436) scale(1 1.1)" text-anchor="end">50</text><text transform="translate(308.4 422) scale(1 1.1)" text-anchor="end">60</text><text transform="translate(308.4 408.1) scale(1 1.1)" text-anchor="end">70</text><text transform="translate(308.4 394.1) scale(1 1.1)" text-anchor="end">80</text><text transform="translate(308.4 380.1) scale(1 1.1)" text-anchor="end">90</text><text transform="translate(310.8 510.6) scale(1 1.1)" text-anchor="middle">8:00</text><text transform="translate(332 510.6) scale(1 1.1)" text-anchor="middle">8:30</text><text transform="translate(353.1 510.6) scale(1 1.1)" text-anchor="middle">9:00</text><text transform="translate(374.3 510.6) scale(1 1.1)" text-anchor="middle">9:30</text><text transform="translate(395.5 510.6) scale(1 1.1)" text-anchor="middle">10:00</text><text transform="translate(416.7 510.6) scale(1 1.1)" text-anchor="middle">10:30</text><text transform="translate(437.8 510.6) scale(1 1.1)" text-anchor="middle">11:00</text><text transform="translate(459 510.6) scale(1 1.1)" text-anchor="middle">11:30</text><text transform="translate(390 519) scale(1 1.12)" text-anchor="middle" font-size="5.8">Time (minute)</text><text transform="translate(300 441.1) rotate(-90) scale(1 1.12)" text-anchor="middle" font-size="5.8">Energy (KJ)</text></g><rect x="414.4" y="382.3" width="52.4" height="13.7" fill="#fff" stroke="#bdbdbd" stroke-width=".55"/><path d="M415.9 386h10.5" stroke="#f4a29d" stroke-width=".8"/><circle cx="426.4" cy="386" r="1.6" fill="#fff" stroke="#f4a29d" stroke-width=".8"/><path d="M415.9 391.9h10.5" stroke="#a3c4e4" stroke-width=".8"/><circle cx="426.4" cy="391.9" r="1.6" fill="#fff" stroke="#a3c4e4" stroke-width=".8"/><g font-family="'Liberation Serif','Times New Roman',serif" font-size="5.1" fill="#333"><text x="431.6" y="387.6">the shortest path</text><text x="431.6" y="393.5">the E path</text></g></g><text x="125.5" y="158.2" text-anchor="middle" font-family="'Liberation Serif','Times New Roman',serif" font-size="12" fill="#111">(<tspan font-weight="bold">a</tspan>)</text><text x="386.5" y="158.2" text-anchor="middle" font-family="'Liberation Serif','Times New Roman',serif" font-size="12" fill="#111">(<tspan font-weight="bold">b</tspan>)</text><text x="125.6" y="348.5" text-anchor="middle" font-family="'Liberation Serif','Times New Roman',serif" font-size="12" fill="#111">(<tspan font-weight="bold">c</tspan>)</text><text x="386.5" y="348.5" text-anchor="middle" font-family="'Liberation Serif','Times New Roman',serif" font-size="12" fill="#111">(<tspan font-weight="bold">d</tspan>)</text><text x="125.6" y="539.9" text-anchor="middle" font-family="'Liberation Serif','Times New Roman',serif" font-size="12" fill="#111">(<tspan font-weight="bold">e</tspan>)</text><text x="386.8" y="540.3" text-anchor="middle" font-family="'Liberation Serif','Times New Roman',serif" font-size="12" fill="#111">(<tspan font-weight="bold">f</tspan>)</text></g></svg></body></html>
